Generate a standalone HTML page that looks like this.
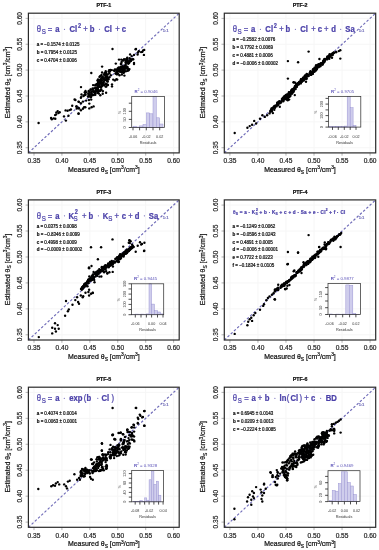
<!DOCTYPE html>
<html><head><meta charset="utf-8"><title>PTF scatter plots</title>
<style>html,body{margin:0;padding:0;background:#fff;} svg{display:block;filter:blur(0.35px);} text{font-family:'Liberation Sans', Arial, sans-serif;}</style>
</head><body>
<svg width="379" height="550" viewBox="0 0 379 550">
<rect width="379" height="550" fill="#fff"/>
<line x1="33.99" y1="13.2" x2="33.99" y2="152.9" stroke="#f6f6f6" stroke-width="1.0"/>
<line x1="28.4" y1="147.73" x2="179.2" y2="147.73" stroke="#f6f6f6" stroke-width="1.0"/>
<line x1="61.91" y1="13.2" x2="61.91" y2="152.9" stroke="#f6f6f6" stroke-width="1.0"/>
<line x1="28.4" y1="121.86" x2="179.2" y2="121.86" stroke="#f6f6f6" stroke-width="1.0"/>
<line x1="89.84" y1="13.2" x2="89.84" y2="152.9" stroke="#f6f6f6" stroke-width="1.0"/>
<line x1="28.4" y1="95.99" x2="179.2" y2="95.99" stroke="#f6f6f6" stroke-width="1.0"/>
<line x1="117.76" y1="13.2" x2="117.76" y2="152.9" stroke="#f6f6f6" stroke-width="1.0"/>
<line x1="28.4" y1="70.11" x2="179.2" y2="70.11" stroke="#f6f6f6" stroke-width="1.0"/>
<line x1="145.69" y1="13.2" x2="145.69" y2="152.9" stroke="#f6f6f6" stroke-width="1.0"/>
<line x1="28.4" y1="44.24" x2="179.2" y2="44.24" stroke="#f6f6f6" stroke-width="1.0"/>
<line x1="173.61" y1="13.2" x2="173.61" y2="152.9" stroke="#f6f6f6" stroke-width="1.0"/>
<line x1="28.4" y1="18.37" x2="179.2" y2="18.37" stroke="#f6f6f6" stroke-width="1.0"/>
<line x1="28.4" y1="152.9" x2="179.2" y2="13.2" stroke="#6f6bb8" stroke-width="1.15" stroke-dasharray="2.5,1.9"/>
<line x1="33.99" y1="152.9" x2="33.99" y2="155.70000000000002" stroke="#666" stroke-width="0.5"/>
<line x1="25.599999999999998" y1="147.73" x2="28.4" y2="147.73" stroke="#666" stroke-width="0.5"/>
<text stroke="#2a2a2a" stroke-width="0.22" x="33.99" y="163.10" font-size="6.6" text-anchor="middle" fill="#2a2a2a">0.35</text>
<text stroke="#2a2a2a" stroke-width="0.22" transform="translate(22.10,147.73) rotate(-90)" font-size="6.6" text-anchor="middle" fill="#2a2a2a">0.35</text>
<line x1="61.91" y1="152.9" x2="61.91" y2="155.70000000000002" stroke="#666" stroke-width="0.5"/>
<line x1="25.599999999999998" y1="121.86" x2="28.4" y2="121.86" stroke="#666" stroke-width="0.5"/>
<text stroke="#2a2a2a" stroke-width="0.22" x="61.91" y="163.10" font-size="6.6" text-anchor="middle" fill="#2a2a2a">0.40</text>
<text stroke="#2a2a2a" stroke-width="0.22" transform="translate(22.10,121.86) rotate(-90)" font-size="6.6" text-anchor="middle" fill="#2a2a2a">0.40</text>
<line x1="89.84" y1="152.9" x2="89.84" y2="155.70000000000002" stroke="#666" stroke-width="0.5"/>
<line x1="25.599999999999998" y1="95.99" x2="28.4" y2="95.99" stroke="#666" stroke-width="0.5"/>
<text stroke="#2a2a2a" stroke-width="0.22" x="89.84" y="163.10" font-size="6.6" text-anchor="middle" fill="#2a2a2a">0.45</text>
<text stroke="#2a2a2a" stroke-width="0.22" transform="translate(22.10,95.99) rotate(-90)" font-size="6.6" text-anchor="middle" fill="#2a2a2a">0.45</text>
<line x1="117.76" y1="152.9" x2="117.76" y2="155.70000000000002" stroke="#666" stroke-width="0.5"/>
<line x1="25.599999999999998" y1="70.11" x2="28.4" y2="70.11" stroke="#666" stroke-width="0.5"/>
<text stroke="#2a2a2a" stroke-width="0.22" x="117.76" y="163.10" font-size="6.6" text-anchor="middle" fill="#2a2a2a">0.50</text>
<text stroke="#2a2a2a" stroke-width="0.22" transform="translate(22.10,70.11) rotate(-90)" font-size="6.6" text-anchor="middle" fill="#2a2a2a">0.50</text>
<line x1="145.69" y1="152.9" x2="145.69" y2="155.70000000000002" stroke="#666" stroke-width="0.5"/>
<line x1="25.599999999999998" y1="44.24" x2="28.4" y2="44.24" stroke="#666" stroke-width="0.5"/>
<text stroke="#2a2a2a" stroke-width="0.22" x="145.69" y="163.10" font-size="6.6" text-anchor="middle" fill="#2a2a2a">0.55</text>
<text stroke="#2a2a2a" stroke-width="0.22" transform="translate(22.10,44.24) rotate(-90)" font-size="6.6" text-anchor="middle" fill="#2a2a2a">0.55</text>
<line x1="173.61" y1="152.9" x2="173.61" y2="155.70000000000002" stroke="#666" stroke-width="0.5"/>
<line x1="25.599999999999998" y1="18.37" x2="28.4" y2="18.37" stroke="#666" stroke-width="0.5"/>
<text stroke="#2a2a2a" stroke-width="0.22" x="173.61" y="163.10" font-size="6.6" text-anchor="middle" fill="#2a2a2a">0.60</text>
<text stroke="#2a2a2a" stroke-width="0.22" transform="translate(22.10,18.37) rotate(-90)" font-size="6.6" text-anchor="middle" fill="#2a2a2a">0.60</text>
<text stroke="#111" stroke-width="0.22" x="103.80" y="171.90" font-size="6.95" text-anchor="middle" fill="#111">Measured θ<tspan font-size="4.9" dy="1.6">S</tspan><tspan dy="-1.6"> [cm</tspan><tspan font-size="4.9" dy="-2.7">3</tspan><tspan dy="2.7">/cm</tspan><tspan font-size="4.9" dy="-2.7">3</tspan><tspan dy="2.7">]</tspan></text>
<text stroke="#1a1a1a" stroke-width="0.22" transform="translate(9.50,82.55) rotate(-90)" font-size="6.95" text-anchor="middle" fill="#1a1a1a">Estimated θ<tspan font-size="4.9" dy="1.6">S</tspan><tspan dy="-1.6"> [cm</tspan><tspan font-size="4.9" dy="-2.7">3</tspan><tspan dy="2.7">/cm</tspan><tspan font-size="4.9" dy="-2.7">3</tspan><tspan dy="2.7">]</tspan></text>
<text stroke="#111" stroke-width="0.22" x="103.80" y="6.90" font-size="5.3" font-weight="bold" text-anchor="middle" fill="#111">PTF-1</text>
<circle cx="38.6" cy="123.0" r="1.2"/>
<circle cx="51.1" cy="118.0" r="1.2"/>
<circle cx="51.8" cy="119.3" r="1.2"/>
<circle cx="53.7" cy="118.4" r="1.2"/>
<circle cx="55.3" cy="118.8" r="1.2"/>
<circle cx="55.1" cy="115.1" r="1.2"/>
<circle cx="56.4" cy="112.4" r="1.2"/>
<circle cx="57.7" cy="111.1" r="1.2"/>
<circle cx="58.4" cy="113.1" r="1.2"/>
<circle cx="59.7" cy="112.2" r="1.2"/>
<circle cx="56.1" cy="114.4" r="1.2"/>
<circle cx="64.0" cy="116.4" r="1.2"/>
<circle cx="65.9" cy="120.6" r="1.2"/>
<circle cx="65.6" cy="110.4" r="1.2"/>
<circle cx="67.6" cy="110.8" r="1.2"/>
<circle cx="68.5" cy="115.7" r="1.2"/>
<circle cx="69.6" cy="110.1" r="1.2"/>
<circle cx="70.9" cy="109.5" r="1.2"/>
<circle cx="72.2" cy="105.8" r="1.2"/>
<circle cx="74.6" cy="99.5" r="1.2"/>
<circle cx="76.4" cy="106.5" r="1.2"/>
<circle cx="76.8" cy="108.5" r="1.2"/>
<circle cx="78.5" cy="113.7" r="1.2"/>
<circle cx="78.8" cy="101.9" r="1.2"/>
<circle cx="79.1" cy="108.5" r="1.2"/>
<circle cx="78.6" cy="113.5" r="1.2"/>
<circle cx="76.6" cy="106.4" r="1.2"/>
<circle cx="78.6" cy="108.0" r="1.2"/>
<circle cx="80.9" cy="110.3" r="1.2"/>
<circle cx="82.9" cy="108.8" r="1.2"/>
<circle cx="84.1" cy="107.2" r="1.2"/>
<circle cx="85.3" cy="107.2" r="1.2"/>
<circle cx="78.6" cy="101.6" r="1.2"/>
<circle cx="80.9" cy="97.7" r="1.2"/>
<circle cx="80.9" cy="103.2" r="1.2"/>
<circle cx="82.9" cy="101.6" r="1.2"/>
<circle cx="89.3" cy="103.6" r="1.2"/>
<circle cx="89.3" cy="108.4" r="1.2"/>
<circle cx="91.6" cy="107.2" r="1.2"/>
<circle cx="93.6" cy="106.4" r="1.2"/>
<circle cx="88.9" cy="100.0" r="1.2"/>
<circle cx="91.2" cy="99.6" r="1.2"/>
<circle cx="75.4" cy="100.0" r="1.2"/>
<circle cx="98.0" cy="91.3" r="1.2"/>
<circle cx="100.3" cy="95.3" r="1.2"/>
<circle cx="102.7" cy="93.7" r="1.2"/>
<circle cx="95.6" cy="92.1" r="1.2"/>
<circle cx="98.0" cy="92.9" r="1.2"/>
<circle cx="102.1" cy="66.6" r="1.2"/>
<circle cx="102.1" cy="72.5" r="1.2"/>
<circle cx="112.0" cy="84.4" r="1.2"/>
<circle cx="112.0" cy="86.4" r="1.2"/>
<circle cx="106.1" cy="92.7" r="1.2"/>
<circle cx="102.9" cy="91.1" r="1.2"/>
<circle cx="98.2" cy="91.1" r="1.2"/>
<circle cx="118.8" cy="67.8" r="1.2"/>
<circle cx="121.1" cy="66.6" r="1.2"/>
<circle cx="116.4" cy="79.3" r="1.2"/>
<circle cx="114.8" cy="80.4" r="1.2"/>
<circle cx="113.2" cy="79.6" r="1.2"/>
<circle cx="119.5" cy="75.3" r="1.2"/>
<circle cx="121.9" cy="74.5" r="1.2"/>
<circle cx="123.5" cy="72.9" r="1.2"/>
<circle cx="110.8" cy="75.3" r="1.2"/>
<circle cx="108.5" cy="79.3" r="1.2"/>
<circle cx="109.3" cy="77.3" r="1.2"/>
<circle cx="136.0" cy="49.0" r="1.2"/>
<circle cx="138.0" cy="52.5" r="1.2"/>
<circle cx="138.8" cy="51.3" r="1.2"/>
<circle cx="141.1" cy="52.1" r="1.2"/>
<circle cx="143.1" cy="50.5" r="1.2"/>
<circle cx="143.9" cy="54.9" r="1.2"/>
<circle cx="137.6" cy="54.5" r="1.2"/>
<circle cx="134.0" cy="54.9" r="1.2"/>
<circle cx="131.6" cy="56.1" r="1.2"/>
<circle cx="119.0" cy="59.6" r="1.2"/>
<circle cx="121.3" cy="59.6" r="1.2"/>
<circle cx="122.9" cy="60.4" r="1.2"/>
<circle cx="120.9" cy="64.0" r="1.2"/>
<circle cx="115.8" cy="63.6" r="1.2"/>
<circle cx="118.6" cy="67.6" r="1.2"/>
<circle cx="127.3" cy="57.7" r="1.2"/>
<circle cx="134.0" cy="64.0" r="1.2"/>
<circle cx="133.2" cy="59.3" r="1.2"/>
<circle cx="112.5" cy="49.0" r="1.2"/>
<circle cx="144.2" cy="49.9" r="1.2"/>
<circle cx="124.4" cy="75.6" r="1.2"/>
<circle cx="117.2" cy="79.6" r="1.2"/>
<circle cx="91.3" cy="73.0" r="1.2"/>
<circle cx="135.6" cy="49.2" r="1.2"/>
<circle cx="142.2" cy="51.9" r="1.2"/>
<circle cx="95.6" cy="84.6" r="1.2"/>
<circle cx="97.3" cy="85.4" r="1.2"/>
<circle cx="84.8" cy="92.3" r="1.2"/>
<circle cx="101.7" cy="86.3" r="1.2"/>
<circle cx="95.3" cy="93.3" r="1.2"/>
<circle cx="97.6" cy="87.1" r="1.2"/>
<circle cx="97.0" cy="87.7" r="1.2"/>
<circle cx="105.0" cy="79.7" r="1.2"/>
<circle cx="107.4" cy="79.3" r="1.2"/>
<circle cx="105.4" cy="75.7" r="1.2"/>
<circle cx="105.9" cy="72.9" r="1.2"/>
<circle cx="98.8" cy="81.1" r="1.2"/>
<circle cx="91.2" cy="94.6" r="1.2"/>
<circle cx="105.2" cy="77.5" r="1.2"/>
<circle cx="88.0" cy="96.6" r="1.2"/>
<circle cx="89.8" cy="92.7" r="1.2"/>
<circle cx="99.9" cy="76.4" r="1.2"/>
<circle cx="98.8" cy="93.6" r="1.2"/>
<circle cx="100.5" cy="76.0" r="1.2"/>
<circle cx="92.9" cy="94.8" r="1.2"/>
<circle cx="102.8" cy="85.3" r="1.2"/>
<circle cx="96.5" cy="89.8" r="1.2"/>
<circle cx="92.6" cy="88.4" r="1.2"/>
<circle cx="94.6" cy="91.7" r="1.2"/>
<circle cx="107.9" cy="85.0" r="1.2"/>
<circle cx="100.8" cy="79.1" r="1.2"/>
<circle cx="99.5" cy="86.1" r="1.2"/>
<circle cx="103.9" cy="79.3" r="1.2"/>
<circle cx="104.1" cy="85.2" r="1.2"/>
<circle cx="95.3" cy="93.1" r="1.2"/>
<circle cx="103.0" cy="82.7" r="1.2"/>
<circle cx="95.3" cy="94.8" r="1.2"/>
<circle cx="99.5" cy="77.1" r="1.2"/>
<circle cx="100.8" cy="82.6" r="1.2"/>
<circle cx="91.5" cy="93.2" r="1.2"/>
<circle cx="103.3" cy="84.9" r="1.2"/>
<circle cx="91.3" cy="91.7" r="1.2"/>
<circle cx="106.9" cy="74.7" r="1.2"/>
<circle cx="100.9" cy="81.1" r="1.2"/>
<circle cx="100.9" cy="87.5" r="1.2"/>
<circle cx="102.9" cy="83.4" r="1.2"/>
<circle cx="100.5" cy="90.6" r="1.2"/>
<circle cx="93.9" cy="91.7" r="1.2"/>
<circle cx="109.2" cy="70.1" r="1.2"/>
<circle cx="101.3" cy="89.4" r="1.2"/>
<circle cx="88.5" cy="95.0" r="1.2"/>
<circle cx="98.2" cy="91.7" r="1.2"/>
<circle cx="91.7" cy="95.3" r="1.2"/>
<circle cx="98.6" cy="91.0" r="1.2"/>
<circle cx="106.0" cy="72.7" r="1.2"/>
<circle cx="92.1" cy="91.6" r="1.2"/>
<circle cx="97.5" cy="89.6" r="1.2"/>
<circle cx="110.5" cy="70.0" r="1.2"/>
<circle cx="90.8" cy="89.8" r="1.2"/>
<circle cx="101.2" cy="83.4" r="1.2"/>
<circle cx="107.3" cy="84.6" r="1.2"/>
<circle cx="88.3" cy="93.5" r="1.2"/>
<circle cx="98.1" cy="82.8" r="1.2"/>
<circle cx="94.1" cy="92.0" r="1.2"/>
<circle cx="98.9" cy="82.5" r="1.2"/>
<circle cx="98.2" cy="80.1" r="1.2"/>
<circle cx="109.8" cy="71.4" r="1.2"/>
<circle cx="102.6" cy="77.3" r="1.2"/>
<circle cx="98.0" cy="80.8" r="1.2"/>
<circle cx="101.2" cy="83.7" r="1.2"/>
<circle cx="107.7" cy="74.5" r="1.2"/>
<circle cx="91.5" cy="95.7" r="1.2"/>
<circle cx="108.6" cy="71.5" r="1.2"/>
<circle cx="107.0" cy="80.3" r="1.2"/>
<circle cx="105.7" cy="71.3" r="1.2"/>
<circle cx="94.1" cy="88.4" r="1.2"/>
<circle cx="97.2" cy="90.7" r="1.2"/>
<circle cx="97.1" cy="88.5" r="1.2"/>
<circle cx="98.6" cy="83.2" r="1.2"/>
<circle cx="109.8" cy="70.3" r="1.2"/>
<circle cx="95.9" cy="90.9" r="1.2"/>
<circle cx="97.5" cy="80.6" r="1.2"/>
<circle cx="104.2" cy="79.8" r="1.2"/>
<circle cx="100.9" cy="79.8" r="1.2"/>
<circle cx="100.0" cy="82.9" r="1.2"/>
<circle cx="89.8" cy="95.4" r="1.2"/>
<circle cx="106.5" cy="79.9" r="1.2"/>
<circle cx="105.0" cy="79.9" r="1.2"/>
<circle cx="101.2" cy="86.6" r="1.2"/>
<circle cx="89.0" cy="96.4" r="1.2"/>
<circle cx="102.0" cy="77.8" r="1.2"/>
<circle cx="101.8" cy="84.9" r="1.2"/>
<circle cx="98.0" cy="79.4" r="1.2"/>
<circle cx="100.5" cy="90.1" r="1.2"/>
<circle cx="89.6" cy="95.2" r="1.2"/>
<circle cx="98.5" cy="83.0" r="1.2"/>
<circle cx="100.0" cy="90.7" r="1.2"/>
<circle cx="83.4" cy="96.0" r="1.2"/>
<circle cx="97.9" cy="85.8" r="1.2"/>
<circle cx="101.7" cy="84.6" r="1.2"/>
<circle cx="90.6" cy="89.4" r="1.2"/>
<circle cx="93.8" cy="95.0" r="1.2"/>
<circle cx="84.3" cy="95.2" r="1.2"/>
<circle cx="103.7" cy="81.8" r="1.2"/>
<circle cx="100.8" cy="81.4" r="1.2"/>
<circle cx="95.3" cy="87.9" r="1.2"/>
<circle cx="99.5" cy="80.3" r="1.2"/>
<circle cx="105.4" cy="83.7" r="1.2"/>
<circle cx="104.1" cy="74.7" r="1.2"/>
<circle cx="85.5" cy="94.8" r="1.2"/>
<circle cx="105.6" cy="86.6" r="1.2"/>
<circle cx="102.6" cy="84.7" r="1.2"/>
<circle cx="99.8" cy="86.8" r="1.2"/>
<circle cx="104.6" cy="73.2" r="1.2"/>
<circle cx="98.6" cy="86.8" r="1.2"/>
<circle cx="106.3" cy="86.5" r="1.2"/>
<circle cx="105.1" cy="73.9" r="1.2"/>
<circle cx="106.3" cy="78.7" r="1.2"/>
<circle cx="85.0" cy="94.3" r="1.2"/>
<circle cx="99.0" cy="82.3" r="1.2"/>
<circle cx="102.6" cy="76.6" r="1.2"/>
<circle cx="92.8" cy="89.7" r="1.2"/>
<circle cx="103.3" cy="84.9" r="1.2"/>
<circle cx="106.1" cy="76.8" r="1.2"/>
<circle cx="105.9" cy="84.0" r="1.2"/>
<circle cx="107.1" cy="84.7" r="1.2"/>
<circle cx="98.4" cy="84.8" r="1.2"/>
<circle cx="98.4" cy="91.6" r="1.2"/>
<circle cx="101.5" cy="74.9" r="1.2"/>
<circle cx="88.7" cy="90.9" r="1.2"/>
<circle cx="97.7" cy="90.9" r="1.2"/>
<circle cx="96.9" cy="83.9" r="1.2"/>
<circle cx="97.8" cy="89.2" r="1.2"/>
<circle cx="106.1" cy="80.3" r="1.2"/>
<circle cx="90.8" cy="97.2" r="1.2"/>
<circle cx="105.3" cy="72.9" r="1.2"/>
<circle cx="114.7" cy="71.0" r="1.2"/>
<circle cx="116.6" cy="73.1" r="1.2"/>
<circle cx="120.5" cy="69.2" r="1.2"/>
<circle cx="116.0" cy="69.6" r="1.2"/>
<circle cx="115.9" cy="73.4" r="1.2"/>
<circle cx="117.4" cy="71.7" r="1.2"/>
<circle cx="123.0" cy="71.2" r="1.2"/>
<circle cx="116.9" cy="74.4" r="1.2"/>
<circle cx="124.1" cy="70.1" r="1.2"/>
<circle cx="119.3" cy="69.1" r="1.2"/>
<circle cx="122.8" cy="70.4" r="1.2"/>
<circle cx="119.8" cy="71.5" r="1.2"/>
<circle cx="121.2" cy="69.3" r="1.2"/>
<circle cx="118.1" cy="73.7" r="1.2"/>
<circle cx="121.8" cy="72.2" r="1.2"/>
<circle cx="117.5" cy="69.4" r="1.2"/>
<circle cx="123.6" cy="71.5" r="1.2"/>
<circle cx="116.9" cy="71.6" r="1.2"/>
<circle cx="115.7" cy="73.5" r="1.2"/>
<circle cx="114.9" cy="69.5" r="1.2"/>
<circle cx="121.9" cy="68.2" r="1.2"/>
<circle cx="119.3" cy="71.1" r="1.2"/>
<circle cx="123.4" cy="69.8" r="1.2"/>
<circle cx="122.7" cy="70.7" r="1.2"/>
<circle cx="132.4" cy="59.4" r="1.2"/>
<circle cx="130.7" cy="61.1" r="1.2"/>
<circle cx="125.3" cy="65.8" r="1.2"/>
<circle cx="118.0" cy="70.2" r="1.2"/>
<circle cx="123.9" cy="68.5" r="1.2"/>
<circle cx="121.8" cy="68.1" r="1.2"/>
<circle cx="123.8" cy="72.2" r="1.2"/>
<circle cx="128.5" cy="61.6" r="1.2"/>
<circle cx="125.7" cy="64.8" r="1.2"/>
<circle cx="130.2" cy="61.1" r="1.2"/>
<circle cx="126.7" cy="62.3" r="1.2"/>
<circle cx="122.5" cy="67.8" r="1.2"/>
<circle cx="128.9" cy="62.9" r="1.2"/>
<circle cx="128.8" cy="62.9" r="1.2"/>
<circle cx="130.7" cy="59.4" r="1.2"/>
<circle cx="127.9" cy="68.4" r="1.2"/>
<circle cx="124.7" cy="67.5" r="1.2"/>
<circle cx="122.6" cy="68.3" r="1.2"/>
<circle cx="127.5" cy="67.0" r="1.2"/>
<circle cx="121.5" cy="67.6" r="1.2"/>
<circle cx="124.7" cy="69.6" r="1.2"/>
<circle cx="118.0" cy="69.3" r="1.2"/>
<circle cx="117.7" cy="68.5" r="1.2"/>
<circle cx="128.6" cy="70.3" r="1.2"/>
<circle cx="126.9" cy="61.0" r="1.2"/>
<circle cx="126.0" cy="68.3" r="1.2"/>
<circle cx="121.3" cy="71.7" r="1.2"/>
<circle cx="117.6" cy="71.3" r="1.2"/>
<circle cx="125.3" cy="66.3" r="1.2"/>
<circle cx="125.6" cy="62.0" r="1.2"/>
<circle cx="117.3" cy="70.1" r="1.2"/>
<circle cx="120.5" cy="71.2" r="1.2"/>
<circle cx="130.8" cy="60.8" r="1.2"/>
<circle cx="127.5" cy="62.6" r="1.2"/>
<circle cx="127.8" cy="68.9" r="1.2"/>
<circle cx="122.3" cy="66.7" r="1.2"/>
<circle cx="125.8" cy="60.6" r="1.2"/>
<circle cx="125.8" cy="62.9" r="1.2"/>
<circle cx="127.2" cy="58.7" r="1.2"/>
<circle cx="127.7" cy="60.2" r="1.2"/>
<circle cx="126.9" cy="68.2" r="1.2"/>
<circle cx="129.4" cy="69.1" r="1.2"/>
<circle cx="125.8" cy="71.3" r="1.2"/>
<circle cx="125.0" cy="65.8" r="1.2"/>
<circle cx="123.2" cy="71.3" r="1.2"/>
<circle cx="129.3" cy="62.5" r="1.2"/>
<circle cx="126.3" cy="59.1" r="1.2"/>
<circle cx="127.6" cy="70.8" r="1.2"/>
<circle cx="123.0" cy="69.9" r="1.2"/>
<circle cx="81.5" cy="94.5" r="1.2"/>
<circle cx="95.2" cy="92.8" r="1.2"/>
<circle cx="81.0" cy="87.1" r="1.2"/>
<circle cx="81.2" cy="97.1" r="1.2"/>
<circle cx="86.1" cy="100.6" r="1.2"/>
<circle cx="93.1" cy="85.1" r="1.2"/>
<circle cx="88.9" cy="91.5" r="1.2"/>
<circle cx="95.2" cy="85.5" r="1.2"/>
<circle cx="93.8" cy="91.2" r="1.2"/>
<circle cx="86.2" cy="92.4" r="1.2"/>
<circle cx="96.3" cy="89.7" r="1.2"/>
<circle cx="85.5" cy="90.9" r="1.2"/>
<circle cx="108.2" cy="78.1" r="1.2"/>
<circle cx="107.6" cy="81.4" r="1.2"/>
<circle cx="97.3" cy="90.5" r="1.2"/>
<circle cx="97.8" cy="88.8" r="1.2"/>
<circle cx="107.5" cy="81.5" r="1.2"/>
<circle cx="109.3" cy="73.2" r="1.2"/>
<circle cx="100.7" cy="81.1" r="1.2"/>
<circle cx="99.0" cy="84.9" r="1.2"/>
<circle cx="103.5" cy="79.0" r="1.2"/>
<circle cx="103.5" cy="82.0" r="1.2"/>
<circle cx="101.9" cy="80.4" r="1.2"/>
<circle cx="107.3" cy="77.0" r="1.2"/>
<circle cx="96.2" cy="89.2" r="1.2"/>
<circle cx="102.8" cy="78.5" r="1.2"/>
<circle cx="120.1" cy="67.4" r="1.2"/>
<circle cx="122.7" cy="68.5" r="1.2"/>
<circle cx="122.5" cy="66.5" r="1.2"/>
<circle cx="121.1" cy="71.6" r="1.2"/>
<circle cx="125.1" cy="67.9" r="1.2"/>
<circle cx="123.5" cy="60.2" r="1.2"/>
<circle cx="119.2" cy="71.0" r="1.2"/>
<circle cx="121.3" cy="64.1" r="1.2"/>
<circle cx="121.6" cy="61.9" r="1.2"/>
<circle cx="121.1" cy="63.8" r="1.2"/>
<circle cx="126.4" cy="67.3" r="1.2"/>
<circle cx="111.8" cy="70.1" r="1.2"/>
<circle cx="114.0" cy="70.6" r="1.2"/>
<circle cx="123.5" cy="66.5" r="1.2"/>
<circle cx="126.5" cy="58.9" r="1.2"/>
<circle cx="124.1" cy="59.2" r="1.2"/>
<circle cx="130.2" cy="60.7" r="1.2"/>
<circle cx="126.7" cy="66.7" r="1.2"/>
<circle cx="129.7" cy="58.3" r="1.2"/>
<circle cx="134.0" cy="62.9" r="1.2"/>
<circle cx="130.1" cy="54.4" r="1.2"/>
<circle cx="128.3" cy="63.8" r="1.2"/>
<circle cx="127.2" cy="61.8" r="1.2"/>
<circle cx="131.8" cy="59.4" r="1.2"/>
<rect x="133.00" y="126.20" width="3.30" height="1.30" fill="#cfcdec" stroke="#9c96d4" stroke-width="0.5"/>
<rect x="136.30" y="127.00" width="3.30" height="0.50" fill="#cfcdec" stroke="#9c96d4" stroke-width="0.5"/>
<rect x="139.60" y="125.90" width="3.40" height="1.60" fill="#cfcdec" stroke="#9c96d4" stroke-width="0.5"/>
<rect x="143.00" y="124.50" width="3.30" height="3.00" fill="#cfcdec" stroke="#9c96d4" stroke-width="0.5"/>
<rect x="146.30" y="112.90" width="3.40" height="14.60" fill="#cfcdec" stroke="#9c96d4" stroke-width="0.5"/>
<rect x="149.70" y="113.80" width="3.30" height="13.70" fill="#cfcdec" stroke="#9c96d4" stroke-width="0.5"/>
<rect x="153.00" y="96.50" width="3.30" height="31.00" fill="#cfcdec" stroke="#9c96d4" stroke-width="0.5"/>
<rect x="156.30" y="117.80" width="3.40" height="9.70" fill="#cfcdec" stroke="#9c96d4" stroke-width="0.5"/>
<rect x="159.70" y="124.00" width="3.30" height="3.50" fill="#cfcdec" stroke="#9c96d4" stroke-width="0.5"/>
<rect x="131.70" y="96.40" width="32.80" height="31.10" fill="none" stroke="#333" stroke-width="0.75"/>
<line x1="133.00" y1="127.50" x2="133.00" y2="130.30" stroke="#222" stroke-width="0.8"/>
<text x="133.00" y="137.90" font-size="3.7" text-anchor="middle" fill="#333" stroke="none">-0.06</text>
<line x1="139.60" y1="127.50" x2="139.60" y2="130.30" stroke="#222" stroke-width="0.8"/>
<line x1="146.30" y1="127.50" x2="146.30" y2="130.30" stroke="#222" stroke-width="0.8"/>
<text x="146.30" y="137.90" font-size="3.7" text-anchor="middle" fill="#333" stroke="none">-0.02</text>
<line x1="153.00" y1="127.50" x2="153.00" y2="130.30" stroke="#222" stroke-width="0.8"/>
<line x1="159.70" y1="127.50" x2="159.70" y2="130.30" stroke="#222" stroke-width="0.8"/>
<text x="159.70" y="137.90" font-size="3.7" text-anchor="middle" fill="#333" stroke="none">0.02</text>
<line x1="128.80" y1="127.50" x2="131.70" y2="127.50" stroke="#222" stroke-width="0.8"/>
<text transform="translate(125.80,127.50) rotate(-90)" font-size="3.7" text-anchor="middle" fill="#333" stroke="none">0</text>
<line x1="128.80" y1="119.40" x2="131.70" y2="119.40" stroke="#222" stroke-width="0.8"/>
<text transform="translate(125.80,119.40) rotate(-90)" font-size="3.7" text-anchor="middle" fill="#333" stroke="none">50</text>
<line x1="128.80" y1="111.30" x2="131.70" y2="111.30" stroke="#222" stroke-width="0.8"/>
<text transform="translate(125.80,111.30) rotate(-90)" font-size="3.7" text-anchor="middle" fill="#333" stroke="none">100</text>
<line x1="128.80" y1="103.20" x2="131.70" y2="103.20" stroke="#222" stroke-width="0.8"/>
<text x="148.10" y="143.90" font-size="3.8" text-anchor="middle" fill="#333" stroke="none">Residuals</text>
<text transform="translate(120.70,112.45) rotate(-90)" font-size="3.4" text-anchor="middle" fill="#666" stroke="none">%</text>
<text x="146.10" y="92.80" font-size="4.35" text-anchor="middle" fill="#5b52b8" stroke="none"><tspan font-weight="bold">R</tspan><tspan font-size="3.0" dy="-2">2</tspan><tspan dy="2"> = 0.9046</tspan></text>
<rect x="28.4" y="13.2" width="150.80" height="139.70" fill="none" stroke="#2a2a2a" stroke-width="1.2"/>
<text stroke="#6f6bb8" stroke-width="0.22" x="162.80" y="32.30" font-size="4.1" fill="#6f6bb8">1:1</text>
<text stroke="#4b41a9" stroke-width="0.22" transform="translate(38.95,32.20) scale(0.9,1.13)" font-size="8.6" font-weight="normal" text-anchor="middle" fill="#4b41a9">θ</text>
<text stroke="#4b41a9" stroke-width="0.22" transform="translate(43.70,34.30) scale(1.0,1.13)" font-size="6.2" font-weight="normal" text-anchor="middle" fill="#4b41a9">S</text>
<text stroke="#4b41a9" stroke-width="0.22" transform="translate(50.00,32.20) scale(1.0,1.13)" font-size="7.7" font-weight="normal" text-anchor="middle" fill="#4b41a9">=</text>
<text stroke="#4b41a9" stroke-width="0.22" transform="translate(57.35,32.20) scale(1.0,1.13)" font-size="7.7" font-weight="bold" text-anchor="middle" fill="#4b41a9">a</text>
<circle cx="64.50" cy="29.30" r="0.6" fill="#4b41a9" opacity="0.8"/>
<text stroke="#4b41a9" stroke-width="0.22" transform="translate(73.30,32.20) scale(1.0,1.13)" font-size="7.7" font-weight="bold" text-anchor="middle" fill="#4b41a9">Cl</text>
<text stroke="#4b41a9" stroke-width="0.22" transform="translate(79.50,27.90) scale(1.0,1.13)" font-size="5.6" font-weight="bold" text-anchor="middle" fill="#4b41a9">2</text>
<text stroke="#4b41a9" stroke-width="0.22" transform="translate(85.60,32.20) scale(1.0,1.13)" font-size="7.7" font-weight="normal" text-anchor="middle" fill="#4b41a9">+</text>
<text stroke="#4b41a9" stroke-width="0.22" transform="translate(92.00,32.20) scale(1.0,1.13)" font-size="7.7" font-weight="bold" text-anchor="middle" fill="#4b41a9">b</text>
<circle cx="99.50" cy="29.30" r="0.6" fill="#4b41a9" opacity="0.8"/>
<text stroke="#4b41a9" stroke-width="0.22" transform="translate(108.10,32.20) scale(1.0,1.13)" font-size="7.7" font-weight="bold" text-anchor="middle" fill="#4b41a9">Cl</text>
<text stroke="#4b41a9" stroke-width="0.22" transform="translate(117.50,32.20) scale(1.0,1.13)" font-size="7.7" font-weight="normal" text-anchor="middle" fill="#4b41a9">+</text>
<text stroke="#4b41a9" stroke-width="0.22" transform="translate(123.90,32.20) scale(1.0,1.13)" font-size="7.7" font-weight="bold" text-anchor="middle" fill="#4b41a9">c</text>
<text stroke="#161616" stroke-width="0.22" x="36.70" y="45.80" font-size="4.5" fill="#161616"><tspan font-weight="bold">a</tspan> = −0.1574 ± 0.0125</text>
<text stroke="#161616" stroke-width="0.22" x="36.70" y="53.65" font-size="4.5" fill="#161616"><tspan font-weight="bold">b</tspan> = 0.7954 ± 0.0125</text>
<text stroke="#161616" stroke-width="0.22" x="36.70" y="61.50" font-size="4.5" fill="#161616"><tspan font-weight="bold">c</tspan> = 0.4704 ± 0.0006</text>
<line x1="229.91" y1="13.2" x2="229.91" y2="152.9" stroke="#f6f6f6" stroke-width="1.0"/>
<line x1="224.3" y1="147.73" x2="375.7" y2="147.73" stroke="#f6f6f6" stroke-width="1.0"/>
<line x1="257.94" y1="13.2" x2="257.94" y2="152.9" stroke="#f6f6f6" stroke-width="1.0"/>
<line x1="224.3" y1="121.86" x2="375.7" y2="121.86" stroke="#f6f6f6" stroke-width="1.0"/>
<line x1="285.98" y1="13.2" x2="285.98" y2="152.9" stroke="#f6f6f6" stroke-width="1.0"/>
<line x1="224.3" y1="95.99" x2="375.7" y2="95.99" stroke="#f6f6f6" stroke-width="1.0"/>
<line x1="314.02" y1="13.2" x2="314.02" y2="152.9" stroke="#f6f6f6" stroke-width="1.0"/>
<line x1="224.3" y1="70.11" x2="375.7" y2="70.11" stroke="#f6f6f6" stroke-width="1.0"/>
<line x1="342.06" y1="13.2" x2="342.06" y2="152.9" stroke="#f6f6f6" stroke-width="1.0"/>
<line x1="224.3" y1="44.24" x2="375.7" y2="44.24" stroke="#f6f6f6" stroke-width="1.0"/>
<line x1="370.09" y1="13.2" x2="370.09" y2="152.9" stroke="#f6f6f6" stroke-width="1.0"/>
<line x1="224.3" y1="18.37" x2="375.7" y2="18.37" stroke="#f6f6f6" stroke-width="1.0"/>
<line x1="224.3" y1="152.9" x2="375.7" y2="13.2" stroke="#6f6bb8" stroke-width="1.15" stroke-dasharray="2.5,1.9"/>
<line x1="229.91" y1="152.9" x2="229.91" y2="155.70000000000002" stroke="#666" stroke-width="0.5"/>
<line x1="221.5" y1="147.73" x2="224.3" y2="147.73" stroke="#666" stroke-width="0.5"/>
<text stroke="#2a2a2a" stroke-width="0.22" x="229.91" y="163.10" font-size="6.6" text-anchor="middle" fill="#2a2a2a">0.35</text>
<text stroke="#2a2a2a" stroke-width="0.22" transform="translate(218.00,147.73) rotate(-90)" font-size="6.6" text-anchor="middle" fill="#2a2a2a">0.35</text>
<line x1="257.94" y1="152.9" x2="257.94" y2="155.70000000000002" stroke="#666" stroke-width="0.5"/>
<line x1="221.5" y1="121.86" x2="224.3" y2="121.86" stroke="#666" stroke-width="0.5"/>
<text stroke="#2a2a2a" stroke-width="0.22" x="257.94" y="163.10" font-size="6.6" text-anchor="middle" fill="#2a2a2a">0.40</text>
<text stroke="#2a2a2a" stroke-width="0.22" transform="translate(218.00,121.86) rotate(-90)" font-size="6.6" text-anchor="middle" fill="#2a2a2a">0.40</text>
<line x1="285.98" y1="152.9" x2="285.98" y2="155.70000000000002" stroke="#666" stroke-width="0.5"/>
<line x1="221.5" y1="95.99" x2="224.3" y2="95.99" stroke="#666" stroke-width="0.5"/>
<text stroke="#2a2a2a" stroke-width="0.22" x="285.98" y="163.10" font-size="6.6" text-anchor="middle" fill="#2a2a2a">0.45</text>
<text stroke="#2a2a2a" stroke-width="0.22" transform="translate(218.00,95.99) rotate(-90)" font-size="6.6" text-anchor="middle" fill="#2a2a2a">0.45</text>
<line x1="314.02" y1="152.9" x2="314.02" y2="155.70000000000002" stroke="#666" stroke-width="0.5"/>
<line x1="221.5" y1="70.11" x2="224.3" y2="70.11" stroke="#666" stroke-width="0.5"/>
<text stroke="#2a2a2a" stroke-width="0.22" x="314.02" y="163.10" font-size="6.6" text-anchor="middle" fill="#2a2a2a">0.50</text>
<text stroke="#2a2a2a" stroke-width="0.22" transform="translate(218.00,70.11) rotate(-90)" font-size="6.6" text-anchor="middle" fill="#2a2a2a">0.50</text>
<line x1="342.06" y1="152.9" x2="342.06" y2="155.70000000000002" stroke="#666" stroke-width="0.5"/>
<line x1="221.5" y1="44.24" x2="224.3" y2="44.24" stroke="#666" stroke-width="0.5"/>
<text stroke="#2a2a2a" stroke-width="0.22" x="342.06" y="163.10" font-size="6.6" text-anchor="middle" fill="#2a2a2a">0.55</text>
<text stroke="#2a2a2a" stroke-width="0.22" transform="translate(218.00,44.24) rotate(-90)" font-size="6.6" text-anchor="middle" fill="#2a2a2a">0.55</text>
<line x1="370.09" y1="152.9" x2="370.09" y2="155.70000000000002" stroke="#666" stroke-width="0.5"/>
<line x1="221.5" y1="18.37" x2="224.3" y2="18.37" stroke="#666" stroke-width="0.5"/>
<text stroke="#2a2a2a" stroke-width="0.22" x="370.09" y="163.10" font-size="6.6" text-anchor="middle" fill="#2a2a2a">0.60</text>
<text stroke="#2a2a2a" stroke-width="0.22" transform="translate(218.00,18.37) rotate(-90)" font-size="6.6" text-anchor="middle" fill="#2a2a2a">0.60</text>
<text stroke="#111" stroke-width="0.22" x="300.00" y="171.90" font-size="6.95" text-anchor="middle" fill="#111">Measured θ<tspan font-size="4.9" dy="1.6">S</tspan><tspan dy="-1.6"> [cm</tspan><tspan font-size="4.9" dy="-2.7">3</tspan><tspan dy="2.7">/cm</tspan><tspan font-size="4.9" dy="-2.7">3</tspan><tspan dy="2.7">]</tspan></text>
<text stroke="#1a1a1a" stroke-width="0.22" transform="translate(205.40,82.55) rotate(-90)" font-size="6.95" text-anchor="middle" fill="#1a1a1a">Estimated θ<tspan font-size="4.9" dy="1.6">S</tspan><tspan dy="-1.6"> [cm</tspan><tspan font-size="4.9" dy="-2.7">3</tspan><tspan dy="2.7">/cm</tspan><tspan font-size="4.9" dy="-2.7">3</tspan><tspan dy="2.7">]</tspan></text>
<text stroke="#111" stroke-width="0.22" x="300.00" y="6.90" font-size="5.3" font-weight="bold" text-anchor="middle" fill="#111">PTF-2</text>
<circle cx="234.7" cy="133.0" r="1.2"/>
<circle cx="247.4" cy="127.7" r="1.2"/>
<circle cx="249.7" cy="126.1" r="1.2"/>
<circle cx="252.1" cy="124.8" r="1.2"/>
<circle cx="254.2" cy="120.9" r="1.2"/>
<circle cx="256.1" cy="123.5" r="1.2"/>
<circle cx="260.0" cy="118.8" r="1.2"/>
<circle cx="262.4" cy="115.3" r="1.2"/>
<circle cx="264.8" cy="116.9" r="1.2"/>
<circle cx="267.1" cy="115.3" r="1.2"/>
<circle cx="269.5" cy="113.4" r="1.2"/>
<circle cx="271.9" cy="111.4" r="1.2"/>
<circle cx="274.3" cy="109.8" r="1.2"/>
<circle cx="308.6" cy="51.6" r="1.2"/>
<circle cx="287.9" cy="61.1" r="1.2"/>
<circle cx="298.1" cy="62.2" r="1.2"/>
<circle cx="287.9" cy="78.6" r="1.2"/>
<circle cx="340.3" cy="58.6" r="1.2"/>
<circle cx="332.0" cy="57.8" r="1.2"/>
<circle cx="319.4" cy="59.0" r="1.2"/>
<circle cx="334.0" cy="52.7" r="1.2"/>
<circle cx="336.0" cy="52.3" r="1.2"/>
<circle cx="338.8" cy="51.1" r="1.2"/>
<circle cx="340.3" cy="50.3" r="1.2"/>
<circle cx="329.6" cy="54.3" r="1.2"/>
<circle cx="293.6" cy="82.2" r="1.2"/>
<circle cx="293.8" cy="82.4" r="1.2"/>
<circle cx="295.3" cy="82.8" r="1.2"/>
<circle cx="277.3" cy="102.7" r="1.2"/>
<circle cx="277.7" cy="102.6" r="1.2"/>
<circle cx="275.5" cy="105.7" r="1.2"/>
<circle cx="271.7" cy="110.4" r="1.2"/>
<circle cx="275.0" cy="107.7" r="1.2"/>
<circle cx="277.0" cy="104.7" r="1.2"/>
<circle cx="276.9" cy="104.7" r="1.2"/>
<circle cx="271.6" cy="110.5" r="1.2"/>
<circle cx="277.9" cy="104.8" r="1.2"/>
<circle cx="274.6" cy="107.3" r="1.2"/>
<circle cx="271.9" cy="110.2" r="1.2"/>
<circle cx="276.4" cy="106.4" r="1.2"/>
<circle cx="271.3" cy="110.7" r="1.2"/>
<circle cx="271.5" cy="108.5" r="1.2"/>
<circle cx="270.3" cy="111.8" r="1.2"/>
<circle cx="274.3" cy="106.9" r="1.2"/>
<circle cx="277.2" cy="103.6" r="1.2"/>
<circle cx="274.7" cy="106.1" r="1.2"/>
<circle cx="274.5" cy="106.7" r="1.2"/>
<circle cx="274.6" cy="105.9" r="1.2"/>
<circle cx="272.8" cy="108.2" r="1.2"/>
<circle cx="277.4" cy="105.4" r="1.2"/>
<circle cx="273.5" cy="106.9" r="1.2"/>
<circle cx="271.3" cy="109.8" r="1.2"/>
<circle cx="272.4" cy="108.2" r="1.2"/>
<circle cx="270.5" cy="110.8" r="1.2"/>
<circle cx="283.3" cy="98.2" r="1.2"/>
<circle cx="278.7" cy="102.9" r="1.2"/>
<circle cx="285.6" cy="97.4" r="1.2"/>
<circle cx="282.1" cy="100.3" r="1.2"/>
<circle cx="285.9" cy="98.0" r="1.2"/>
<circle cx="283.7" cy="99.3" r="1.2"/>
<circle cx="284.4" cy="99.6" r="1.2"/>
<circle cx="285.5" cy="95.5" r="1.2"/>
<circle cx="282.8" cy="98.8" r="1.2"/>
<circle cx="283.4" cy="98.8" r="1.2"/>
<circle cx="278.2" cy="104.6" r="1.2"/>
<circle cx="278.7" cy="101.8" r="1.2"/>
<circle cx="284.8" cy="96.6" r="1.2"/>
<circle cx="278.5" cy="102.8" r="1.2"/>
<circle cx="281.1" cy="102.0" r="1.2"/>
<circle cx="284.6" cy="96.3" r="1.2"/>
<circle cx="284.6" cy="96.2" r="1.2"/>
<circle cx="282.1" cy="99.9" r="1.2"/>
<circle cx="283.5" cy="98.7" r="1.2"/>
<circle cx="279.5" cy="101.2" r="1.2"/>
<circle cx="283.6" cy="97.9" r="1.2"/>
<circle cx="283.2" cy="97.7" r="1.2"/>
<circle cx="282.8" cy="97.9" r="1.2"/>
<circle cx="277.8" cy="104.1" r="1.2"/>
<circle cx="283.3" cy="101.2" r="1.2"/>
<circle cx="279.6" cy="102.1" r="1.2"/>
<circle cx="281.0" cy="102.5" r="1.2"/>
<circle cx="278.2" cy="103.1" r="1.2"/>
<circle cx="279.7" cy="103.3" r="1.2"/>
<circle cx="282.7" cy="99.4" r="1.2"/>
<circle cx="281.9" cy="99.1" r="1.2"/>
<circle cx="286.6" cy="97.9" r="1.2"/>
<circle cx="289.2" cy="96.2" r="1.2"/>
<circle cx="287.1" cy="96.0" r="1.2"/>
<circle cx="289.2" cy="94.2" r="1.2"/>
<circle cx="286.4" cy="95.0" r="1.2"/>
<circle cx="287.5" cy="94.8" r="1.2"/>
<circle cx="289.9" cy="92.6" r="1.2"/>
<circle cx="289.5" cy="94.8" r="1.2"/>
<circle cx="289.4" cy="92.7" r="1.2"/>
<circle cx="289.0" cy="96.2" r="1.2"/>
<circle cx="286.1" cy="95.0" r="1.2"/>
<circle cx="288.3" cy="97.3" r="1.2"/>
<circle cx="287.8" cy="96.3" r="1.2"/>
<circle cx="287.7" cy="97.9" r="1.2"/>
<circle cx="289.1" cy="96.5" r="1.2"/>
<circle cx="288.4" cy="94.3" r="1.2"/>
<circle cx="287.3" cy="94.5" r="1.2"/>
<circle cx="291.3" cy="90.2" r="1.2"/>
<circle cx="290.4" cy="93.2" r="1.2"/>
<circle cx="290.8" cy="92.8" r="1.2"/>
<circle cx="291.6" cy="93.2" r="1.2"/>
<circle cx="293.1" cy="92.3" r="1.2"/>
<circle cx="292.2" cy="89.8" r="1.2"/>
<circle cx="292.3" cy="89.7" r="1.2"/>
<circle cx="290.9" cy="91.8" r="1.2"/>
<circle cx="290.5" cy="95.8" r="1.2"/>
<circle cx="290.8" cy="93.2" r="1.2"/>
<circle cx="292.4" cy="89.2" r="1.2"/>
<circle cx="292.0" cy="93.5" r="1.2"/>
<circle cx="291.9" cy="91.8" r="1.2"/>
<circle cx="293.6" cy="91.2" r="1.2"/>
<circle cx="291.4" cy="90.9" r="1.2"/>
<circle cx="290.4" cy="92.1" r="1.2"/>
<circle cx="293.9" cy="88.1" r="1.2"/>
<circle cx="292.8" cy="90.7" r="1.2"/>
<circle cx="294.4" cy="88.8" r="1.2"/>
<circle cx="291.5" cy="93.4" r="1.2"/>
<circle cx="291.7" cy="91.5" r="1.2"/>
<circle cx="291.2" cy="92.6" r="1.2"/>
<circle cx="292.6" cy="92.0" r="1.2"/>
<circle cx="294.1" cy="90.0" r="1.2"/>
<circle cx="292.7" cy="91.6" r="1.2"/>
<circle cx="293.1" cy="89.3" r="1.2"/>
<circle cx="291.7" cy="93.1" r="1.2"/>
<circle cx="298.7" cy="83.8" r="1.2"/>
<circle cx="296.9" cy="84.5" r="1.2"/>
<circle cx="295.0" cy="88.2" r="1.2"/>
<circle cx="298.3" cy="82.9" r="1.2"/>
<circle cx="297.6" cy="83.6" r="1.2"/>
<circle cx="296.3" cy="86.9" r="1.2"/>
<circle cx="295.3" cy="87.7" r="1.2"/>
<circle cx="295.6" cy="89.1" r="1.2"/>
<circle cx="295.5" cy="85.6" r="1.2"/>
<circle cx="296.6" cy="84.4" r="1.2"/>
<circle cx="297.0" cy="84.7" r="1.2"/>
<circle cx="296.9" cy="86.8" r="1.2"/>
<circle cx="296.2" cy="85.6" r="1.2"/>
<circle cx="294.9" cy="86.2" r="1.2"/>
<circle cx="298.6" cy="84.4" r="1.2"/>
<circle cx="297.4" cy="84.4" r="1.2"/>
<circle cx="298.2" cy="83.5" r="1.2"/>
<circle cx="296.5" cy="84.2" r="1.2"/>
<circle cx="297.6" cy="83.9" r="1.2"/>
<circle cx="299.0" cy="83.8" r="1.2"/>
<circle cx="297.5" cy="85.0" r="1.2"/>
<circle cx="303.7" cy="80.6" r="1.2"/>
<circle cx="301.0" cy="79.8" r="1.2"/>
<circle cx="303.1" cy="78.8" r="1.2"/>
<circle cx="301.8" cy="81.7" r="1.2"/>
<circle cx="300.0" cy="82.6" r="1.2"/>
<circle cx="303.3" cy="78.7" r="1.2"/>
<circle cx="300.9" cy="79.8" r="1.2"/>
<circle cx="299.8" cy="81.8" r="1.2"/>
<circle cx="302.8" cy="80.1" r="1.2"/>
<circle cx="302.2" cy="81.2" r="1.2"/>
<circle cx="299.2" cy="82.9" r="1.2"/>
<circle cx="299.6" cy="82.0" r="1.2"/>
<circle cx="303.8" cy="78.2" r="1.2"/>
<circle cx="303.0" cy="77.8" r="1.2"/>
<circle cx="303.4" cy="79.6" r="1.2"/>
<circle cx="301.1" cy="79.1" r="1.2"/>
<circle cx="300.8" cy="83.4" r="1.2"/>
<circle cx="299.3" cy="82.2" r="1.2"/>
<circle cx="300.1" cy="81.7" r="1.2"/>
<circle cx="299.5" cy="83.3" r="1.2"/>
<circle cx="303.4" cy="79.0" r="1.2"/>
<circle cx="302.6" cy="79.1" r="1.2"/>
<circle cx="299.4" cy="81.9" r="1.2"/>
<circle cx="302.8" cy="79.3" r="1.2"/>
<circle cx="305.2" cy="75.5" r="1.2"/>
<circle cx="305.7" cy="78.5" r="1.2"/>
<circle cx="304.9" cy="76.2" r="1.2"/>
<circle cx="308.6" cy="75.9" r="1.2"/>
<circle cx="304.3" cy="78.3" r="1.2"/>
<circle cx="304.8" cy="77.7" r="1.2"/>
<circle cx="304.2" cy="79.5" r="1.2"/>
<circle cx="307.9" cy="74.9" r="1.2"/>
<circle cx="306.6" cy="74.7" r="1.2"/>
<circle cx="304.8" cy="76.8" r="1.2"/>
<circle cx="304.8" cy="76.0" r="1.2"/>
<circle cx="305.2" cy="77.7" r="1.2"/>
<circle cx="305.2" cy="76.0" r="1.2"/>
<circle cx="307.4" cy="76.3" r="1.2"/>
<circle cx="306.7" cy="74.0" r="1.2"/>
<circle cx="307.7" cy="74.4" r="1.2"/>
<circle cx="305.8" cy="78.0" r="1.2"/>
<circle cx="304.9" cy="78.1" r="1.2"/>
<circle cx="306.2" cy="75.8" r="1.2"/>
<circle cx="304.6" cy="77.3" r="1.2"/>
<circle cx="308.1" cy="76.1" r="1.2"/>
<circle cx="305.0" cy="76.8" r="1.2"/>
<circle cx="305.7" cy="78.5" r="1.2"/>
<circle cx="310.3" cy="71.6" r="1.2"/>
<circle cx="312.8" cy="72.7" r="1.2"/>
<circle cx="312.2" cy="73.1" r="1.2"/>
<circle cx="311.2" cy="74.7" r="1.2"/>
<circle cx="309.6" cy="73.1" r="1.2"/>
<circle cx="310.5" cy="74.3" r="1.2"/>
<circle cx="310.8" cy="73.8" r="1.2"/>
<circle cx="310.4" cy="73.1" r="1.2"/>
<circle cx="312.0" cy="74.0" r="1.2"/>
<circle cx="311.2" cy="73.4" r="1.2"/>
<circle cx="313.0" cy="71.9" r="1.2"/>
<circle cx="310.8" cy="72.7" r="1.2"/>
<circle cx="310.7" cy="74.7" r="1.2"/>
<circle cx="312.9" cy="72.4" r="1.2"/>
<circle cx="310.6" cy="71.2" r="1.2"/>
<circle cx="316.2" cy="68.8" r="1.2"/>
<circle cx="313.0" cy="72.0" r="1.2"/>
<circle cx="314.5" cy="71.0" r="1.2"/>
<circle cx="314.6" cy="67.6" r="1.2"/>
<circle cx="313.9" cy="69.4" r="1.2"/>
<circle cx="312.9" cy="69.7" r="1.2"/>
<circle cx="316.1" cy="69.8" r="1.2"/>
<circle cx="315.3" cy="67.7" r="1.2"/>
<circle cx="313.5" cy="69.3" r="1.2"/>
<circle cx="316.7" cy="66.8" r="1.2"/>
<circle cx="314.5" cy="71.7" r="1.2"/>
<circle cx="316.7" cy="69.2" r="1.2"/>
<circle cx="313.8" cy="70.6" r="1.2"/>
<circle cx="316.0" cy="67.1" r="1.2"/>
<circle cx="314.1" cy="69.0" r="1.2"/>
<circle cx="316.1" cy="67.9" r="1.2"/>
<circle cx="313.8" cy="69.9" r="1.2"/>
<circle cx="313.9" cy="69.5" r="1.2"/>
<circle cx="314.3" cy="70.8" r="1.2"/>
<circle cx="320.3" cy="66.2" r="1.2"/>
<circle cx="317.7" cy="66.0" r="1.2"/>
<circle cx="320.4" cy="64.4" r="1.2"/>
<circle cx="319.6" cy="65.8" r="1.2"/>
<circle cx="318.9" cy="64.3" r="1.2"/>
<circle cx="319.2" cy="66.0" r="1.2"/>
<circle cx="319.7" cy="65.4" r="1.2"/>
<circle cx="317.8" cy="64.6" r="1.2"/>
<circle cx="318.5" cy="67.2" r="1.2"/>
<circle cx="322.0" cy="64.6" r="1.2"/>
<circle cx="319.5" cy="65.6" r="1.2"/>
<circle cx="319.0" cy="64.5" r="1.2"/>
<circle cx="320.1" cy="64.3" r="1.2"/>
<circle cx="317.7" cy="66.7" r="1.2"/>
<circle cx="319.7" cy="65.8" r="1.2"/>
<circle cx="319.0" cy="66.2" r="1.2"/>
<circle cx="320.7" cy="63.3" r="1.2"/>
<circle cx="320.4" cy="65.6" r="1.2"/>
<circle cx="324.5" cy="61.6" r="1.2"/>
<circle cx="323.8" cy="60.3" r="1.2"/>
<circle cx="322.4" cy="62.9" r="1.2"/>
<circle cx="323.3" cy="60.9" r="1.2"/>
<circle cx="322.8" cy="62.6" r="1.2"/>
<circle cx="323.0" cy="62.2" r="1.2"/>
<circle cx="323.9" cy="62.5" r="1.2"/>
<circle cx="324.9" cy="58.9" r="1.2"/>
<circle cx="322.3" cy="63.7" r="1.2"/>
<circle cx="324.8" cy="60.3" r="1.2"/>
<circle cx="322.0" cy="63.8" r="1.2"/>
<circle cx="324.2" cy="59.2" r="1.2"/>
<circle cx="324.0" cy="60.4" r="1.2"/>
<circle cx="327.1" cy="59.4" r="1.2"/>
<circle cx="329.4" cy="57.0" r="1.2"/>
<circle cx="327.2" cy="57.3" r="1.2"/>
<circle cx="329.5" cy="56.8" r="1.2"/>
<circle cx="329.2" cy="56.5" r="1.2"/>
<circle cx="327.8" cy="57.8" r="1.2"/>
<circle cx="326.9" cy="58.6" r="1.2"/>
<circle cx="327.5" cy="56.5" r="1.2"/>
<circle cx="329.3" cy="55.7" r="1.2"/>
<circle cx="327.9" cy="56.7" r="1.2"/>
<circle cx="327.8" cy="58.6" r="1.2"/>
<circle cx="326.1" cy="59.0" r="1.2"/>
<circle cx="329.6" cy="56.0" r="1.2"/>
<circle cx="328.5" cy="57.4" r="1.2"/>
<circle cx="329.6" cy="56.6" r="1.2"/>
<circle cx="332.7" cy="53.3" r="1.2"/>
<circle cx="330.7" cy="56.1" r="1.2"/>
<circle cx="331.9" cy="54.0" r="1.2"/>
<circle cx="333.4" cy="53.3" r="1.2"/>
<circle cx="332.1" cy="54.8" r="1.2"/>
<circle cx="331.4" cy="54.2" r="1.2"/>
<circle cx="330.3" cy="55.4" r="1.2"/>
<circle cx="333.0" cy="53.5" r="1.2"/>
<circle cx="284.9" cy="99.1" r="1.2"/>
<circle cx="285.4" cy="97.6" r="1.2"/>
<circle cx="272.9" cy="113.1" r="1.2"/>
<circle cx="289.8" cy="96.5" r="1.2"/>
<circle cx="279.8" cy="106.8" r="1.2"/>
<circle cx="286.8" cy="97.3" r="1.2"/>
<circle cx="307.5" cy="75.3" r="1.2"/>
<circle cx="306.0" cy="81.7" r="1.2"/>
<circle cx="303.7" cy="79.7" r="1.2"/>
<circle cx="288.9" cy="92.3" r="1.2"/>
<circle cx="294.8" cy="95.1" r="1.2"/>
<circle cx="308.2" cy="75.6" r="1.2"/>
<circle cx="306.3" cy="77.8" r="1.2"/>
<circle cx="298.9" cy="84.1" r="1.2"/>
<circle cx="306.7" cy="78.7" r="1.2"/>
<circle cx="300.5" cy="82.8" r="1.2"/>
<circle cx="316.9" cy="68.7" r="1.2"/>
<circle cx="311.1" cy="72.8" r="1.2"/>
<circle cx="324.4" cy="61.4" r="1.2"/>
<circle cx="322.7" cy="64.6" r="1.2"/>
<circle cx="316.1" cy="65.3" r="1.2"/>
<circle cx="313.1" cy="69.4" r="1.2"/>
<circle cx="315.9" cy="70.5" r="1.2"/>
<circle cx="322.6" cy="63.6" r="1.2"/>
<circle cx="316.1" cy="67.8" r="1.2"/>
<circle cx="312.8" cy="73.9" r="1.2"/>
<circle cx="331.5" cy="54.9" r="1.2"/>
<circle cx="336.2" cy="51.9" r="1.2"/>
<circle cx="329.3" cy="58.8" r="1.2"/>
<circle cx="330.1" cy="55.1" r="1.2"/>
<circle cx="333.7" cy="52.4" r="1.2"/>
<circle cx="332.7" cy="55.1" r="1.2"/>
<circle cx="289.1" cy="99.6" r="1.2"/>
<circle cx="287.9" cy="99.0" r="1.2"/>
<circle cx="286.3" cy="99.1" r="1.2"/>
<circle cx="285.0" cy="98.9" r="1.2"/>
<circle cx="287.7" cy="100.2" r="1.2"/>
<circle cx="289.0" cy="96.4" r="1.2"/>
<circle cx="287.7" cy="99.4" r="1.2"/>
<circle cx="287.7" cy="96.9" r="1.2"/>
<circle cx="287.5" cy="98.5" r="1.2"/>
<circle cx="287.4" cy="99.8" r="1.2"/>
<rect x="329.60" y="126.60" width="2.90" height="0.50" fill="#cfcdec" stroke="#9c96d4" stroke-width="0.5"/>
<rect x="332.50" y="126.70" width="2.90" height="0.40" fill="#cfcdec" stroke="#9c96d4" stroke-width="0.5"/>
<rect x="335.40" y="126.40" width="2.90" height="0.70" fill="#cfcdec" stroke="#9c96d4" stroke-width="0.5"/>
<rect x="338.30" y="126.60" width="3.00" height="0.50" fill="#cfcdec" stroke="#9c96d4" stroke-width="0.5"/>
<rect x="341.30" y="126.60" width="3.00" height="0.50" fill="#cfcdec" stroke="#9c96d4" stroke-width="0.5"/>
<rect x="344.30" y="126.10" width="2.90" height="1.00" fill="#cfcdec" stroke="#9c96d4" stroke-width="0.5"/>
<rect x="347.20" y="96.50" width="3.00" height="30.60" fill="#cfcdec" stroke="#9c96d4" stroke-width="0.5"/>
<rect x="350.20" y="107.70" width="2.90" height="19.40" fill="#cfcdec" stroke="#9c96d4" stroke-width="0.5"/>
<rect x="353.10" y="125.40" width="2.90" height="1.70" fill="#cfcdec" stroke="#9c96d4" stroke-width="0.5"/>
<rect x="328.40" y="96.40" width="32.40" height="30.70" fill="none" stroke="#333" stroke-width="0.75"/>
<line x1="332.50" y1="127.10" x2="332.50" y2="129.90" stroke="#222" stroke-width="0.8"/>
<text x="332.50" y="137.50" font-size="3.7" text-anchor="middle" fill="#333" stroke="none">-0.06</text>
<line x1="338.30" y1="127.10" x2="338.30" y2="129.90" stroke="#222" stroke-width="0.8"/>
<line x1="344.30" y1="127.10" x2="344.30" y2="129.90" stroke="#222" stroke-width="0.8"/>
<text x="344.30" y="137.50" font-size="3.7" text-anchor="middle" fill="#333" stroke="none">-0.02</text>
<line x1="350.20" y1="127.10" x2="350.20" y2="129.90" stroke="#222" stroke-width="0.8"/>
<line x1="356.00" y1="127.10" x2="356.00" y2="129.90" stroke="#222" stroke-width="0.8"/>
<text x="356.00" y="137.50" font-size="3.7" text-anchor="middle" fill="#333" stroke="none">0.02</text>
<line x1="325.50" y1="127.10" x2="328.40" y2="127.10" stroke="#222" stroke-width="0.8"/>
<text transform="translate(322.50,127.10) rotate(-90)" font-size="3.7" text-anchor="middle" fill="#333" stroke="none">0</text>
<line x1="325.50" y1="121.40" x2="328.40" y2="121.40" stroke="#222" stroke-width="0.8"/>
<line x1="325.50" y1="115.60" x2="328.40" y2="115.60" stroke="#222" stroke-width="0.8"/>
<text transform="translate(322.50,115.60) rotate(-90)" font-size="3.7" text-anchor="middle" fill="#333" stroke="none">100</text>
<line x1="325.50" y1="109.90" x2="328.40" y2="109.90" stroke="#222" stroke-width="0.8"/>
<line x1="325.50" y1="104.10" x2="328.40" y2="104.10" stroke="#222" stroke-width="0.8"/>
<text transform="translate(322.50,104.10) rotate(-90)" font-size="3.7" text-anchor="middle" fill="#333" stroke="none">200</text>
<line x1="325.50" y1="98.40" x2="328.40" y2="98.40" stroke="#222" stroke-width="0.8"/>
<text x="344.60" y="143.50" font-size="3.8" text-anchor="middle" fill="#333" stroke="none">Residuals</text>
<text transform="translate(317.40,112.25) rotate(-90)" font-size="3.4" text-anchor="middle" fill="#666" stroke="none">%</text>
<text x="342.60" y="92.80" font-size="4.35" text-anchor="middle" fill="#5b52b8" stroke="none"><tspan font-weight="bold">R</tspan><tspan font-size="3.0" dy="-2">2</tspan><tspan dy="2"> = 0.9705</tspan></text>
<rect x="224.3" y="13.2" width="151.40" height="139.70" fill="none" stroke="#2a2a2a" stroke-width="1.2"/>
<text stroke="#6f6bb8" stroke-width="0.22" x="358.70" y="32.30" font-size="4.1" fill="#6f6bb8">1:1</text>
<text stroke="#4b41a9" stroke-width="0.22" transform="translate(234.85,32.20) scale(0.9,1.13)" font-size="8.6" font-weight="normal" text-anchor="middle" fill="#4b41a9">θ</text>
<text stroke="#4b41a9" stroke-width="0.22" transform="translate(239.60,34.30) scale(1.0,1.13)" font-size="6.2" font-weight="normal" text-anchor="middle" fill="#4b41a9">S</text>
<text stroke="#4b41a9" stroke-width="0.22" transform="translate(245.90,32.20) scale(1.0,1.13)" font-size="7.7" font-weight="normal" text-anchor="middle" fill="#4b41a9">=</text>
<text stroke="#4b41a9" stroke-width="0.22" transform="translate(253.25,32.20) scale(1.0,1.13)" font-size="7.7" font-weight="bold" text-anchor="middle" fill="#4b41a9">a</text>
<circle cx="260.40" cy="29.30" r="0.6" fill="#4b41a9" opacity="0.8"/>
<text stroke="#4b41a9" stroke-width="0.22" transform="translate(269.20,32.20) scale(1.0,1.13)" font-size="7.7" font-weight="bold" text-anchor="middle" fill="#4b41a9">Cl</text>
<text stroke="#4b41a9" stroke-width="0.22" transform="translate(275.40,27.90) scale(1.0,1.13)" font-size="5.6" font-weight="bold" text-anchor="middle" fill="#4b41a9">2</text>
<text stroke="#4b41a9" stroke-width="0.22" transform="translate(281.50,32.20) scale(1.0,1.13)" font-size="7.7" font-weight="normal" text-anchor="middle" fill="#4b41a9">+</text>
<text stroke="#4b41a9" stroke-width="0.22" transform="translate(287.90,32.20) scale(1.0,1.13)" font-size="7.7" font-weight="bold" text-anchor="middle" fill="#4b41a9">b</text>
<circle cx="295.40" cy="29.30" r="0.6" fill="#4b41a9" opacity="0.8"/>
<text stroke="#4b41a9" stroke-width="0.22" transform="translate(304.00,32.20) scale(1.0,1.13)" font-size="7.7" font-weight="bold" text-anchor="middle" fill="#4b41a9">Cl</text>
<text stroke="#4b41a9" stroke-width="0.22" transform="translate(313.40,32.20) scale(1.0,1.13)" font-size="7.7" font-weight="normal" text-anchor="middle" fill="#4b41a9">+</text>
<text stroke="#4b41a9" stroke-width="0.22" transform="translate(319.80,32.20) scale(1.0,1.13)" font-size="7.7" font-weight="bold" text-anchor="middle" fill="#4b41a9">c</text>
<text stroke="#4b41a9" stroke-width="0.22" transform="translate(326.30,32.20) scale(1.0,1.13)" font-size="7.7" font-weight="normal" text-anchor="middle" fill="#4b41a9">+</text>
<text stroke="#4b41a9" stroke-width="0.22" transform="translate(333.60,32.20) scale(1.0,1.13)" font-size="7.7" font-weight="bold" text-anchor="middle" fill="#4b41a9">d</text>
<circle cx="340.70" cy="29.30" r="0.6" fill="#4b41a9" opacity="0.8"/>
<text stroke="#4b41a9" stroke-width="0.22" transform="translate(350.05,32.20) scale(1.0,1.13)" font-size="7.7" font-weight="bold" text-anchor="middle" fill="#4b41a9">Sa</text>
<text stroke="#161616" stroke-width="0.22" x="232.60" y="41.00" font-size="4.5" fill="#161616"><tspan font-weight="bold">a</tspan> = −0.2582 ± 0.0076</text>
<text stroke="#161616" stroke-width="0.22" x="232.60" y="48.90" font-size="4.5" fill="#161616"><tspan font-weight="bold">b</tspan> = 0.7792 ± 0.0069</text>
<text stroke="#161616" stroke-width="0.22" x="232.60" y="56.80" font-size="4.5" fill="#161616"><tspan font-weight="bold">c</tspan> = 0.4881 ± 0.0006</text>
<text stroke="#161616" stroke-width="0.22" x="232.60" y="64.70" font-size="4.5" fill="#161616"><tspan font-weight="bold">d</tspan> = −0.0006 ± 0.00002</text>
<line x1="33.99" y1="199.9" x2="33.99" y2="340.0" stroke="#f6f6f6" stroke-width="1.0"/>
<line x1="28.4" y1="334.81" x2="179.2" y2="334.81" stroke="#f6f6f6" stroke-width="1.0"/>
<line x1="61.91" y1="199.9" x2="61.91" y2="340.0" stroke="#f6f6f6" stroke-width="1.0"/>
<line x1="28.4" y1="308.87" x2="179.2" y2="308.87" stroke="#f6f6f6" stroke-width="1.0"/>
<line x1="89.84" y1="199.9" x2="89.84" y2="340.0" stroke="#f6f6f6" stroke-width="1.0"/>
<line x1="28.4" y1="282.92" x2="179.2" y2="282.92" stroke="#f6f6f6" stroke-width="1.0"/>
<line x1="117.76" y1="199.9" x2="117.76" y2="340.0" stroke="#f6f6f6" stroke-width="1.0"/>
<line x1="28.4" y1="256.98" x2="179.2" y2="256.98" stroke="#f6f6f6" stroke-width="1.0"/>
<line x1="145.69" y1="199.9" x2="145.69" y2="340.0" stroke="#f6f6f6" stroke-width="1.0"/>
<line x1="28.4" y1="231.03" x2="179.2" y2="231.03" stroke="#f6f6f6" stroke-width="1.0"/>
<line x1="173.61" y1="199.9" x2="173.61" y2="340.0" stroke="#f6f6f6" stroke-width="1.0"/>
<line x1="28.4" y1="205.09" x2="179.2" y2="205.09" stroke="#f6f6f6" stroke-width="1.0"/>
<line x1="28.4" y1="340.0" x2="179.2" y2="199.9" stroke="#6f6bb8" stroke-width="1.15" stroke-dasharray="2.5,1.9"/>
<line x1="33.99" y1="340.0" x2="33.99" y2="342.8" stroke="#666" stroke-width="0.5"/>
<line x1="25.599999999999998" y1="334.81" x2="28.4" y2="334.81" stroke="#666" stroke-width="0.5"/>
<text stroke="#2a2a2a" stroke-width="0.22" x="33.99" y="350.20" font-size="6.6" text-anchor="middle" fill="#2a2a2a">0.35</text>
<text stroke="#2a2a2a" stroke-width="0.22" transform="translate(22.10,334.81) rotate(-90)" font-size="6.6" text-anchor="middle" fill="#2a2a2a">0.35</text>
<line x1="61.91" y1="340.0" x2="61.91" y2="342.8" stroke="#666" stroke-width="0.5"/>
<line x1="25.599999999999998" y1="308.87" x2="28.4" y2="308.87" stroke="#666" stroke-width="0.5"/>
<text stroke="#2a2a2a" stroke-width="0.22" x="61.91" y="350.20" font-size="6.6" text-anchor="middle" fill="#2a2a2a">0.40</text>
<text stroke="#2a2a2a" stroke-width="0.22" transform="translate(22.10,308.87) rotate(-90)" font-size="6.6" text-anchor="middle" fill="#2a2a2a">0.40</text>
<line x1="89.84" y1="340.0" x2="89.84" y2="342.8" stroke="#666" stroke-width="0.5"/>
<line x1="25.599999999999998" y1="282.92" x2="28.4" y2="282.92" stroke="#666" stroke-width="0.5"/>
<text stroke="#2a2a2a" stroke-width="0.22" x="89.84" y="350.20" font-size="6.6" text-anchor="middle" fill="#2a2a2a">0.45</text>
<text stroke="#2a2a2a" stroke-width="0.22" transform="translate(22.10,282.92) rotate(-90)" font-size="6.6" text-anchor="middle" fill="#2a2a2a">0.45</text>
<line x1="117.76" y1="340.0" x2="117.76" y2="342.8" stroke="#666" stroke-width="0.5"/>
<line x1="25.599999999999998" y1="256.98" x2="28.4" y2="256.98" stroke="#666" stroke-width="0.5"/>
<text stroke="#2a2a2a" stroke-width="0.22" x="117.76" y="350.20" font-size="6.6" text-anchor="middle" fill="#2a2a2a">0.50</text>
<text stroke="#2a2a2a" stroke-width="0.22" transform="translate(22.10,256.98) rotate(-90)" font-size="6.6" text-anchor="middle" fill="#2a2a2a">0.50</text>
<line x1="145.69" y1="340.0" x2="145.69" y2="342.8" stroke="#666" stroke-width="0.5"/>
<line x1="25.599999999999998" y1="231.03" x2="28.4" y2="231.03" stroke="#666" stroke-width="0.5"/>
<text stroke="#2a2a2a" stroke-width="0.22" x="145.69" y="350.20" font-size="6.6" text-anchor="middle" fill="#2a2a2a">0.55</text>
<text stroke="#2a2a2a" stroke-width="0.22" transform="translate(22.10,231.03) rotate(-90)" font-size="6.6" text-anchor="middle" fill="#2a2a2a">0.55</text>
<line x1="173.61" y1="340.0" x2="173.61" y2="342.8" stroke="#666" stroke-width="0.5"/>
<line x1="25.599999999999998" y1="205.09" x2="28.4" y2="205.09" stroke="#666" stroke-width="0.5"/>
<text stroke="#2a2a2a" stroke-width="0.22" x="173.61" y="350.20" font-size="6.6" text-anchor="middle" fill="#2a2a2a">0.60</text>
<text stroke="#2a2a2a" stroke-width="0.22" transform="translate(22.10,205.09) rotate(-90)" font-size="6.6" text-anchor="middle" fill="#2a2a2a">0.60</text>
<text stroke="#111" stroke-width="0.22" x="103.80" y="359.00" font-size="6.95" text-anchor="middle" fill="#111">Measured θ<tspan font-size="4.9" dy="1.6">S</tspan><tspan dy="-1.6"> [cm</tspan><tspan font-size="4.9" dy="-2.7">3</tspan><tspan dy="2.7">/cm</tspan><tspan font-size="4.9" dy="-2.7">3</tspan><tspan dy="2.7">]</tspan></text>
<text stroke="#1a1a1a" stroke-width="0.22" transform="translate(9.50,269.45) rotate(-90)" font-size="6.95" text-anchor="middle" fill="#1a1a1a">Estimated θ<tspan font-size="4.9" dy="1.6">S</tspan><tspan dy="-1.6"> [cm</tspan><tspan font-size="4.9" dy="-2.7">3</tspan><tspan dy="2.7">/cm</tspan><tspan font-size="4.9" dy="-2.7">3</tspan><tspan dy="2.7">]</tspan></text>
<text stroke="#111" stroke-width="0.22" x="103.80" y="193.60" font-size="5.3" font-weight="bold" text-anchor="middle" fill="#111">PTF-3</text>
<circle cx="112.5" cy="239.4" r="1.2"/>
<circle cx="91.0" cy="247.2" r="1.2"/>
<circle cx="101.1" cy="247.2" r="1.2"/>
<circle cx="97.9" cy="259.3" r="1.2"/>
<circle cx="88.9" cy="267.7" r="1.2"/>
<circle cx="130.6" cy="241.3" r="1.2"/>
<circle cx="141.2" cy="244.5" r="1.2"/>
<circle cx="144.3" cy="250.8" r="1.2"/>
<circle cx="112.7" cy="271.9" r="1.2"/>
<circle cx="107.4" cy="273.0" r="1.2"/>
<circle cx="117.6" cy="261.4" r="1.2"/>
<circle cx="92.7" cy="293.0" r="1.2"/>
<circle cx="88.4" cy="292.0" r="1.2"/>
<circle cx="83.2" cy="296.2" r="1.2"/>
<circle cx="89.1" cy="267.8" r="1.2"/>
<circle cx="66.0" cy="301.0" r="1.2"/>
<circle cx="68.8" cy="309.4" r="1.2"/>
<circle cx="67.9" cy="311.2" r="1.2"/>
<circle cx="65.1" cy="315.8" r="1.2"/>
<circle cx="72.5" cy="304.7" r="1.2"/>
<circle cx="75.3" cy="300.1" r="1.2"/>
<circle cx="77.1" cy="297.3" r="1.2"/>
<circle cx="78.1" cy="302.0" r="1.2"/>
<circle cx="79.0" cy="303.8" r="1.2"/>
<circle cx="80.8" cy="295.5" r="1.2"/>
<circle cx="82.7" cy="297.3" r="1.2"/>
<circle cx="85.5" cy="292.7" r="1.2"/>
<circle cx="89.1" cy="295.5" r="1.2"/>
<circle cx="91.0" cy="293.7" r="1.2"/>
<circle cx="92.8" cy="292.7" r="1.2"/>
<circle cx="55.0" cy="323.2" r="1.2"/>
<circle cx="57.7" cy="325.1" r="1.2"/>
<circle cx="52.2" cy="327.8" r="1.2"/>
<circle cx="55.0" cy="328.8" r="1.2"/>
<circle cx="58.7" cy="328.8" r="1.2"/>
<circle cx="55.9" cy="331.5" r="1.2"/>
<circle cx="52.2" cy="333.4" r="1.2"/>
<circle cx="38.8" cy="337.1" r="1.2"/>
<circle cx="91.5" cy="266.0" r="1.2"/>
<circle cx="89.1" cy="268.3" r="1.2"/>
<circle cx="89.1" cy="289.7" r="1.2"/>
<circle cx="104.1" cy="272.3" r="1.2"/>
<circle cx="106.1" cy="271.1" r="1.2"/>
<circle cx="107.3" cy="273.5" r="1.2"/>
<circle cx="99.4" cy="276.6" r="1.2"/>
<circle cx="123.2" cy="246.6" r="1.2"/>
<circle cx="118.9" cy="261.8" r="1.2"/>
<circle cx="129.5" cy="240.4" r="1.2"/>
<circle cx="128.8" cy="242.8" r="1.2"/>
<circle cx="120.8" cy="258.2" r="1.2"/>
<circle cx="112.9" cy="266.5" r="1.2"/>
<circle cx="129.4" cy="240.3" r="1.2"/>
<circle cx="129.8" cy="243.1" r="1.2"/>
<circle cx="140.0" cy="242.3" r="1.2"/>
<circle cx="142.0" cy="243.9" r="1.2"/>
<circle cx="144.4" cy="242.7" r="1.2"/>
<circle cx="137.7" cy="245.8" r="1.2"/>
<circle cx="135.7" cy="251.8" r="1.2"/>
<circle cx="144.0" cy="251.0" r="1.2"/>
<circle cx="132.1" cy="244.6" r="1.2"/>
<circle cx="132.9" cy="246.2" r="1.2"/>
<circle cx="133.7" cy="247.0" r="1.2"/>
<circle cx="82.7" cy="288.6" r="1.2"/>
<circle cx="81.8" cy="289.8" r="1.2"/>
<circle cx="83.8" cy="285.8" r="1.2"/>
<circle cx="83.0" cy="288.0" r="1.2"/>
<circle cx="82.7" cy="288.2" r="1.2"/>
<circle cx="82.6" cy="287.3" r="1.2"/>
<circle cx="82.3" cy="287.1" r="1.2"/>
<circle cx="83.4" cy="287.3" r="1.2"/>
<circle cx="83.9" cy="287.0" r="1.2"/>
<circle cx="81.3" cy="288.8" r="1.2"/>
<circle cx="81.8" cy="288.5" r="1.2"/>
<circle cx="83.0" cy="286.3" r="1.2"/>
<circle cx="81.0" cy="288.9" r="1.2"/>
<circle cx="82.3" cy="287.8" r="1.2"/>
<circle cx="84.4" cy="284.2" r="1.2"/>
<circle cx="87.5" cy="283.2" r="1.2"/>
<circle cx="84.2" cy="284.7" r="1.2"/>
<circle cx="85.1" cy="283.4" r="1.2"/>
<circle cx="84.9" cy="284.4" r="1.2"/>
<circle cx="85.7" cy="284.2" r="1.2"/>
<circle cx="86.0" cy="284.9" r="1.2"/>
<circle cx="84.2" cy="286.1" r="1.2"/>
<circle cx="87.4" cy="281.2" r="1.2"/>
<circle cx="84.0" cy="286.6" r="1.2"/>
<circle cx="85.4" cy="286.4" r="1.2"/>
<circle cx="84.7" cy="285.7" r="1.2"/>
<circle cx="84.2" cy="284.9" r="1.2"/>
<circle cx="86.9" cy="282.8" r="1.2"/>
<circle cx="86.3" cy="283.1" r="1.2"/>
<circle cx="87.5" cy="281.7" r="1.2"/>
<circle cx="85.4" cy="285.7" r="1.2"/>
<circle cx="84.6" cy="284.9" r="1.2"/>
<circle cx="86.6" cy="282.6" r="1.2"/>
<circle cx="93.1" cy="278.8" r="1.2"/>
<circle cx="91.1" cy="280.2" r="1.2"/>
<circle cx="93.5" cy="277.3" r="1.2"/>
<circle cx="91.3" cy="279.9" r="1.2"/>
<circle cx="92.2" cy="276.0" r="1.2"/>
<circle cx="89.8" cy="280.3" r="1.2"/>
<circle cx="89.6" cy="279.1" r="1.2"/>
<circle cx="88.7" cy="282.9" r="1.2"/>
<circle cx="91.8" cy="280.1" r="1.2"/>
<circle cx="88.0" cy="283.3" r="1.2"/>
<circle cx="93.5" cy="277.2" r="1.2"/>
<circle cx="88.5" cy="279.4" r="1.2"/>
<circle cx="92.7" cy="275.6" r="1.2"/>
<circle cx="90.5" cy="280.5" r="1.2"/>
<circle cx="93.7" cy="278.2" r="1.2"/>
<circle cx="92.9" cy="274.4" r="1.2"/>
<circle cx="93.3" cy="276.7" r="1.2"/>
<circle cx="88.7" cy="280.1" r="1.2"/>
<circle cx="90.9" cy="278.3" r="1.2"/>
<circle cx="88.2" cy="279.9" r="1.2"/>
<circle cx="88.3" cy="280.6" r="1.2"/>
<circle cx="93.0" cy="276.8" r="1.2"/>
<circle cx="91.6" cy="276.5" r="1.2"/>
<circle cx="88.4" cy="280.5" r="1.2"/>
<circle cx="89.9" cy="279.2" r="1.2"/>
<circle cx="88.0" cy="281.3" r="1.2"/>
<circle cx="89.6" cy="280.8" r="1.2"/>
<circle cx="88.6" cy="280.0" r="1.2"/>
<circle cx="90.6" cy="277.9" r="1.2"/>
<circle cx="91.9" cy="279.5" r="1.2"/>
<circle cx="99.3" cy="269.1" r="1.2"/>
<circle cx="99.6" cy="271.2" r="1.2"/>
<circle cx="96.4" cy="274.9" r="1.2"/>
<circle cx="98.0" cy="270.7" r="1.2"/>
<circle cx="100.2" cy="270.3" r="1.2"/>
<circle cx="96.4" cy="274.8" r="1.2"/>
<circle cx="98.4" cy="270.9" r="1.2"/>
<circle cx="100.3" cy="271.5" r="1.2"/>
<circle cx="97.1" cy="271.6" r="1.2"/>
<circle cx="94.9" cy="273.4" r="1.2"/>
<circle cx="95.3" cy="274.0" r="1.2"/>
<circle cx="95.6" cy="274.1" r="1.2"/>
<circle cx="94.9" cy="273.3" r="1.2"/>
<circle cx="100.1" cy="272.3" r="1.2"/>
<circle cx="95.3" cy="276.5" r="1.2"/>
<circle cx="100.0" cy="270.7" r="1.2"/>
<circle cx="98.5" cy="273.5" r="1.2"/>
<circle cx="97.3" cy="272.8" r="1.2"/>
<circle cx="97.6" cy="272.7" r="1.2"/>
<circle cx="97.0" cy="274.7" r="1.2"/>
<circle cx="96.2" cy="273.2" r="1.2"/>
<circle cx="96.6" cy="275.1" r="1.2"/>
<circle cx="99.7" cy="271.9" r="1.2"/>
<circle cx="97.0" cy="274.3" r="1.2"/>
<circle cx="98.5" cy="273.7" r="1.2"/>
<circle cx="96.2" cy="271.9" r="1.2"/>
<circle cx="96.2" cy="273.9" r="1.2"/>
<circle cx="99.7" cy="271.6" r="1.2"/>
<circle cx="99.7" cy="270.2" r="1.2"/>
<circle cx="102.6" cy="267.9" r="1.2"/>
<circle cx="105.3" cy="268.8" r="1.2"/>
<circle cx="105.1" cy="265.6" r="1.2"/>
<circle cx="102.6" cy="270.6" r="1.2"/>
<circle cx="103.7" cy="267.6" r="1.2"/>
<circle cx="101.8" cy="267.3" r="1.2"/>
<circle cx="104.3" cy="269.0" r="1.2"/>
<circle cx="102.0" cy="271.1" r="1.2"/>
<circle cx="103.2" cy="267.7" r="1.2"/>
<circle cx="106.5" cy="267.4" r="1.2"/>
<circle cx="101.7" cy="270.7" r="1.2"/>
<circle cx="102.5" cy="268.1" r="1.2"/>
<circle cx="104.5" cy="267.1" r="1.2"/>
<circle cx="101.2" cy="269.9" r="1.2"/>
<circle cx="103.1" cy="270.4" r="1.2"/>
<circle cx="104.6" cy="267.3" r="1.2"/>
<circle cx="104.4" cy="266.9" r="1.2"/>
<circle cx="104.2" cy="266.8" r="1.2"/>
<circle cx="105.6" cy="265.2" r="1.2"/>
<circle cx="102.1" cy="268.6" r="1.2"/>
<circle cx="107.0" cy="265.7" r="1.2"/>
<circle cx="102.6" cy="270.6" r="1.2"/>
<circle cx="104.9" cy="265.9" r="1.2"/>
<circle cx="105.6" cy="269.1" r="1.2"/>
<circle cx="104.3" cy="267.6" r="1.2"/>
<circle cx="111.3" cy="263.9" r="1.2"/>
<circle cx="111.8" cy="264.8" r="1.2"/>
<circle cx="112.4" cy="263.4" r="1.2"/>
<circle cx="112.3" cy="262.2" r="1.2"/>
<circle cx="112.9" cy="264.0" r="1.2"/>
<circle cx="111.2" cy="263.3" r="1.2"/>
<circle cx="110.9" cy="265.1" r="1.2"/>
<circle cx="108.7" cy="266.5" r="1.2"/>
<circle cx="108.0" cy="264.0" r="1.2"/>
<circle cx="110.3" cy="265.3" r="1.2"/>
<circle cx="111.8" cy="261.0" r="1.2"/>
<circle cx="110.4" cy="265.0" r="1.2"/>
<circle cx="111.2" cy="262.7" r="1.2"/>
<circle cx="110.0" cy="262.0" r="1.2"/>
<circle cx="109.0" cy="265.5" r="1.2"/>
<circle cx="108.7" cy="267.3" r="1.2"/>
<circle cx="109.8" cy="265.7" r="1.2"/>
<circle cx="112.2" cy="263.0" r="1.2"/>
<circle cx="107.5" cy="265.7" r="1.2"/>
<circle cx="108.9" cy="264.7" r="1.2"/>
<circle cx="108.3" cy="263.8" r="1.2"/>
<circle cx="108.4" cy="263.7" r="1.2"/>
<circle cx="110.5" cy="262.0" r="1.2"/>
<circle cx="108.5" cy="265.5" r="1.2"/>
<circle cx="113.4" cy="261.6" r="1.2"/>
<circle cx="110.0" cy="262.5" r="1.2"/>
<circle cx="118.7" cy="259.0" r="1.2"/>
<circle cx="119.8" cy="256.7" r="1.2"/>
<circle cx="118.8" cy="259.5" r="1.2"/>
<circle cx="118.8" cy="257.1" r="1.2"/>
<circle cx="117.1" cy="257.5" r="1.2"/>
<circle cx="115.4" cy="259.0" r="1.2"/>
<circle cx="117.1" cy="258.1" r="1.2"/>
<circle cx="118.2" cy="259.7" r="1.2"/>
<circle cx="117.5" cy="257.1" r="1.2"/>
<circle cx="114.4" cy="261.7" r="1.2"/>
<circle cx="118.8" cy="258.5" r="1.2"/>
<circle cx="118.7" cy="258.0" r="1.2"/>
<circle cx="114.6" cy="262.5" r="1.2"/>
<circle cx="117.7" cy="260.5" r="1.2"/>
<circle cx="115.8" cy="258.8" r="1.2"/>
<circle cx="118.8" cy="258.9" r="1.2"/>
<circle cx="113.7" cy="261.7" r="1.2"/>
<circle cx="118.6" cy="258.9" r="1.2"/>
<circle cx="114.6" cy="262.0" r="1.2"/>
<circle cx="115.0" cy="262.2" r="1.2"/>
<circle cx="116.6" cy="261.0" r="1.2"/>
<circle cx="119.0" cy="256.8" r="1.2"/>
<circle cx="119.5" cy="255.9" r="1.2"/>
<circle cx="119.9" cy="255.9" r="1.2"/>
<circle cx="118.5" cy="257.4" r="1.2"/>
<circle cx="125.0" cy="251.9" r="1.2"/>
<circle cx="124.9" cy="252.5" r="1.2"/>
<circle cx="124.8" cy="253.4" r="1.2"/>
<circle cx="120.4" cy="256.6" r="1.2"/>
<circle cx="124.2" cy="252.3" r="1.2"/>
<circle cx="123.0" cy="254.6" r="1.2"/>
<circle cx="125.7" cy="250.7" r="1.2"/>
<circle cx="120.6" cy="257.7" r="1.2"/>
<circle cx="125.7" cy="253.8" r="1.2"/>
<circle cx="121.0" cy="254.7" r="1.2"/>
<circle cx="122.6" cy="255.7" r="1.2"/>
<circle cx="122.2" cy="255.8" r="1.2"/>
<circle cx="123.0" cy="254.2" r="1.2"/>
<circle cx="120.2" cy="256.6" r="1.2"/>
<circle cx="123.9" cy="254.9" r="1.2"/>
<circle cx="125.7" cy="252.8" r="1.2"/>
<circle cx="123.4" cy="253.8" r="1.2"/>
<circle cx="119.7" cy="258.4" r="1.2"/>
<circle cx="119.6" cy="255.6" r="1.2"/>
<circle cx="121.3" cy="256.9" r="1.2"/>
<circle cx="125.3" cy="251.7" r="1.2"/>
<circle cx="126.0" cy="253.4" r="1.2"/>
<circle cx="120.6" cy="255.0" r="1.2"/>
<circle cx="127.0" cy="249.7" r="1.2"/>
<circle cx="127.4" cy="250.3" r="1.2"/>
<circle cx="130.2" cy="247.8" r="1.2"/>
<circle cx="128.8" cy="251.0" r="1.2"/>
<circle cx="129.9" cy="247.9" r="1.2"/>
<circle cx="128.7" cy="249.0" r="1.2"/>
<circle cx="129.2" cy="249.8" r="1.2"/>
<circle cx="128.7" cy="250.1" r="1.2"/>
<circle cx="129.6" cy="250.0" r="1.2"/>
<circle cx="129.1" cy="250.5" r="1.2"/>
<circle cx="127.6" cy="251.2" r="1.2"/>
<circle cx="128.0" cy="251.2" r="1.2"/>
<circle cx="127.2" cy="251.9" r="1.2"/>
<circle cx="132.3" cy="247.8" r="1.2"/>
<circle cx="131.0" cy="247.3" r="1.2"/>
<circle cx="131.4" cy="247.4" r="1.2"/>
<circle cx="132.2" cy="246.5" r="1.2"/>
<circle cx="131.7" cy="248.3" r="1.2"/>
<circle cx="130.8" cy="248.8" r="1.2"/>
<circle cx="130.2" cy="249.5" r="1.2"/>
<circle cx="132.8" cy="246.4" r="1.2"/>
<circle cx="131.7" cy="247.9" r="1.2"/>
<circle cx="132.7" cy="246.4" r="1.2"/>
<circle cx="89.3" cy="276.5" r="1.2"/>
<circle cx="82.9" cy="288.2" r="1.2"/>
<circle cx="94.2" cy="279.9" r="1.2"/>
<circle cx="87.5" cy="286.3" r="1.2"/>
<circle cx="94.5" cy="282.2" r="1.2"/>
<circle cx="101.3" cy="276.5" r="1.2"/>
<circle cx="98.3" cy="272.1" r="1.2"/>
<circle cx="101.9" cy="267.0" r="1.2"/>
<circle cx="110.0" cy="264.4" r="1.2"/>
<circle cx="97.2" cy="275.7" r="1.2"/>
<circle cx="104.4" cy="271.6" r="1.2"/>
<circle cx="109.4" cy="272.3" r="1.2"/>
<circle cx="93.6" cy="272.0" r="1.2"/>
<circle cx="120.1" cy="254.3" r="1.2"/>
<circle cx="127.0" cy="253.0" r="1.2"/>
<circle cx="123.2" cy="255.4" r="1.2"/>
<circle cx="118.3" cy="262.0" r="1.2"/>
<circle cx="122.6" cy="253.7" r="1.2"/>
<circle cx="120.2" cy="259.0" r="1.2"/>
<circle cx="123.6" cy="256.6" r="1.2"/>
<circle cx="122.8" cy="253.6" r="1.2"/>
<circle cx="128.3" cy="249.9" r="1.2"/>
<circle cx="127.6" cy="251.4" r="1.2"/>
<circle cx="127.4" cy="250.4" r="1.2"/>
<circle cx="130.2" cy="248.5" r="1.2"/>
<circle cx="130.6" cy="248.1" r="1.2"/>
<rect x="132.50" y="314.30" width="2.80" height="0.40" fill="#cfcdec" stroke="#9c96d4" stroke-width="0.5"/>
<rect x="135.30" y="314.10" width="2.80" height="0.60" fill="#cfcdec" stroke="#9c96d4" stroke-width="0.5"/>
<rect x="138.10" y="314.20" width="2.90" height="0.50" fill="#cfcdec" stroke="#9c96d4" stroke-width="0.5"/>
<rect x="141.00" y="314.10" width="2.70" height="0.60" fill="#cfcdec" stroke="#9c96d4" stroke-width="0.5"/>
<rect x="143.70" y="314.20" width="2.70" height="0.50" fill="#cfcdec" stroke="#9c96d4" stroke-width="0.5"/>
<rect x="146.40" y="313.90" width="2.60" height="0.80" fill="#cfcdec" stroke="#9c96d4" stroke-width="0.5"/>
<rect x="149.00" y="283.80" width="2.60" height="30.90" fill="#cfcdec" stroke="#9c96d4" stroke-width="0.5"/>
<rect x="151.60" y="304.10" width="2.90" height="10.60" fill="#cfcdec" stroke="#9c96d4" stroke-width="0.5"/>
<rect x="154.50" y="310.70" width="3.00" height="4.00" fill="#cfcdec" stroke="#9c96d4" stroke-width="0.5"/>
<rect x="157.50" y="312.00" width="2.80" height="2.70" fill="#cfcdec" stroke="#9c96d4" stroke-width="0.5"/>
<rect x="160.30" y="313.90" width="2.70" height="0.80" fill="#cfcdec" stroke="#9c96d4" stroke-width="0.5"/>
<rect x="131.40" y="283.80" width="32.30" height="30.90" fill="none" stroke="#333" stroke-width="0.75"/>
<line x1="135.30" y1="314.70" x2="135.30" y2="317.50" stroke="#222" stroke-width="0.8"/>
<text x="135.30" y="325.10" font-size="3.7" text-anchor="middle" fill="#333" stroke="none">-0.06</text>
<line x1="141.00" y1="314.70" x2="141.00" y2="317.50" stroke="#222" stroke-width="0.8"/>
<line x1="146.40" y1="314.70" x2="146.40" y2="317.50" stroke="#222" stroke-width="0.8"/>
<line x1="151.60" y1="314.70" x2="151.60" y2="317.50" stroke="#222" stroke-width="0.8"/>
<text x="151.60" y="325.10" font-size="3.7" text-anchor="middle" fill="#333" stroke="none">0.00</text>
<line x1="157.50" y1="314.70" x2="157.50" y2="317.50" stroke="#222" stroke-width="0.8"/>
<line x1="163.00" y1="314.70" x2="163.00" y2="317.50" stroke="#222" stroke-width="0.8"/>
<text x="163.00" y="325.10" font-size="3.7" text-anchor="middle" fill="#333" stroke="none">0.04</text>
<line x1="128.50" y1="314.70" x2="131.40" y2="314.70" stroke="#222" stroke-width="0.8"/>
<text transform="translate(125.50,314.70) rotate(-90)" font-size="3.7" text-anchor="middle" fill="#333" stroke="none">0</text>
<line x1="128.50" y1="309.55" x2="131.40" y2="309.55" stroke="#222" stroke-width="0.8"/>
<line x1="128.50" y1="304.40" x2="131.40" y2="304.40" stroke="#222" stroke-width="0.8"/>
<text transform="translate(125.50,304.40) rotate(-90)" font-size="3.7" text-anchor="middle" fill="#333" stroke="none">100</text>
<line x1="128.50" y1="299.25" x2="131.40" y2="299.25" stroke="#222" stroke-width="0.8"/>
<line x1="128.50" y1="294.10" x2="131.40" y2="294.10" stroke="#222" stroke-width="0.8"/>
<text transform="translate(125.50,294.10) rotate(-90)" font-size="3.7" text-anchor="middle" fill="#333" stroke="none">200</text>
<line x1="128.50" y1="288.95" x2="131.40" y2="288.95" stroke="#222" stroke-width="0.8"/>
<line x1="128.50" y1="283.80" x2="131.40" y2="283.80" stroke="#222" stroke-width="0.8"/>
<text transform="translate(125.50,283.80) rotate(-90)" font-size="3.7" text-anchor="middle" fill="#333" stroke="none">300</text>
<text x="147.55" y="331.10" font-size="3.8" text-anchor="middle" fill="#333" stroke="none">Residuals</text>
<text transform="translate(120.40,299.75) rotate(-90)" font-size="3.4" text-anchor="middle" fill="#666" stroke="none">%</text>
<text x="145.55" y="280.20" font-size="4.35" text-anchor="middle" fill="#5b52b8" stroke="none"><tspan font-weight="bold">R</tspan><tspan font-size="3.0" dy="-2">2</tspan><tspan dy="2"> = 0.9445</tspan></text>
<rect x="28.4" y="199.9" width="150.80" height="140.10" fill="none" stroke="#2a2a2a" stroke-width="1.2"/>
<text stroke="#6f6bb8" stroke-width="0.22" x="162.80" y="219.00" font-size="4.1" fill="#6f6bb8">1:1</text>
<text stroke="#4b41a9" stroke-width="0.22" transform="translate(38.95,218.70) scale(0.9,1.13)" font-size="8.6" font-weight="normal" text-anchor="middle" fill="#4b41a9">θ</text>
<text stroke="#4b41a9" stroke-width="0.22" transform="translate(43.70,220.80) scale(1.0,1.13)" font-size="6.2" font-weight="normal" text-anchor="middle" fill="#4b41a9">S</text>
<text stroke="#4b41a9" stroke-width="0.22" transform="translate(50.00,218.70) scale(1.0,1.13)" font-size="7.7" font-weight="normal" text-anchor="middle" fill="#4b41a9">=</text>
<text stroke="#4b41a9" stroke-width="0.22" transform="translate(57.35,218.70) scale(1.0,1.13)" font-size="7.7" font-weight="bold" text-anchor="middle" fill="#4b41a9">a</text>
<circle cx="64.50" cy="215.80" r="0.6" fill="#4b41a9" opacity="0.8"/>
<text stroke="#4b41a9" stroke-width="0.22" transform="translate(71.30,218.70) scale(1.0,1.13)" font-size="7.7" font-weight="bold" text-anchor="middle" fill="#4b41a9">K</text>
<text stroke="#4b41a9" stroke-width="0.22" transform="translate(75.55,220.80) scale(1.0,1.13)" font-size="6.2" font-weight="normal" text-anchor="middle" fill="#4b41a9">S</text>
<text stroke="#4b41a9" stroke-width="0.22" transform="translate(76.20,214.40) scale(1.0,1.13)" font-size="5.6" font-weight="bold" text-anchor="middle" fill="#4b41a9">2</text>
<text stroke="#4b41a9" stroke-width="0.22" transform="translate(84.20,218.70) scale(1.0,1.13)" font-size="7.7" font-weight="normal" text-anchor="middle" fill="#4b41a9">+</text>
<text stroke="#4b41a9" stroke-width="0.22" transform="translate(90.85,218.70) scale(1.0,1.13)" font-size="7.7" font-weight="bold" text-anchor="middle" fill="#4b41a9">b</text>
<circle cx="98.40" cy="215.80" r="0.6" fill="#4b41a9" opacity="0.8"/>
<text stroke="#4b41a9" stroke-width="0.22" transform="translate(105.45,218.70) scale(1.0,1.13)" font-size="7.7" font-weight="bold" text-anchor="middle" fill="#4b41a9">K</text>
<text stroke="#4b41a9" stroke-width="0.22" transform="translate(110.30,220.80) scale(1.0,1.13)" font-size="6.2" font-weight="normal" text-anchor="middle" fill="#4b41a9">S</text>
<text stroke="#4b41a9" stroke-width="0.22" transform="translate(116.85,218.70) scale(1.0,1.13)" font-size="7.7" font-weight="normal" text-anchor="middle" fill="#4b41a9">+</text>
<text stroke="#4b41a9" stroke-width="0.22" transform="translate(123.85,218.70) scale(1.0,1.13)" font-size="7.7" font-weight="bold" text-anchor="middle" fill="#4b41a9">c</text>
<text stroke="#4b41a9" stroke-width="0.22" transform="translate(130.40,218.70) scale(1.0,1.13)" font-size="7.7" font-weight="normal" text-anchor="middle" fill="#4b41a9">+</text>
<text stroke="#4b41a9" stroke-width="0.22" transform="translate(137.10,218.70) scale(1.0,1.13)" font-size="7.7" font-weight="bold" text-anchor="middle" fill="#4b41a9">d</text>
<circle cx="144.40" cy="215.80" r="0.6" fill="#4b41a9" opacity="0.8"/>
<text stroke="#4b41a9" stroke-width="0.22" transform="translate(153.55,218.70) scale(1.0,1.13)" font-size="7.7" font-weight="bold" text-anchor="middle" fill="#4b41a9">Sa</text>
<text stroke="#161616" stroke-width="0.22" x="36.70" y="228.00" font-size="4.5" fill="#161616"><tspan font-weight="bold">a</tspan> = 0.0375 ± 0.0098</text>
<text stroke="#161616" stroke-width="0.22" x="36.70" y="235.75" font-size="4.5" fill="#161616"><tspan font-weight="bold">b</tspan> = −0.8346 ± 0.0099</text>
<text stroke="#161616" stroke-width="0.22" x="36.70" y="243.50" font-size="4.5" fill="#161616"><tspan font-weight="bold">c</tspan> = 0.4998 ± 0.0009</text>
<text stroke="#161616" stroke-width="0.22" x="36.70" y="251.25" font-size="4.5" fill="#161616"><tspan font-weight="bold">d</tspan> = −0.0009 ± 0.00002</text>
<line x1="229.91" y1="199.9" x2="229.91" y2="340.0" stroke="#f6f6f6" stroke-width="1.0"/>
<line x1="224.3" y1="334.81" x2="375.7" y2="334.81" stroke="#f6f6f6" stroke-width="1.0"/>
<line x1="257.94" y1="199.9" x2="257.94" y2="340.0" stroke="#f6f6f6" stroke-width="1.0"/>
<line x1="224.3" y1="308.87" x2="375.7" y2="308.87" stroke="#f6f6f6" stroke-width="1.0"/>
<line x1="285.98" y1="199.9" x2="285.98" y2="340.0" stroke="#f6f6f6" stroke-width="1.0"/>
<line x1="224.3" y1="282.92" x2="375.7" y2="282.92" stroke="#f6f6f6" stroke-width="1.0"/>
<line x1="314.02" y1="199.9" x2="314.02" y2="340.0" stroke="#f6f6f6" stroke-width="1.0"/>
<line x1="224.3" y1="256.98" x2="375.7" y2="256.98" stroke="#f6f6f6" stroke-width="1.0"/>
<line x1="342.06" y1="199.9" x2="342.06" y2="340.0" stroke="#f6f6f6" stroke-width="1.0"/>
<line x1="224.3" y1="231.03" x2="375.7" y2="231.03" stroke="#f6f6f6" stroke-width="1.0"/>
<line x1="370.09" y1="199.9" x2="370.09" y2="340.0" stroke="#f6f6f6" stroke-width="1.0"/>
<line x1="224.3" y1="205.09" x2="375.7" y2="205.09" stroke="#f6f6f6" stroke-width="1.0"/>
<line x1="224.3" y1="340.0" x2="375.7" y2="199.9" stroke="#6f6bb8" stroke-width="1.15" stroke-dasharray="2.5,1.9"/>
<line x1="229.91" y1="340.0" x2="229.91" y2="342.8" stroke="#666" stroke-width="0.5"/>
<line x1="221.5" y1="334.81" x2="224.3" y2="334.81" stroke="#666" stroke-width="0.5"/>
<text stroke="#2a2a2a" stroke-width="0.22" x="229.91" y="350.20" font-size="6.6" text-anchor="middle" fill="#2a2a2a">0.35</text>
<text stroke="#2a2a2a" stroke-width="0.22" transform="translate(218.00,334.81) rotate(-90)" font-size="6.6" text-anchor="middle" fill="#2a2a2a">0.35</text>
<line x1="257.94" y1="340.0" x2="257.94" y2="342.8" stroke="#666" stroke-width="0.5"/>
<line x1="221.5" y1="308.87" x2="224.3" y2="308.87" stroke="#666" stroke-width="0.5"/>
<text stroke="#2a2a2a" stroke-width="0.22" x="257.94" y="350.20" font-size="6.6" text-anchor="middle" fill="#2a2a2a">0.40</text>
<text stroke="#2a2a2a" stroke-width="0.22" transform="translate(218.00,308.87) rotate(-90)" font-size="6.6" text-anchor="middle" fill="#2a2a2a">0.40</text>
<line x1="285.98" y1="340.0" x2="285.98" y2="342.8" stroke="#666" stroke-width="0.5"/>
<line x1="221.5" y1="282.92" x2="224.3" y2="282.92" stroke="#666" stroke-width="0.5"/>
<text stroke="#2a2a2a" stroke-width="0.22" x="285.98" y="350.20" font-size="6.6" text-anchor="middle" fill="#2a2a2a">0.45</text>
<text stroke="#2a2a2a" stroke-width="0.22" transform="translate(218.00,282.92) rotate(-90)" font-size="6.6" text-anchor="middle" fill="#2a2a2a">0.45</text>
<line x1="314.02" y1="340.0" x2="314.02" y2="342.8" stroke="#666" stroke-width="0.5"/>
<line x1="221.5" y1="256.98" x2="224.3" y2="256.98" stroke="#666" stroke-width="0.5"/>
<text stroke="#2a2a2a" stroke-width="0.22" x="314.02" y="350.20" font-size="6.6" text-anchor="middle" fill="#2a2a2a">0.50</text>
<text stroke="#2a2a2a" stroke-width="0.22" transform="translate(218.00,256.98) rotate(-90)" font-size="6.6" text-anchor="middle" fill="#2a2a2a">0.50</text>
<line x1="342.06" y1="340.0" x2="342.06" y2="342.8" stroke="#666" stroke-width="0.5"/>
<line x1="221.5" y1="231.03" x2="224.3" y2="231.03" stroke="#666" stroke-width="0.5"/>
<text stroke="#2a2a2a" stroke-width="0.22" x="342.06" y="350.20" font-size="6.6" text-anchor="middle" fill="#2a2a2a">0.55</text>
<text stroke="#2a2a2a" stroke-width="0.22" transform="translate(218.00,231.03) rotate(-90)" font-size="6.6" text-anchor="middle" fill="#2a2a2a">0.55</text>
<line x1="370.09" y1="340.0" x2="370.09" y2="342.8" stroke="#666" stroke-width="0.5"/>
<line x1="221.5" y1="205.09" x2="224.3" y2="205.09" stroke="#666" stroke-width="0.5"/>
<text stroke="#2a2a2a" stroke-width="0.22" x="370.09" y="350.20" font-size="6.6" text-anchor="middle" fill="#2a2a2a">0.60</text>
<text stroke="#2a2a2a" stroke-width="0.22" transform="translate(218.00,205.09) rotate(-90)" font-size="6.6" text-anchor="middle" fill="#2a2a2a">0.60</text>
<text stroke="#111" stroke-width="0.22" x="300.00" y="359.00" font-size="6.95" text-anchor="middle" fill="#111">Measured θ<tspan font-size="4.9" dy="1.6">S</tspan><tspan dy="-1.6"> [cm</tspan><tspan font-size="4.9" dy="-2.7">3</tspan><tspan dy="2.7">/cm</tspan><tspan font-size="4.9" dy="-2.7">3</tspan><tspan dy="2.7">]</tspan></text>
<text stroke="#1a1a1a" stroke-width="0.22" transform="translate(205.40,269.45) rotate(-90)" font-size="6.95" text-anchor="middle" fill="#1a1a1a">Estimated θ<tspan font-size="4.9" dy="1.6">S</tspan><tspan dy="-1.6"> [cm</tspan><tspan font-size="4.9" dy="-2.7">3</tspan><tspan dy="2.7">/cm</tspan><tspan font-size="4.9" dy="-2.7">3</tspan><tspan dy="2.7">]</tspan></text>
<text stroke="#111" stroke-width="0.22" x="300.00" y="193.60" font-size="5.3" font-weight="bold" text-anchor="middle" fill="#111">PTF-4</text>
<circle cx="308.6" cy="235.1" r="1.2"/>
<circle cx="287.9" cy="252.0" r="1.2"/>
<circle cx="298.1" cy="252.4" r="1.2"/>
<circle cx="287.9" cy="264.0" r="1.2"/>
<circle cx="340.6" cy="247.0" r="1.2"/>
<circle cx="319.1" cy="247.1" r="1.2"/>
<circle cx="294.3" cy="270.4" r="1.2"/>
<circle cx="274.6" cy="299.3" r="1.2"/>
<circle cx="285.0" cy="288.9" r="1.2"/>
<circle cx="287.4" cy="285.8" r="1.2"/>
<circle cx="289.4" cy="285.0" r="1.2"/>
<circle cx="275.5" cy="290.1" r="1.2"/>
<circle cx="287.4" cy="264.2" r="1.2"/>
<circle cx="293.7" cy="271.3" r="1.2"/>
<circle cx="298.0" cy="252.7" r="1.2"/>
<circle cx="319.2" cy="247.0" r="1.2"/>
<circle cx="333.3" cy="240.8" r="1.2"/>
<circle cx="335.4" cy="239.3" r="1.2"/>
<circle cx="339.6" cy="234.5" r="1.2"/>
<circle cx="322.7" cy="248.2" r="1.2"/>
<circle cx="325.9" cy="249.3" r="1.2"/>
<circle cx="234.7" cy="333.9" r="1.2"/>
<circle cx="247.4" cy="325.3" r="1.2"/>
<circle cx="248.2" cy="321.7" r="1.2"/>
<circle cx="249.7" cy="319.3" r="1.2"/>
<circle cx="251.3" cy="317.7" r="1.2"/>
<circle cx="252.1" cy="320.9" r="1.2"/>
<circle cx="253.7" cy="315.3" r="1.2"/>
<circle cx="255.3" cy="313.0" r="1.2"/>
<circle cx="260.0" cy="309.8" r="1.2"/>
<circle cx="263.2" cy="305.9" r="1.2"/>
<circle cx="264.0" cy="304.3" r="1.2"/>
<circle cx="266.3" cy="300.3" r="1.2"/>
<circle cx="267.9" cy="298.0" r="1.2"/>
<circle cx="269.5" cy="296.4" r="1.2"/>
<circle cx="271.9" cy="294.8" r="1.2"/>
<circle cx="275.0" cy="299.5" r="1.2"/>
<circle cx="273.5" cy="293.2" r="1.2"/>
<circle cx="275.0" cy="290.8" r="1.2"/>
<circle cx="278.2" cy="290.0" r="1.2"/>
<circle cx="280.6" cy="287.7" r="1.2"/>
<circle cx="283.0" cy="286.1" r="1.2"/>
<circle cx="284.5" cy="284.5" r="1.2"/>
<circle cx="285.3" cy="289.2" r="1.2"/>
<circle cx="277.3" cy="289.4" r="1.2"/>
<circle cx="275.2" cy="289.8" r="1.2"/>
<circle cx="274.9" cy="289.6" r="1.2"/>
<circle cx="277.8" cy="289.9" r="1.2"/>
<circle cx="277.0" cy="289.3" r="1.2"/>
<circle cx="276.8" cy="288.9" r="1.2"/>
<circle cx="278.0" cy="287.8" r="1.2"/>
<circle cx="274.8" cy="291.5" r="1.2"/>
<circle cx="278.0" cy="289.4" r="1.2"/>
<circle cx="277.2" cy="289.4" r="1.2"/>
<circle cx="275.5" cy="289.8" r="1.2"/>
<circle cx="275.1" cy="291.1" r="1.2"/>
<circle cx="277.4" cy="288.4" r="1.2"/>
<circle cx="284.6" cy="284.1" r="1.2"/>
<circle cx="285.3" cy="283.6" r="1.2"/>
<circle cx="283.6" cy="284.1" r="1.2"/>
<circle cx="284.9" cy="283.9" r="1.2"/>
<circle cx="284.8" cy="284.1" r="1.2"/>
<circle cx="281.2" cy="285.7" r="1.2"/>
<circle cx="284.9" cy="284.0" r="1.2"/>
<circle cx="285.9" cy="282.3" r="1.2"/>
<circle cx="281.6" cy="286.2" r="1.2"/>
<circle cx="284.0" cy="283.4" r="1.2"/>
<circle cx="280.7" cy="287.0" r="1.2"/>
<circle cx="282.0" cy="286.5" r="1.2"/>
<circle cx="284.2" cy="283.8" r="1.2"/>
<circle cx="282.0" cy="284.8" r="1.2"/>
<circle cx="289.8" cy="279.9" r="1.2"/>
<circle cx="290.7" cy="279.7" r="1.2"/>
<circle cx="291.2" cy="277.8" r="1.2"/>
<circle cx="289.1" cy="281.2" r="1.2"/>
<circle cx="289.1" cy="280.2" r="1.2"/>
<circle cx="287.9" cy="281.1" r="1.2"/>
<circle cx="291.3" cy="277.4" r="1.2"/>
<circle cx="291.1" cy="278.8" r="1.2"/>
<circle cx="289.0" cy="281.0" r="1.2"/>
<circle cx="286.9" cy="283.1" r="1.2"/>
<circle cx="288.0" cy="281.4" r="1.2"/>
<circle cx="287.6" cy="282.0" r="1.2"/>
<circle cx="286.5" cy="281.8" r="1.2"/>
<circle cx="286.8" cy="283.0" r="1.2"/>
<circle cx="287.5" cy="281.8" r="1.2"/>
<circle cx="294.4" cy="275.2" r="1.2"/>
<circle cx="299.4" cy="269.7" r="1.2"/>
<circle cx="299.5" cy="271.0" r="1.2"/>
<circle cx="295.1" cy="276.2" r="1.2"/>
<circle cx="297.1" cy="272.4" r="1.2"/>
<circle cx="296.9" cy="273.1" r="1.2"/>
<circle cx="294.1" cy="275.7" r="1.2"/>
<circle cx="292.4" cy="276.4" r="1.2"/>
<circle cx="292.8" cy="276.9" r="1.2"/>
<circle cx="296.6" cy="272.5" r="1.2"/>
<circle cx="299.3" cy="271.0" r="1.2"/>
<circle cx="297.4" cy="272.1" r="1.2"/>
<circle cx="294.6" cy="276.0" r="1.2"/>
<circle cx="291.6" cy="278.8" r="1.2"/>
<circle cx="292.0" cy="277.0" r="1.2"/>
<circle cx="298.4" cy="272.3" r="1.2"/>
<circle cx="295.5" cy="275.8" r="1.2"/>
<circle cx="298.2" cy="270.8" r="1.2"/>
<circle cx="292.9" cy="276.4" r="1.2"/>
<circle cx="297.9" cy="272.1" r="1.2"/>
<circle cx="293.5" cy="276.6" r="1.2"/>
<circle cx="295.7" cy="275.0" r="1.2"/>
<circle cx="298.7" cy="271.0" r="1.2"/>
<circle cx="295.3" cy="275.2" r="1.2"/>
<circle cx="293.3" cy="277.4" r="1.2"/>
<circle cx="296.6" cy="272.1" r="1.2"/>
<circle cx="300.5" cy="268.8" r="1.2"/>
<circle cx="301.0" cy="269.9" r="1.2"/>
<circle cx="299.7" cy="270.8" r="1.2"/>
<circle cx="300.7" cy="269.6" r="1.2"/>
<circle cx="301.6" cy="269.0" r="1.2"/>
<circle cx="301.0" cy="268.4" r="1.2"/>
<circle cx="302.7" cy="266.7" r="1.2"/>
<circle cx="303.5" cy="266.0" r="1.2"/>
<circle cx="304.5" cy="264.6" r="1.2"/>
<circle cx="301.7" cy="269.0" r="1.2"/>
<circle cx="301.4" cy="267.3" r="1.2"/>
<circle cx="303.9" cy="265.9" r="1.2"/>
<circle cx="303.9" cy="264.2" r="1.2"/>
<circle cx="303.7" cy="266.6" r="1.2"/>
<circle cx="302.0" cy="268.9" r="1.2"/>
<circle cx="300.9" cy="269.9" r="1.2"/>
<circle cx="304.3" cy="263.8" r="1.2"/>
<circle cx="307.7" cy="262.8" r="1.2"/>
<circle cx="308.4" cy="263.0" r="1.2"/>
<circle cx="307.4" cy="262.9" r="1.2"/>
<circle cx="306.4" cy="265.0" r="1.2"/>
<circle cx="308.1" cy="263.9" r="1.2"/>
<circle cx="307.1" cy="262.1" r="1.2"/>
<circle cx="308.7" cy="260.9" r="1.2"/>
<circle cx="306.1" cy="263.5" r="1.2"/>
<circle cx="307.1" cy="262.1" r="1.2"/>
<circle cx="307.6" cy="261.3" r="1.2"/>
<circle cx="304.5" cy="265.8" r="1.2"/>
<circle cx="304.3" cy="264.5" r="1.2"/>
<circle cx="307.2" cy="262.9" r="1.2"/>
<circle cx="305.9" cy="262.7" r="1.2"/>
<circle cx="312.3" cy="258.5" r="1.2"/>
<circle cx="310.3" cy="259.4" r="1.2"/>
<circle cx="313.0" cy="258.4" r="1.2"/>
<circle cx="310.6" cy="260.6" r="1.2"/>
<circle cx="312.1" cy="259.6" r="1.2"/>
<circle cx="312.2" cy="259.8" r="1.2"/>
<circle cx="310.6" cy="261.5" r="1.2"/>
<circle cx="310.4" cy="259.2" r="1.2"/>
<circle cx="309.8" cy="262.3" r="1.2"/>
<circle cx="313.2" cy="257.0" r="1.2"/>
<circle cx="312.6" cy="259.0" r="1.2"/>
<circle cx="313.3" cy="257.2" r="1.2"/>
<circle cx="313.9" cy="256.5" r="1.2"/>
<circle cx="311.9" cy="258.5" r="1.2"/>
<circle cx="310.7" cy="258.5" r="1.2"/>
<circle cx="309.6" cy="262.1" r="1.2"/>
<circle cx="314.2" cy="256.3" r="1.2"/>
<circle cx="316.4" cy="255.2" r="1.2"/>
<circle cx="317.5" cy="251.6" r="1.2"/>
<circle cx="315.9" cy="255.1" r="1.2"/>
<circle cx="316.7" cy="253.7" r="1.2"/>
<circle cx="315.4" cy="255.4" r="1.2"/>
<circle cx="314.7" cy="256.2" r="1.2"/>
<circle cx="317.8" cy="253.9" r="1.2"/>
<circle cx="314.1" cy="255.6" r="1.2"/>
<circle cx="315.4" cy="254.8" r="1.2"/>
<circle cx="315.4" cy="255.2" r="1.2"/>
<circle cx="314.4" cy="256.5" r="1.2"/>
<circle cx="316.9" cy="254.0" r="1.2"/>
<circle cx="321.7" cy="249.8" r="1.2"/>
<circle cx="318.1" cy="252.1" r="1.2"/>
<circle cx="319.5" cy="251.3" r="1.2"/>
<circle cx="319.0" cy="252.7" r="1.2"/>
<circle cx="321.0" cy="251.3" r="1.2"/>
<circle cx="322.2" cy="248.7" r="1.2"/>
<circle cx="318.4" cy="253.4" r="1.2"/>
<circle cx="320.2" cy="252.0" r="1.2"/>
<circle cx="318.0" cy="252.9" r="1.2"/>
<circle cx="318.2" cy="251.6" r="1.2"/>
<circle cx="320.0" cy="250.3" r="1.2"/>
<circle cx="320.6" cy="249.6" r="1.2"/>
<circle cx="318.8" cy="252.8" r="1.2"/>
<circle cx="323.4" cy="248.3" r="1.2"/>
<circle cx="325.5" cy="247.0" r="1.2"/>
<circle cx="324.2" cy="248.6" r="1.2"/>
<circle cx="325.3" cy="245.1" r="1.2"/>
<circle cx="324.2" cy="248.5" r="1.2"/>
<circle cx="324.0" cy="248.1" r="1.2"/>
<circle cx="325.6" cy="245.9" r="1.2"/>
<circle cx="323.1" cy="248.7" r="1.2"/>
<circle cx="323.5" cy="247.4" r="1.2"/>
<circle cx="326.4" cy="245.8" r="1.2"/>
<circle cx="328.6" cy="243.0" r="1.2"/>
<circle cx="329.0" cy="243.6" r="1.2"/>
<circle cx="329.2" cy="243.4" r="1.2"/>
<circle cx="328.8" cy="242.6" r="1.2"/>
<circle cx="328.3" cy="244.1" r="1.2"/>
<circle cx="327.0" cy="244.0" r="1.2"/>
<circle cx="328.2" cy="242.1" r="1.2"/>
<circle cx="327.3" cy="244.4" r="1.2"/>
<circle cx="328.8" cy="242.7" r="1.2"/>
<circle cx="326.7" cy="244.1" r="1.2"/>
<circle cx="332.8" cy="239.6" r="1.2"/>
<circle cx="330.2" cy="242.1" r="1.2"/>
<circle cx="334.5" cy="239.3" r="1.2"/>
<circle cx="330.8" cy="240.5" r="1.2"/>
<circle cx="331.5" cy="239.5" r="1.2"/>
<circle cx="330.9" cy="240.3" r="1.2"/>
<circle cx="333.1" cy="238.5" r="1.2"/>
<circle cx="333.4" cy="239.8" r="1.2"/>
<circle cx="331.1" cy="240.3" r="1.2"/>
<circle cx="333.9" cy="239.4" r="1.2"/>
<circle cx="336.4" cy="237.5" r="1.2"/>
<circle cx="337.1" cy="236.1" r="1.2"/>
<circle cx="334.6" cy="237.4" r="1.2"/>
<circle cx="336.1" cy="237.9" r="1.2"/>
<circle cx="336.1" cy="237.2" r="1.2"/>
<circle cx="337.7" cy="235.9" r="1.2"/>
<circle cx="337.9" cy="236.1" r="1.2"/>
<circle cx="341.2" cy="233.0" r="1.2"/>
<circle cx="339.8" cy="234.5" r="1.2"/>
<circle cx="339.2" cy="234.5" r="1.2"/>
<circle cx="340.3" cy="234.2" r="1.2"/>
<circle cx="277.9" cy="289.8" r="1.2"/>
<circle cx="278.2" cy="288.9" r="1.2"/>
<circle cx="278.2" cy="284.8" r="1.2"/>
<circle cx="286.7" cy="288.5" r="1.2"/>
<circle cx="284.4" cy="285.7" r="1.2"/>
<circle cx="300.1" cy="271.1" r="1.2"/>
<circle cx="303.6" cy="267.1" r="1.2"/>
<circle cx="301.3" cy="270.1" r="1.2"/>
<circle cx="303.5" cy="262.2" r="1.2"/>
<circle cx="292.3" cy="278.2" r="1.2"/>
<circle cx="301.5" cy="273.0" r="1.2"/>
<circle cx="291.7" cy="277.9" r="1.2"/>
<circle cx="315.2" cy="257.5" r="1.2"/>
<circle cx="323.6" cy="248.5" r="1.2"/>
<circle cx="312.5" cy="258.2" r="1.2"/>
<circle cx="323.0" cy="249.0" r="1.2"/>
<circle cx="314.8" cy="258.1" r="1.2"/>
<circle cx="318.3" cy="256.7" r="1.2"/>
<circle cx="312.4" cy="256.6" r="1.2"/>
<circle cx="326.0" cy="248.3" r="1.2"/>
<circle cx="324.6" cy="244.4" r="1.2"/>
<circle cx="334.5" cy="236.7" r="1.2"/>
<circle cx="337.0" cy="236.6" r="1.2"/>
<circle cx="324.8" cy="242.4" r="1.2"/>
<rect x="329.50" y="314.00" width="3.20" height="0.50" fill="#cfcdec" stroke="#9c96d4" stroke-width="0.5"/>
<rect x="332.70" y="314.30" width="3.20" height="0.20" fill="#cfcdec" stroke="#9c96d4" stroke-width="0.5"/>
<rect x="335.90" y="314.10" width="3.20" height="0.40" fill="#cfcdec" stroke="#9c96d4" stroke-width="0.5"/>
<rect x="339.10" y="314.20" width="3.60" height="0.30" fill="#cfcdec" stroke="#9c96d4" stroke-width="0.5"/>
<rect x="342.70" y="314.10" width="3.10" height="0.40" fill="#cfcdec" stroke="#9c96d4" stroke-width="0.5"/>
<rect x="345.80" y="284.90" width="3.50" height="29.60" fill="#cfcdec" stroke="#9c96d4" stroke-width="0.5"/>
<rect x="349.30" y="285.30" width="3.50" height="29.20" fill="#cfcdec" stroke="#9c96d4" stroke-width="0.5"/>
<rect x="352.80" y="313.30" width="3.00" height="1.20" fill="#cfcdec" stroke="#9c96d4" stroke-width="0.5"/>
<rect x="355.80" y="314.30" width="3.20" height="0.20" fill="#cfcdec" stroke="#9c96d4" stroke-width="0.5"/>
<rect x="328.00" y="283.60" width="32.50" height="30.90" fill="none" stroke="#333" stroke-width="0.75"/>
<line x1="329.50" y1="314.50" x2="329.50" y2="317.30" stroke="#222" stroke-width="0.8"/>
<text x="329.50" y="324.90" font-size="3.7" text-anchor="middle" fill="#333" stroke="none">-0.06</text>
<line x1="335.90" y1="314.50" x2="335.90" y2="317.30" stroke="#222" stroke-width="0.8"/>
<line x1="342.70" y1="314.50" x2="342.70" y2="317.30" stroke="#222" stroke-width="0.8"/>
<text x="342.70" y="324.90" font-size="3.7" text-anchor="middle" fill="#333" stroke="none">-0.02</text>
<line x1="349.60" y1="314.50" x2="349.60" y2="317.30" stroke="#222" stroke-width="0.8"/>
<line x1="355.90" y1="314.50" x2="355.90" y2="317.30" stroke="#222" stroke-width="0.8"/>
<text x="355.90" y="324.90" font-size="3.7" text-anchor="middle" fill="#333" stroke="none">0.02</text>
<line x1="325.10" y1="314.50" x2="328.00" y2="314.50" stroke="#222" stroke-width="0.8"/>
<text transform="translate(322.10,314.50) rotate(-90)" font-size="3.7" text-anchor="middle" fill="#333" stroke="none">0</text>
<line x1="325.10" y1="307.70" x2="328.00" y2="307.70" stroke="#222" stroke-width="0.8"/>
<text transform="translate(322.10,307.70) rotate(-90)" font-size="3.7" text-anchor="middle" fill="#333" stroke="none">50</text>
<line x1="325.10" y1="301.00" x2="328.00" y2="301.00" stroke="#222" stroke-width="0.8"/>
<line x1="325.10" y1="294.30" x2="328.00" y2="294.30" stroke="#222" stroke-width="0.8"/>
<text transform="translate(322.10,294.30) rotate(-90)" font-size="3.7" text-anchor="middle" fill="#333" stroke="none">150</text>
<line x1="325.10" y1="287.60" x2="328.00" y2="287.60" stroke="#222" stroke-width="0.8"/>
<text x="344.25" y="330.90" font-size="3.8" text-anchor="middle" fill="#333" stroke="none">Residuals</text>
<text transform="translate(317.00,299.55) rotate(-90)" font-size="3.4" text-anchor="middle" fill="#666" stroke="none">%</text>
<text x="342.25" y="280.00" font-size="4.35" text-anchor="middle" fill="#5b52b8" stroke="none"><tspan font-weight="bold">R</tspan><tspan font-size="3.0" dy="-2">2</tspan><tspan dy="2"> = 0.9877</tspan></text>
<rect x="224.3" y="199.9" width="151.40" height="140.10" fill="none" stroke="#2a2a2a" stroke-width="1.2"/>
<text stroke="#6f6bb8" stroke-width="0.22" x="358.70" y="219.00" font-size="4.1" fill="#6f6bb8">1:1</text>
<text stroke="#4b41a9" stroke-width="0.22" x="224.30" y="199.90" transform="translate(8.6,13.7)" font-size="4.6" font-weight="bold" fill="#4b41a9" textLength="112.4" lengthAdjust="spacing"><tspan font-weight="normal">θ</tspan><tspan font-size="3.3" dy="1.2">S</tspan><tspan dy="-1.2"> = a · K</tspan><tspan font-size="3.3" dy="1.2">S</tspan><tspan font-size="3.3" dx="-1.9" dy="-3.6">2</tspan><tspan dy="2.4"> + b · K</tspan><tspan font-size="3.3" dy="1.2">S</tspan><tspan dy="-1.2"> + c + d · Sa + e · Cl</tspan><tspan font-size="3.3" dy="-2.4">2</tspan><tspan dy="2.4"> + f · Cl</tspan></text>
<text stroke="#161616" stroke-width="0.22" x="232.60" y="228.00" font-size="4.5" fill="#161616"><tspan font-weight="bold">a</tspan> = −0.1249 ± 0.0062</text>
<text stroke="#161616" stroke-width="0.22" x="232.60" y="235.80" font-size="4.5" fill="#161616"><tspan font-weight="bold">b</tspan> = −0.0596 ± 0.0243</text>
<text stroke="#161616" stroke-width="0.22" x="232.60" y="243.60" font-size="4.5" fill="#161616"><tspan font-weight="bold">c</tspan> = 0.4891 ± 0.0005</text>
<text stroke="#161616" stroke-width="0.22" x="232.60" y="251.40" font-size="4.5" fill="#161616"><tspan font-weight="bold">d</tspan> = −0.0006 ± 0.00001</text>
<text stroke="#161616" stroke-width="0.22" x="232.60" y="259.20" font-size="4.5" fill="#161616"><tspan font-weight="bold">e</tspan> = 0.7722 ± 0.0223</text>
<text stroke="#161616" stroke-width="0.22" x="232.60" y="267.00" font-size="4.5" fill="#161616"><tspan font-weight="bold">f</tspan> = −0.1834 ± 0.0105</text>
<line x1="33.99" y1="387.2" x2="33.99" y2="527.3" stroke="#f6f6f6" stroke-width="1.0"/>
<line x1="28.4" y1="522.11" x2="179.2" y2="522.11" stroke="#f6f6f6" stroke-width="1.0"/>
<line x1="61.91" y1="387.2" x2="61.91" y2="527.3" stroke="#f6f6f6" stroke-width="1.0"/>
<line x1="28.4" y1="496.17" x2="179.2" y2="496.17" stroke="#f6f6f6" stroke-width="1.0"/>
<line x1="89.84" y1="387.2" x2="89.84" y2="527.3" stroke="#f6f6f6" stroke-width="1.0"/>
<line x1="28.4" y1="470.22" x2="179.2" y2="470.22" stroke="#f6f6f6" stroke-width="1.0"/>
<line x1="117.76" y1="387.2" x2="117.76" y2="527.3" stroke="#f6f6f6" stroke-width="1.0"/>
<line x1="28.4" y1="444.28" x2="179.2" y2="444.28" stroke="#f6f6f6" stroke-width="1.0"/>
<line x1="145.69" y1="387.2" x2="145.69" y2="527.3" stroke="#f6f6f6" stroke-width="1.0"/>
<line x1="28.4" y1="418.33" x2="179.2" y2="418.33" stroke="#f6f6f6" stroke-width="1.0"/>
<line x1="173.61" y1="387.2" x2="173.61" y2="527.3" stroke="#f6f6f6" stroke-width="1.0"/>
<line x1="28.4" y1="392.39" x2="179.2" y2="392.39" stroke="#f6f6f6" stroke-width="1.0"/>
<line x1="28.4" y1="527.3" x2="179.2" y2="387.2" stroke="#6f6bb8" stroke-width="1.15" stroke-dasharray="2.5,1.9"/>
<line x1="33.99" y1="527.3" x2="33.99" y2="530.0999999999999" stroke="#666" stroke-width="0.5"/>
<line x1="25.599999999999998" y1="522.11" x2="28.4" y2="522.11" stroke="#666" stroke-width="0.5"/>
<text stroke="#2a2a2a" stroke-width="0.22" x="33.99" y="537.50" font-size="6.6" text-anchor="middle" fill="#2a2a2a">0.35</text>
<text stroke="#2a2a2a" stroke-width="0.22" transform="translate(22.10,522.11) rotate(-90)" font-size="6.6" text-anchor="middle" fill="#2a2a2a">0.35</text>
<line x1="61.91" y1="527.3" x2="61.91" y2="530.0999999999999" stroke="#666" stroke-width="0.5"/>
<line x1="25.599999999999998" y1="496.17" x2="28.4" y2="496.17" stroke="#666" stroke-width="0.5"/>
<text stroke="#2a2a2a" stroke-width="0.22" x="61.91" y="537.50" font-size="6.6" text-anchor="middle" fill="#2a2a2a">0.40</text>
<text stroke="#2a2a2a" stroke-width="0.22" transform="translate(22.10,496.17) rotate(-90)" font-size="6.6" text-anchor="middle" fill="#2a2a2a">0.40</text>
<line x1="89.84" y1="527.3" x2="89.84" y2="530.0999999999999" stroke="#666" stroke-width="0.5"/>
<line x1="25.599999999999998" y1="470.22" x2="28.4" y2="470.22" stroke="#666" stroke-width="0.5"/>
<text stroke="#2a2a2a" stroke-width="0.22" x="89.84" y="537.50" font-size="6.6" text-anchor="middle" fill="#2a2a2a">0.45</text>
<text stroke="#2a2a2a" stroke-width="0.22" transform="translate(22.10,470.22) rotate(-90)" font-size="6.6" text-anchor="middle" fill="#2a2a2a">0.45</text>
<line x1="117.76" y1="527.3" x2="117.76" y2="530.0999999999999" stroke="#666" stroke-width="0.5"/>
<line x1="25.599999999999998" y1="444.28" x2="28.4" y2="444.28" stroke="#666" stroke-width="0.5"/>
<text stroke="#2a2a2a" stroke-width="0.22" x="117.76" y="537.50" font-size="6.6" text-anchor="middle" fill="#2a2a2a">0.50</text>
<text stroke="#2a2a2a" stroke-width="0.22" transform="translate(22.10,444.28) rotate(-90)" font-size="6.6" text-anchor="middle" fill="#2a2a2a">0.50</text>
<line x1="145.69" y1="527.3" x2="145.69" y2="530.0999999999999" stroke="#666" stroke-width="0.5"/>
<line x1="25.599999999999998" y1="418.33" x2="28.4" y2="418.33" stroke="#666" stroke-width="0.5"/>
<text stroke="#2a2a2a" stroke-width="0.22" x="145.69" y="537.50" font-size="6.6" text-anchor="middle" fill="#2a2a2a">0.55</text>
<text stroke="#2a2a2a" stroke-width="0.22" transform="translate(22.10,418.33) rotate(-90)" font-size="6.6" text-anchor="middle" fill="#2a2a2a">0.55</text>
<line x1="173.61" y1="527.3" x2="173.61" y2="530.0999999999999" stroke="#666" stroke-width="0.5"/>
<line x1="25.599999999999998" y1="392.39" x2="28.4" y2="392.39" stroke="#666" stroke-width="0.5"/>
<text stroke="#2a2a2a" stroke-width="0.22" x="173.61" y="537.50" font-size="6.6" text-anchor="middle" fill="#2a2a2a">0.60</text>
<text stroke="#2a2a2a" stroke-width="0.22" transform="translate(22.10,392.39) rotate(-90)" font-size="6.6" text-anchor="middle" fill="#2a2a2a">0.60</text>
<text stroke="#111" stroke-width="0.22" x="103.80" y="546.30" font-size="6.95" text-anchor="middle" fill="#111">Measured θ<tspan font-size="4.9" dy="1.6">S</tspan><tspan dy="-1.6"> [cm</tspan><tspan font-size="4.9" dy="-2.7">3</tspan><tspan dy="2.7">/cm</tspan><tspan font-size="4.9" dy="-2.7">3</tspan><tspan dy="2.7">]</tspan></text>
<text stroke="#1a1a1a" stroke-width="0.22" transform="translate(9.50,456.75) rotate(-90)" font-size="6.95" text-anchor="middle" fill="#1a1a1a">Estimated θ<tspan font-size="4.9" dy="1.6">S</tspan><tspan dy="-1.6"> [cm</tspan><tspan font-size="4.9" dy="-2.7">3</tspan><tspan dy="2.7">/cm</tspan><tspan font-size="4.9" dy="-2.7">3</tspan><tspan dy="2.7">]</tspan></text>
<text stroke="#111" stroke-width="0.22" x="103.80" y="380.90" font-size="5.3" font-weight="bold" text-anchor="middle" fill="#111">PTF-5</text>
<circle cx="112.6" cy="408.0" r="1.2"/>
<circle cx="136.2" cy="408.0" r="1.2"/>
<circle cx="144.6" cy="411.0" r="1.2"/>
<circle cx="140.4" cy="415.8" r="1.2"/>
<circle cx="142.9" cy="416.9" r="1.2"/>
<circle cx="138.3" cy="419.0" r="1.2"/>
<circle cx="137.9" cy="423.6" r="1.2"/>
<circle cx="144.6" cy="425.7" r="1.2"/>
<circle cx="134.1" cy="427.4" r="1.2"/>
<circle cx="113.0" cy="434.8" r="1.2"/>
<circle cx="102.0" cy="443.7" r="1.2"/>
<circle cx="38.3" cy="489.0" r="1.2"/>
<circle cx="51.3" cy="486.2" r="1.2"/>
<circle cx="53.1" cy="485.3" r="1.2"/>
<circle cx="55.9" cy="483.4" r="1.2"/>
<circle cx="57.7" cy="482.1" r="1.2"/>
<circle cx="59.2" cy="484.4" r="1.2"/>
<circle cx="55.0" cy="485.8" r="1.2"/>
<circle cx="64.2" cy="484.4" r="1.2"/>
<circle cx="66.0" cy="486.2" r="1.2"/>
<circle cx="67.9" cy="481.6" r="1.2"/>
<circle cx="69.7" cy="480.7" r="1.2"/>
<circle cx="67.0" cy="488.4" r="1.2"/>
<circle cx="74.4" cy="474.2" r="1.2"/>
<circle cx="77.1" cy="479.7" r="1.2"/>
<circle cx="79.0" cy="477.9" r="1.2"/>
<circle cx="79.9" cy="479.7" r="1.2"/>
<circle cx="80.8" cy="475.1" r="1.2"/>
<circle cx="82.7" cy="473.3" r="1.2"/>
<circle cx="83.6" cy="470.5" r="1.2"/>
<circle cx="85.5" cy="469.6" r="1.2"/>
<circle cx="87.3" cy="471.4" r="1.2"/>
<circle cx="89.1" cy="472.3" r="1.2"/>
<circle cx="90.1" cy="477.0" r="1.2"/>
<circle cx="91.0" cy="478.8" r="1.2"/>
<circle cx="92.8" cy="479.7" r="1.2"/>
<circle cx="91.0" cy="459.4" r="1.2"/>
<circle cx="93.8" cy="471.4" r="1.2"/>
<circle cx="95.6" cy="469.6" r="1.2"/>
<circle cx="97.5" cy="464.0" r="1.2"/>
<circle cx="101.8" cy="450.5" r="1.2"/>
<circle cx="91.5" cy="459.6" r="1.2"/>
<circle cx="98.2" cy="468.0" r="1.2"/>
<circle cx="103.8" cy="470.3" r="1.2"/>
<circle cx="106.1" cy="468.8" r="1.2"/>
<circle cx="95.8" cy="471.1" r="1.2"/>
<circle cx="99.0" cy="471.1" r="1.2"/>
<circle cx="112.5" cy="434.6" r="1.2"/>
<circle cx="114.5" cy="439.0" r="1.2"/>
<circle cx="118.9" cy="433.1" r="1.2"/>
<circle cx="120.8" cy="432.7" r="1.2"/>
<circle cx="123.2" cy="434.3" r="1.2"/>
<circle cx="120.8" cy="439.4" r="1.2"/>
<circle cx="118.9" cy="444.9" r="1.2"/>
<circle cx="125.2" cy="437.0" r="1.2"/>
<circle cx="127.2" cy="429.9" r="1.2"/>
<circle cx="131.5" cy="427.5" r="1.2"/>
<circle cx="133.5" cy="424.8" r="1.2"/>
<circle cx="132.7" cy="439.8" r="1.2"/>
<circle cx="134.3" cy="441.4" r="1.2"/>
<circle cx="128.0" cy="431.9" r="1.2"/>
<circle cx="135.8" cy="407.9" r="1.2"/>
<circle cx="144.1" cy="411.1" r="1.2"/>
<circle cx="139.8" cy="414.6" r="1.2"/>
<circle cx="137.8" cy="417.8" r="1.2"/>
<circle cx="142.2" cy="417.4" r="1.2"/>
<circle cx="137.8" cy="423.0" r="1.2"/>
<circle cx="133.9" cy="424.9" r="1.2"/>
<circle cx="131.9" cy="427.3" r="1.2"/>
<circle cx="127.5" cy="429.7" r="1.2"/>
<circle cx="144.1" cy="425.7" r="1.2"/>
<circle cx="112.5" cy="435.3" r="1.2"/>
<circle cx="114.5" cy="439.3" r="1.2"/>
<circle cx="101.9" cy="443.2" r="1.2"/>
<circle cx="101.9" cy="450.7" r="1.2"/>
<circle cx="110.5" cy="444.9" r="1.2"/>
<circle cx="118.4" cy="444.9" r="1.2"/>
<circle cx="114.8" cy="449.2" r="1.2"/>
<circle cx="117.4" cy="448.9" r="1.2"/>
<circle cx="119.4" cy="449.2" r="1.2"/>
<circle cx="114.8" cy="450.8" r="1.2"/>
<circle cx="112.5" cy="454.5" r="1.2"/>
<circle cx="116.8" cy="456.1" r="1.2"/>
<circle cx="118.7" cy="452.8" r="1.2"/>
<circle cx="110.2" cy="456.8" r="1.2"/>
<circle cx="114.1" cy="458.1" r="1.2"/>
<circle cx="108.2" cy="454.1" r="1.2"/>
<circle cx="118.6" cy="432.9" r="1.2"/>
<circle cx="120.6" cy="432.6" r="1.2"/>
<circle cx="122.9" cy="434.3" r="1.2"/>
<circle cx="127.2" cy="429.6" r="1.2"/>
<circle cx="127.5" cy="432.0" r="1.2"/>
<circle cx="124.9" cy="436.9" r="1.2"/>
<circle cx="120.9" cy="438.9" r="1.2"/>
<circle cx="120.9" cy="440.5" r="1.2"/>
<circle cx="115.3" cy="439.5" r="1.2"/>
<circle cx="134.1" cy="431.6" r="1.2"/>
<circle cx="134.1" cy="436.6" r="1.2"/>
<circle cx="131.5" cy="439.5" r="1.2"/>
<circle cx="134.1" cy="440.5" r="1.2"/>
<circle cx="119.0" cy="444.5" r="1.2"/>
<circle cx="117.6" cy="445.5" r="1.2"/>
<circle cx="91.6" cy="459.6" r="1.2"/>
<circle cx="82.4" cy="475.8" r="1.2"/>
<circle cx="84.0" cy="470.5" r="1.2"/>
<circle cx="97.9" cy="465.5" r="1.2"/>
<circle cx="99.4" cy="462.7" r="1.2"/>
<circle cx="94.4" cy="467.8" r="1.2"/>
<circle cx="86.2" cy="469.6" r="1.2"/>
<circle cx="93.6" cy="470.7" r="1.2"/>
<circle cx="85.3" cy="471.1" r="1.2"/>
<circle cx="102.4" cy="454.7" r="1.2"/>
<circle cx="105.2" cy="459.8" r="1.2"/>
<circle cx="92.6" cy="473.1" r="1.2"/>
<circle cx="83.5" cy="469.4" r="1.2"/>
<circle cx="86.9" cy="472.4" r="1.2"/>
<circle cx="98.9" cy="459.5" r="1.2"/>
<circle cx="93.1" cy="464.0" r="1.2"/>
<circle cx="101.6" cy="470.2" r="1.2"/>
<circle cx="99.0" cy="466.0" r="1.2"/>
<circle cx="99.2" cy="457.0" r="1.2"/>
<circle cx="105.6" cy="462.1" r="1.2"/>
<circle cx="97.4" cy="457.2" r="1.2"/>
<circle cx="105.4" cy="458.2" r="1.2"/>
<circle cx="94.6" cy="469.0" r="1.2"/>
<circle cx="98.9" cy="463.1" r="1.2"/>
<circle cx="106.6" cy="466.0" r="1.2"/>
<circle cx="93.0" cy="468.1" r="1.2"/>
<circle cx="85.3" cy="473.8" r="1.2"/>
<circle cx="99.2" cy="457.5" r="1.2"/>
<circle cx="101.8" cy="463.9" r="1.2"/>
<circle cx="105.6" cy="457.1" r="1.2"/>
<circle cx="103.4" cy="460.1" r="1.2"/>
<circle cx="81.5" cy="470.8" r="1.2"/>
<circle cx="100.4" cy="470.1" r="1.2"/>
<circle cx="87.3" cy="473.0" r="1.2"/>
<circle cx="89.8" cy="473.5" r="1.2"/>
<circle cx="107.0" cy="465.9" r="1.2"/>
<circle cx="91.4" cy="470.4" r="1.2"/>
<circle cx="99.4" cy="464.6" r="1.2"/>
<circle cx="99.3" cy="458.5" r="1.2"/>
<circle cx="96.6" cy="459.2" r="1.2"/>
<circle cx="97.6" cy="465.6" r="1.2"/>
<circle cx="80.6" cy="476.1" r="1.2"/>
<circle cx="94.0" cy="467.0" r="1.2"/>
<circle cx="102.2" cy="469.5" r="1.2"/>
<circle cx="81.9" cy="474.9" r="1.2"/>
<circle cx="82.5" cy="474.9" r="1.2"/>
<circle cx="101.0" cy="458.4" r="1.2"/>
<circle cx="82.1" cy="468.9" r="1.2"/>
<circle cx="101.8" cy="461.9" r="1.2"/>
<circle cx="106.8" cy="454.6" r="1.2"/>
<circle cx="88.2" cy="472.4" r="1.2"/>
<circle cx="87.9" cy="471.2" r="1.2"/>
<circle cx="96.9" cy="470.2" r="1.2"/>
<circle cx="103.1" cy="455.5" r="1.2"/>
<circle cx="89.1" cy="470.3" r="1.2"/>
<circle cx="92.9" cy="471.2" r="1.2"/>
<circle cx="95.9" cy="470.1" r="1.2"/>
<circle cx="105.0" cy="454.5" r="1.2"/>
<circle cx="81.3" cy="471.8" r="1.2"/>
<circle cx="103.0" cy="468.5" r="1.2"/>
<circle cx="106.6" cy="468.5" r="1.2"/>
<circle cx="103.1" cy="457.8" r="1.2"/>
<circle cx="101.1" cy="464.9" r="1.2"/>
<circle cx="106.8" cy="460.2" r="1.2"/>
<circle cx="100.1" cy="461.8" r="1.2"/>
<circle cx="106.6" cy="458.2" r="1.2"/>
<circle cx="106.3" cy="459.8" r="1.2"/>
<circle cx="96.8" cy="466.6" r="1.2"/>
<circle cx="102.6" cy="460.6" r="1.2"/>
<circle cx="99.9" cy="470.9" r="1.2"/>
<circle cx="96.9" cy="461.6" r="1.2"/>
<circle cx="103.2" cy="458.8" r="1.2"/>
<circle cx="100.7" cy="462.6" r="1.2"/>
<circle cx="93.8" cy="468.2" r="1.2"/>
<circle cx="95.9" cy="465.2" r="1.2"/>
<circle cx="84.5" cy="476.3" r="1.2"/>
<circle cx="87.8" cy="470.6" r="1.2"/>
<circle cx="86.3" cy="471.0" r="1.2"/>
<circle cx="102.4" cy="466.6" r="1.2"/>
<circle cx="92.4" cy="472.1" r="1.2"/>
<circle cx="102.0" cy="467.2" r="1.2"/>
<circle cx="94.1" cy="462.4" r="1.2"/>
<circle cx="81.1" cy="473.1" r="1.2"/>
<circle cx="92.2" cy="464.0" r="1.2"/>
<circle cx="95.6" cy="467.5" r="1.2"/>
<circle cx="84.6" cy="469.4" r="1.2"/>
<circle cx="106.5" cy="465.0" r="1.2"/>
<circle cx="94.5" cy="466.5" r="1.2"/>
<circle cx="96.3" cy="465.0" r="1.2"/>
<circle cx="87.0" cy="469.6" r="1.2"/>
<circle cx="100.6" cy="460.7" r="1.2"/>
<circle cx="105.7" cy="466.6" r="1.2"/>
<circle cx="99.6" cy="458.2" r="1.2"/>
<circle cx="96.9" cy="465.7" r="1.2"/>
<circle cx="85.4" cy="467.9" r="1.2"/>
<circle cx="101.1" cy="458.9" r="1.2"/>
<circle cx="104.0" cy="458.9" r="1.2"/>
<circle cx="96.4" cy="464.3" r="1.2"/>
<circle cx="94.7" cy="469.3" r="1.2"/>
<circle cx="85.3" cy="470.7" r="1.2"/>
<circle cx="97.0" cy="459.6" r="1.2"/>
<circle cx="83.6" cy="476.6" r="1.2"/>
<circle cx="85.0" cy="473.8" r="1.2"/>
<circle cx="86.5" cy="471.3" r="1.2"/>
<circle cx="96.5" cy="468.7" r="1.2"/>
<circle cx="92.8" cy="463.6" r="1.2"/>
<circle cx="84.5" cy="475.9" r="1.2"/>
<circle cx="80.7" cy="472.4" r="1.2"/>
<circle cx="100.6" cy="470.0" r="1.2"/>
<circle cx="81.4" cy="476.2" r="1.2"/>
<circle cx="106.7" cy="467.8" r="1.2"/>
<circle cx="99.1" cy="457.0" r="1.2"/>
<circle cx="102.8" cy="454.2" r="1.2"/>
<circle cx="85.3" cy="471.7" r="1.2"/>
<circle cx="105.8" cy="455.4" r="1.2"/>
<circle cx="80.9" cy="471.2" r="1.2"/>
<circle cx="126.8" cy="441.4" r="1.2"/>
<circle cx="127.8" cy="444.1" r="1.2"/>
<circle cx="123.8" cy="441.4" r="1.2"/>
<circle cx="124.2" cy="440.1" r="1.2"/>
<circle cx="125.2" cy="446.2" r="1.2"/>
<circle cx="122.7" cy="444.2" r="1.2"/>
<circle cx="129.9" cy="443.6" r="1.2"/>
<circle cx="122.9" cy="447.2" r="1.2"/>
<circle cx="129.2" cy="440.1" r="1.2"/>
<circle cx="128.9" cy="448.2" r="1.2"/>
<circle cx="128.1" cy="448.9" r="1.2"/>
<circle cx="128.4" cy="446.4" r="1.2"/>
<circle cx="129.2" cy="442.7" r="1.2"/>
<circle cx="126.5" cy="446.5" r="1.2"/>
<circle cx="123.7" cy="442.4" r="1.2"/>
<circle cx="123.8" cy="448.1" r="1.2"/>
<circle cx="124.6" cy="440.1" r="1.2"/>
<circle cx="129.6" cy="446.8" r="1.2"/>
<circle cx="125.6" cy="448.2" r="1.2"/>
<circle cx="123.5" cy="443.9" r="1.2"/>
<circle cx="126.7" cy="447.0" r="1.2"/>
<circle cx="123.7" cy="442.4" r="1.2"/>
<circle cx="128.5" cy="446.9" r="1.2"/>
<circle cx="123.0" cy="443.3" r="1.2"/>
<circle cx="127.8" cy="441.1" r="1.2"/>
<circle cx="129.4" cy="435.3" r="1.2"/>
<circle cx="132.0" cy="435.2" r="1.2"/>
<circle cx="128.5" cy="438.1" r="1.2"/>
<circle cx="130.9" cy="435.7" r="1.2"/>
<circle cx="131.1" cy="436.5" r="1.2"/>
<circle cx="131.0" cy="435.2" r="1.2"/>
<circle cx="131.9" cy="433.8" r="1.2"/>
<circle cx="129.9" cy="431.9" r="1.2"/>
<circle cx="133.2" cy="435.6" r="1.2"/>
<circle cx="132.3" cy="436.3" r="1.2"/>
<circle cx="132.0" cy="432.9" r="1.2"/>
<circle cx="123.2" cy="448.5" r="1.2"/>
<circle cx="116.1" cy="451.1" r="1.2"/>
<circle cx="116.8" cy="451.7" r="1.2"/>
<circle cx="123.6" cy="448.0" r="1.2"/>
<circle cx="116.6" cy="452.8" r="1.2"/>
<circle cx="121.9" cy="447.6" r="1.2"/>
<circle cx="119.3" cy="448.7" r="1.2"/>
<circle cx="123.6" cy="448.2" r="1.2"/>
<circle cx="114.8" cy="452.8" r="1.2"/>
<circle cx="115.6" cy="454.0" r="1.2"/>
<circle cx="109.9" cy="456.9" r="1.2"/>
<circle cx="117.2" cy="450.8" r="1.2"/>
<circle cx="114.1" cy="455.6" r="1.2"/>
<circle cx="115.0" cy="453.8" r="1.2"/>
<circle cx="109.9" cy="456.7" r="1.2"/>
<circle cx="110.7" cy="456.6" r="1.2"/>
<circle cx="112.1" cy="449.8" r="1.2"/>
<circle cx="108.2" cy="452.2" r="1.2"/>
<circle cx="114.9" cy="454.9" r="1.2"/>
<circle cx="111.7" cy="448.9" r="1.2"/>
<circle cx="113.6" cy="452.7" r="1.2"/>
<circle cx="119.1" cy="445.2" r="1.2"/>
<circle cx="109.9" cy="457.1" r="1.2"/>
<circle cx="114.3" cy="447.1" r="1.2"/>
<circle cx="109.6" cy="449.4" r="1.2"/>
<circle cx="118.5" cy="446.5" r="1.2"/>
<circle cx="113.1" cy="446.7" r="1.2"/>
<circle cx="110.4" cy="455.0" r="1.2"/>
<circle cx="115.7" cy="451.9" r="1.2"/>
<circle cx="118.5" cy="455.6" r="1.2"/>
<circle cx="113.4" cy="451.2" r="1.2"/>
<circle cx="112.9" cy="452.8" r="1.2"/>
<circle cx="113.4" cy="454.1" r="1.2"/>
<circle cx="125.0" cy="449.4" r="1.2"/>
<circle cx="110.3" cy="458.2" r="1.2"/>
<circle cx="111.5" cy="455.4" r="1.2"/>
<circle cx="125.4" cy="451.2" r="1.2"/>
<circle cx="121.2" cy="451.5" r="1.2"/>
<circle cx="115.4" cy="452.9" r="1.2"/>
<circle cx="118.5" cy="451.8" r="1.2"/>
<circle cx="117.8" cy="447.4" r="1.2"/>
<circle cx="126.8" cy="450.4" r="1.2"/>
<circle cx="110.4" cy="452.3" r="1.2"/>
<circle cx="113.6" cy="455.0" r="1.2"/>
<circle cx="116.2" cy="448.4" r="1.2"/>
<circle cx="125.6" cy="454.6" r="1.2"/>
<circle cx="110.8" cy="458.0" r="1.2"/>
<circle cx="113.6" cy="450.0" r="1.2"/>
<circle cx="112.1" cy="448.2" r="1.2"/>
<circle cx="120.3" cy="453.3" r="1.2"/>
<circle cx="114.2" cy="454.7" r="1.2"/>
<circle cx="115.8" cy="447.1" r="1.2"/>
<circle cx="119.5" cy="455.1" r="1.2"/>
<circle cx="115.9" cy="448.4" r="1.2"/>
<circle cx="124.9" cy="452.0" r="1.2"/>
<circle cx="120.8" cy="453.2" r="1.2"/>
<circle cx="123.3" cy="454.8" r="1.2"/>
<circle cx="125.9" cy="452.6" r="1.2"/>
<circle cx="123.4" cy="449.9" r="1.2"/>
<circle cx="118.9" cy="452.6" r="1.2"/>
<rect x="133.00" y="501.50" width="2.20" height="0.30" fill="#cfcdec" stroke="#9c96d4" stroke-width="0.5"/>
<rect x="135.20" y="501.60" width="2.40" height="0.20" fill="#cfcdec" stroke="#9c96d4" stroke-width="0.5"/>
<rect x="137.60" y="501.50" width="2.30" height="0.30" fill="#cfcdec" stroke="#9c96d4" stroke-width="0.5"/>
<rect x="139.90" y="500.50" width="2.30" height="1.30" fill="#cfcdec" stroke="#9c96d4" stroke-width="0.5"/>
<rect x="142.20" y="501.60" width="2.40" height="0.20" fill="#cfcdec" stroke="#9c96d4" stroke-width="0.5"/>
<rect x="144.60" y="497.90" width="2.20" height="3.90" fill="#cfcdec" stroke="#9c96d4" stroke-width="0.5"/>
<rect x="146.80" y="500.20" width="2.30" height="1.60" fill="#cfcdec" stroke="#9c96d4" stroke-width="0.5"/>
<rect x="149.10" y="479.80" width="2.30" height="22.00" fill="#cfcdec" stroke="#9c96d4" stroke-width="0.5"/>
<rect x="151.40" y="471.70" width="2.50" height="30.10" fill="#cfcdec" stroke="#9c96d4" stroke-width="0.5"/>
<rect x="153.90" y="484.40" width="2.40" height="17.40" fill="#cfcdec" stroke="#9c96d4" stroke-width="0.5"/>
<rect x="156.30" y="481.20" width="2.30" height="20.60" fill="#cfcdec" stroke="#9c96d4" stroke-width="0.5"/>
<rect x="158.60" y="495.20" width="2.30" height="6.60" fill="#cfcdec" stroke="#9c96d4" stroke-width="0.5"/>
<rect x="131.70" y="470.60" width="31.70" height="31.20" fill="none" stroke="#333" stroke-width="0.75"/>
<line x1="135.20" y1="501.80" x2="135.20" y2="504.60" stroke="#222" stroke-width="0.8"/>
<text x="135.20" y="512.20" font-size="3.7" text-anchor="middle" fill="#333" stroke="none">-0.08</text>
<line x1="139.90" y1="501.80" x2="139.90" y2="504.60" stroke="#222" stroke-width="0.8"/>
<line x1="144.60" y1="501.80" x2="144.60" y2="504.60" stroke="#222" stroke-width="0.8"/>
<line x1="149.10" y1="501.80" x2="149.10" y2="504.60" stroke="#222" stroke-width="0.8"/>
<text x="149.10" y="512.20" font-size="3.7" text-anchor="middle" fill="#333" stroke="none">-0.02</text>
<line x1="153.90" y1="501.80" x2="153.90" y2="504.60" stroke="#222" stroke-width="0.8"/>
<line x1="158.60" y1="501.80" x2="158.60" y2="504.60" stroke="#222" stroke-width="0.8"/>
<line x1="163.10" y1="501.80" x2="163.10" y2="504.60" stroke="#222" stroke-width="0.8"/>
<text x="163.10" y="512.20" font-size="3.7" text-anchor="middle" fill="#333" stroke="none">0.04</text>
<line x1="128.80" y1="501.80" x2="131.70" y2="501.80" stroke="#222" stroke-width="0.8"/>
<text transform="translate(125.80,501.80) rotate(-90)" font-size="3.7" text-anchor="middle" fill="#333" stroke="none">0</text>
<line x1="128.80" y1="497.10" x2="131.70" y2="497.10" stroke="#222" stroke-width="0.8"/>
<line x1="128.80" y1="492.40" x2="131.70" y2="492.40" stroke="#222" stroke-width="0.8"/>
<text transform="translate(125.80,492.40) rotate(-90)" font-size="3.7" text-anchor="middle" fill="#333" stroke="none">40</text>
<line x1="128.80" y1="487.70" x2="131.70" y2="487.70" stroke="#222" stroke-width="0.8"/>
<line x1="128.80" y1="483.00" x2="131.70" y2="483.00" stroke="#222" stroke-width="0.8"/>
<text transform="translate(125.80,483.00) rotate(-90)" font-size="3.7" text-anchor="middle" fill="#333" stroke="none">80</text>
<line x1="128.80" y1="478.30" x2="131.70" y2="478.30" stroke="#222" stroke-width="0.8"/>
<line x1="128.80" y1="473.60" x2="131.70" y2="473.60" stroke="#222" stroke-width="0.8"/>
<text transform="translate(125.80,473.60) rotate(-90)" font-size="3.7" text-anchor="middle" fill="#333" stroke="none">120</text>
<text x="147.55" y="518.20" font-size="3.8" text-anchor="middle" fill="#333" stroke="none">Residuals</text>
<text transform="translate(120.70,486.70) rotate(-90)" font-size="3.4" text-anchor="middle" fill="#666" stroke="none">%</text>
<text x="145.55" y="467.00" font-size="4.35" text-anchor="middle" fill="#5b52b8" stroke="none"><tspan font-weight="bold">R</tspan><tspan font-size="3.0" dy="-2">2</tspan><tspan dy="2"> = 0.9328</tspan></text>
<rect x="28.4" y="387.2" width="150.80" height="140.10" fill="none" stroke="#2a2a2a" stroke-width="1.2"/>
<text stroke="#6f6bb8" stroke-width="0.22" x="162.80" y="406.30" font-size="4.1" fill="#6f6bb8">1:1</text>
<text stroke="#4b41a9" stroke-width="0.22" transform="translate(38.95,401.20) scale(0.9,1.13)" font-size="8.6" font-weight="normal" text-anchor="middle" fill="#4b41a9">θ</text>
<text stroke="#4b41a9" stroke-width="0.22" transform="translate(43.70,403.30) scale(1.0,1.13)" font-size="6.2" font-weight="normal" text-anchor="middle" fill="#4b41a9">S</text>
<text stroke="#4b41a9" stroke-width="0.22" transform="translate(50.00,401.20) scale(1.0,1.13)" font-size="7.7" font-weight="normal" text-anchor="middle" fill="#4b41a9">=</text>
<text stroke="#4b41a9" stroke-width="0.22" transform="translate(57.35,401.20) scale(1.0,1.13)" font-size="7.7" font-weight="bold" text-anchor="middle" fill="#4b41a9">a</text>
<circle cx="64.30" cy="398.30" r="0.6" fill="#4b41a9" opacity="0.8"/>
<text stroke="#4b41a9" stroke-width="0.22" transform="translate(75.80,401.20) scale(1.0,1.13)" font-size="7.7" font-weight="bold" text-anchor="middle" fill="#4b41a9">exp</text>
<text stroke="#4b41a9" stroke-width="0.22" transform="translate(84.95,401.20) scale(1.0,1.13)" font-size="7.7" font-weight="normal" text-anchor="middle" fill="#4b41a9">(</text>
<text stroke="#4b41a9" stroke-width="0.22" transform="translate(88.90,401.20) scale(1.0,1.13)" font-size="7.7" font-weight="bold" text-anchor="middle" fill="#4b41a9">b</text>
<circle cx="97.80" cy="398.30" r="0.6" fill="#4b41a9" opacity="0.8"/>
<text stroke="#4b41a9" stroke-width="0.22" transform="translate(105.40,401.20) scale(1.0,1.13)" font-size="7.7" font-weight="bold" text-anchor="middle" fill="#4b41a9">Cl</text>
<text stroke="#4b41a9" stroke-width="0.22" transform="translate(112.85,401.20) scale(1.0,1.13)" font-size="7.7" font-weight="normal" text-anchor="middle" fill="#4b41a9">)</text>
<text stroke="#161616" stroke-width="0.22" x="36.70" y="415.10" font-size="4.5" fill="#161616"><tspan font-weight="bold">a</tspan> = 0.4074 ± 0.0014</text>
<text stroke="#161616" stroke-width="0.22" x="36.70" y="423.30" font-size="4.5" fill="#161616"><tspan font-weight="bold">b</tspan> = 0.0063 ± 0.0001</text>
<line x1="229.91" y1="387.2" x2="229.91" y2="527.3" stroke="#f6f6f6" stroke-width="1.0"/>
<line x1="224.3" y1="522.11" x2="375.7" y2="522.11" stroke="#f6f6f6" stroke-width="1.0"/>
<line x1="257.94" y1="387.2" x2="257.94" y2="527.3" stroke="#f6f6f6" stroke-width="1.0"/>
<line x1="224.3" y1="496.17" x2="375.7" y2="496.17" stroke="#f6f6f6" stroke-width="1.0"/>
<line x1="285.98" y1="387.2" x2="285.98" y2="527.3" stroke="#f6f6f6" stroke-width="1.0"/>
<line x1="224.3" y1="470.22" x2="375.7" y2="470.22" stroke="#f6f6f6" stroke-width="1.0"/>
<line x1="314.02" y1="387.2" x2="314.02" y2="527.3" stroke="#f6f6f6" stroke-width="1.0"/>
<line x1="224.3" y1="444.28" x2="375.7" y2="444.28" stroke="#f6f6f6" stroke-width="1.0"/>
<line x1="342.06" y1="387.2" x2="342.06" y2="527.3" stroke="#f6f6f6" stroke-width="1.0"/>
<line x1="224.3" y1="418.33" x2="375.7" y2="418.33" stroke="#f6f6f6" stroke-width="1.0"/>
<line x1="370.09" y1="387.2" x2="370.09" y2="527.3" stroke="#f6f6f6" stroke-width="1.0"/>
<line x1="224.3" y1="392.39" x2="375.7" y2="392.39" stroke="#f6f6f6" stroke-width="1.0"/>
<line x1="224.3" y1="527.3" x2="375.7" y2="387.2" stroke="#6f6bb8" stroke-width="1.15" stroke-dasharray="2.5,1.9"/>
<line x1="229.91" y1="527.3" x2="229.91" y2="530.0999999999999" stroke="#666" stroke-width="0.5"/>
<line x1="221.5" y1="522.11" x2="224.3" y2="522.11" stroke="#666" stroke-width="0.5"/>
<text stroke="#2a2a2a" stroke-width="0.22" x="229.91" y="537.50" font-size="6.6" text-anchor="middle" fill="#2a2a2a">0.35</text>
<text stroke="#2a2a2a" stroke-width="0.22" transform="translate(218.00,522.11) rotate(-90)" font-size="6.6" text-anchor="middle" fill="#2a2a2a">0.35</text>
<line x1="257.94" y1="527.3" x2="257.94" y2="530.0999999999999" stroke="#666" stroke-width="0.5"/>
<line x1="221.5" y1="496.17" x2="224.3" y2="496.17" stroke="#666" stroke-width="0.5"/>
<text stroke="#2a2a2a" stroke-width="0.22" x="257.94" y="537.50" font-size="6.6" text-anchor="middle" fill="#2a2a2a">0.40</text>
<text stroke="#2a2a2a" stroke-width="0.22" transform="translate(218.00,496.17) rotate(-90)" font-size="6.6" text-anchor="middle" fill="#2a2a2a">0.40</text>
<line x1="285.98" y1="527.3" x2="285.98" y2="530.0999999999999" stroke="#666" stroke-width="0.5"/>
<line x1="221.5" y1="470.22" x2="224.3" y2="470.22" stroke="#666" stroke-width="0.5"/>
<text stroke="#2a2a2a" stroke-width="0.22" x="285.98" y="537.50" font-size="6.6" text-anchor="middle" fill="#2a2a2a">0.45</text>
<text stroke="#2a2a2a" stroke-width="0.22" transform="translate(218.00,470.22) rotate(-90)" font-size="6.6" text-anchor="middle" fill="#2a2a2a">0.45</text>
<line x1="314.02" y1="527.3" x2="314.02" y2="530.0999999999999" stroke="#666" stroke-width="0.5"/>
<line x1="221.5" y1="444.28" x2="224.3" y2="444.28" stroke="#666" stroke-width="0.5"/>
<text stroke="#2a2a2a" stroke-width="0.22" x="314.02" y="537.50" font-size="6.6" text-anchor="middle" fill="#2a2a2a">0.50</text>
<text stroke="#2a2a2a" stroke-width="0.22" transform="translate(218.00,444.28) rotate(-90)" font-size="6.6" text-anchor="middle" fill="#2a2a2a">0.50</text>
<line x1="342.06" y1="527.3" x2="342.06" y2="530.0999999999999" stroke="#666" stroke-width="0.5"/>
<line x1="221.5" y1="418.33" x2="224.3" y2="418.33" stroke="#666" stroke-width="0.5"/>
<text stroke="#2a2a2a" stroke-width="0.22" x="342.06" y="537.50" font-size="6.6" text-anchor="middle" fill="#2a2a2a">0.55</text>
<text stroke="#2a2a2a" stroke-width="0.22" transform="translate(218.00,418.33) rotate(-90)" font-size="6.6" text-anchor="middle" fill="#2a2a2a">0.55</text>
<line x1="370.09" y1="527.3" x2="370.09" y2="530.0999999999999" stroke="#666" stroke-width="0.5"/>
<line x1="221.5" y1="392.39" x2="224.3" y2="392.39" stroke="#666" stroke-width="0.5"/>
<text stroke="#2a2a2a" stroke-width="0.22" x="370.09" y="537.50" font-size="6.6" text-anchor="middle" fill="#2a2a2a">0.60</text>
<text stroke="#2a2a2a" stroke-width="0.22" transform="translate(218.00,392.39) rotate(-90)" font-size="6.6" text-anchor="middle" fill="#2a2a2a">0.60</text>
<text stroke="#111" stroke-width="0.22" x="300.00" y="546.30" font-size="6.95" text-anchor="middle" fill="#111">Measured θ<tspan font-size="4.9" dy="1.6">S</tspan><tspan dy="-1.6"> [cm</tspan><tspan font-size="4.9" dy="-2.7">3</tspan><tspan dy="2.7">/cm</tspan><tspan font-size="4.9" dy="-2.7">3</tspan><tspan dy="2.7">]</tspan></text>
<text stroke="#1a1a1a" stroke-width="0.22" transform="translate(205.40,456.75) rotate(-90)" font-size="6.95" text-anchor="middle" fill="#1a1a1a">Estimated θ<tspan font-size="4.9" dy="1.6">S</tspan><tspan dy="-1.6"> [cm</tspan><tspan font-size="4.9" dy="-2.7">3</tspan><tspan dy="2.7">/cm</tspan><tspan font-size="4.9" dy="-2.7">3</tspan><tspan dy="2.7">]</tspan></text>
<text stroke="#111" stroke-width="0.22" x="300.00" y="380.90" font-size="5.3" font-weight="bold" text-anchor="middle" fill="#111">PTF-6</text>
<circle cx="234.4" cy="508.7" r="1.2"/>
<circle cx="234.4" cy="519.2" r="1.2"/>
<circle cx="247.1" cy="501.5" r="1.2"/>
<circle cx="248.0" cy="497.2" r="1.2"/>
<circle cx="249.6" cy="494.7" r="1.2"/>
<circle cx="251.3" cy="499.8" r="1.2"/>
<circle cx="251.3" cy="504.8" r="1.2"/>
<circle cx="252.2" cy="491.3" r="1.2"/>
<circle cx="253.9" cy="493.0" r="1.2"/>
<circle cx="253.0" cy="496.4" r="1.2"/>
<circle cx="253.9" cy="498.1" r="1.2"/>
<circle cx="256.1" cy="487.1" r="1.2"/>
<circle cx="260.6" cy="489.6" r="1.2"/>
<circle cx="261.5" cy="492.2" r="1.2"/>
<circle cx="262.3" cy="495.5" r="1.2"/>
<circle cx="261.5" cy="498.9" r="1.2"/>
<circle cx="262.3" cy="501.5" r="1.2"/>
<circle cx="264.0" cy="484.6" r="1.2"/>
<circle cx="265.7" cy="488.8" r="1.2"/>
<circle cx="264.0" cy="493.0" r="1.2"/>
<circle cx="270.8" cy="472.7" r="1.2"/>
<circle cx="272.5" cy="477.0" r="1.2"/>
<circle cx="275.0" cy="482.0" r="1.2"/>
<circle cx="276.7" cy="485.4" r="1.2"/>
<circle cx="275.8" cy="477.0" r="1.2"/>
<circle cx="277.5" cy="471.9" r="1.2"/>
<circle cx="278.4" cy="476.1" r="1.2"/>
<circle cx="280.1" cy="473.6" r="1.2"/>
<circle cx="340.6" cy="432.6" r="1.2"/>
<circle cx="334.3" cy="430.0" r="1.2"/>
<circle cx="287.9" cy="459.9" r="1.2"/>
<circle cx="334.2" cy="429.0" r="1.2"/>
<circle cx="334.2" cy="431.0" r="1.2"/>
<circle cx="334.2" cy="433.4" r="1.2"/>
<circle cx="331.9" cy="424.3" r="1.2"/>
<circle cx="331.9" cy="426.3" r="1.2"/>
<circle cx="333.8" cy="423.9" r="1.2"/>
<circle cx="335.8" cy="422.7" r="1.2"/>
<circle cx="337.4" cy="421.9" r="1.2"/>
<circle cx="339.0" cy="420.7" r="1.2"/>
<circle cx="340.6" cy="419.5" r="1.2"/>
<circle cx="329.9" cy="430.6" r="1.2"/>
<circle cx="331.9" cy="430.2" r="1.2"/>
<circle cx="270.4" cy="472.2" r="1.2"/>
<circle cx="272.6" cy="475.3" r="1.2"/>
<circle cx="272.6" cy="476.9" r="1.2"/>
<circle cx="276.8" cy="470.1" r="1.2"/>
<circle cx="277.8" cy="472.7" r="1.2"/>
<circle cx="277.3" cy="475.3" r="1.2"/>
<circle cx="277.8" cy="478.5" r="1.2"/>
<circle cx="275.7" cy="484.8" r="1.2"/>
<circle cx="277.3" cy="484.8" r="1.2"/>
<circle cx="264.1" cy="483.8" r="1.2"/>
<circle cx="287.9" cy="460.0" r="1.2"/>
<circle cx="290.5" cy="460.6" r="1.2"/>
<circle cx="291.7" cy="466.0" r="1.2"/>
<circle cx="300.8" cy="462.5" r="1.2"/>
<circle cx="311.8" cy="455.3" r="1.2"/>
<circle cx="305.8" cy="454.2" r="1.2"/>
<circle cx="299.1" cy="456.2" r="1.2"/>
<circle cx="295.1" cy="466.5" r="1.2"/>
<circle cx="313.3" cy="446.8" r="1.2"/>
<circle cx="293.6" cy="454.9" r="1.2"/>
<circle cx="290.0" cy="467.7" r="1.2"/>
<circle cx="307.8" cy="452.7" r="1.2"/>
<circle cx="298.2" cy="452.9" r="1.2"/>
<circle cx="303.6" cy="457.2" r="1.2"/>
<circle cx="287.0" cy="465.6" r="1.2"/>
<circle cx="296.8" cy="454.8" r="1.2"/>
<circle cx="295.1" cy="451.5" r="1.2"/>
<circle cx="289.5" cy="467.6" r="1.2"/>
<circle cx="292.5" cy="467.0" r="1.2"/>
<circle cx="301.5" cy="454.2" r="1.2"/>
<circle cx="310.0" cy="450.8" r="1.2"/>
<circle cx="308.4" cy="451.5" r="1.2"/>
<circle cx="304.2" cy="461.1" r="1.2"/>
<circle cx="289.5" cy="462.1" r="1.2"/>
<circle cx="287.0" cy="461.3" r="1.2"/>
<circle cx="307.4" cy="443.4" r="1.2"/>
<circle cx="313.2" cy="454.8" r="1.2"/>
<circle cx="291.9" cy="461.4" r="1.2"/>
<circle cx="306.6" cy="445.7" r="1.2"/>
<circle cx="311.9" cy="448.6" r="1.2"/>
<circle cx="299.6" cy="457.2" r="1.2"/>
<circle cx="310.9" cy="444.0" r="1.2"/>
<circle cx="294.2" cy="461.0" r="1.2"/>
<circle cx="286.5" cy="462.0" r="1.2"/>
<circle cx="299.7" cy="451.4" r="1.2"/>
<circle cx="310.7" cy="452.7" r="1.2"/>
<circle cx="300.6" cy="451.4" r="1.2"/>
<circle cx="308.8" cy="452.7" r="1.2"/>
<circle cx="292.7" cy="468.7" r="1.2"/>
<circle cx="290.8" cy="457.1" r="1.2"/>
<circle cx="310.2" cy="456.5" r="1.2"/>
<circle cx="306.5" cy="445.0" r="1.2"/>
<circle cx="293.1" cy="466.2" r="1.2"/>
<circle cx="295.5" cy="463.1" r="1.2"/>
<circle cx="297.5" cy="464.7" r="1.2"/>
<circle cx="305.2" cy="457.2" r="1.2"/>
<circle cx="306.3" cy="456.5" r="1.2"/>
<circle cx="310.8" cy="456.3" r="1.2"/>
<circle cx="310.9" cy="453.9" r="1.2"/>
<circle cx="312.4" cy="444.7" r="1.2"/>
<circle cx="309.9" cy="450.1" r="1.2"/>
<circle cx="313.5" cy="449.2" r="1.2"/>
<circle cx="312.4" cy="444.0" r="1.2"/>
<circle cx="293.4" cy="458.7" r="1.2"/>
<circle cx="293.0" cy="457.5" r="1.2"/>
<circle cx="302.6" cy="450.3" r="1.2"/>
<circle cx="308.7" cy="452.2" r="1.2"/>
<circle cx="290.2" cy="466.6" r="1.2"/>
<circle cx="296.3" cy="467.1" r="1.2"/>
<circle cx="299.2" cy="459.1" r="1.2"/>
<circle cx="304.8" cy="447.9" r="1.2"/>
<circle cx="291.6" cy="464.1" r="1.2"/>
<circle cx="312.4" cy="447.9" r="1.2"/>
<circle cx="303.2" cy="458.9" r="1.2"/>
<circle cx="311.4" cy="444.3" r="1.2"/>
<circle cx="303.2" cy="453.7" r="1.2"/>
<circle cx="290.3" cy="456.1" r="1.2"/>
<circle cx="291.3" cy="459.8" r="1.2"/>
<circle cx="310.5" cy="445.7" r="1.2"/>
<circle cx="296.2" cy="466.0" r="1.2"/>
<circle cx="284.4" cy="468.3" r="1.2"/>
<circle cx="292.9" cy="469.1" r="1.2"/>
<circle cx="304.3" cy="445.4" r="1.2"/>
<circle cx="289.4" cy="469.5" r="1.2"/>
<circle cx="306.5" cy="449.7" r="1.2"/>
<circle cx="313.0" cy="444.7" r="1.2"/>
<circle cx="286.8" cy="468.7" r="1.2"/>
<circle cx="297.2" cy="463.3" r="1.2"/>
<circle cx="293.4" cy="463.9" r="1.2"/>
<circle cx="298.6" cy="457.7" r="1.2"/>
<circle cx="307.3" cy="457.4" r="1.2"/>
<circle cx="302.1" cy="462.1" r="1.2"/>
<circle cx="299.3" cy="452.9" r="1.2"/>
<circle cx="301.5" cy="451.5" r="1.2"/>
<circle cx="295.8" cy="454.2" r="1.2"/>
<circle cx="304.6" cy="445.8" r="1.2"/>
<circle cx="300.9" cy="452.8" r="1.2"/>
<circle cx="288.2" cy="460.0" r="1.2"/>
<circle cx="302.9" cy="455.2" r="1.2"/>
<circle cx="303.9" cy="454.6" r="1.2"/>
<circle cx="286.4" cy="464.8" r="1.2"/>
<circle cx="301.8" cy="451.1" r="1.2"/>
<circle cx="302.5" cy="446.0" r="1.2"/>
<circle cx="309.0" cy="457.5" r="1.2"/>
<circle cx="303.9" cy="449.1" r="1.2"/>
<circle cx="289.4" cy="458.2" r="1.2"/>
<circle cx="298.4" cy="460.0" r="1.2"/>
<circle cx="312.3" cy="442.0" r="1.2"/>
<circle cx="305.6" cy="451.8" r="1.2"/>
<circle cx="295.8" cy="456.1" r="1.2"/>
<circle cx="310.2" cy="442.5" r="1.2"/>
<circle cx="286.4" cy="462.2" r="1.2"/>
<circle cx="311.3" cy="448.6" r="1.2"/>
<circle cx="310.1" cy="447.0" r="1.2"/>
<circle cx="291.2" cy="455.3" r="1.2"/>
<circle cx="299.8" cy="452.0" r="1.2"/>
<circle cx="285.0" cy="467.7" r="1.2"/>
<circle cx="304.7" cy="456.4" r="1.2"/>
<circle cx="303.7" cy="455.1" r="1.2"/>
<circle cx="311.4" cy="456.1" r="1.2"/>
<circle cx="307.8" cy="444.7" r="1.2"/>
<circle cx="295.6" cy="457.0" r="1.2"/>
<circle cx="292.8" cy="454.3" r="1.2"/>
<circle cx="294.7" cy="453.6" r="1.2"/>
<circle cx="293.3" cy="454.0" r="1.2"/>
<circle cx="303.2" cy="451.9" r="1.2"/>
<circle cx="304.3" cy="450.1" r="1.2"/>
<circle cx="308.8" cy="446.2" r="1.2"/>
<circle cx="288.7" cy="463.4" r="1.2"/>
<circle cx="307.7" cy="450.3" r="1.2"/>
<circle cx="292.5" cy="455.4" r="1.2"/>
<circle cx="304.6" cy="459.5" r="1.2"/>
<circle cx="293.8" cy="465.7" r="1.2"/>
<circle cx="307.3" cy="448.2" r="1.2"/>
<circle cx="304.4" cy="455.4" r="1.2"/>
<circle cx="310.3" cy="454.5" r="1.2"/>
<circle cx="296.7" cy="462.3" r="1.2"/>
<circle cx="307.6" cy="447.3" r="1.2"/>
<circle cx="308.9" cy="455.2" r="1.2"/>
<circle cx="290.6" cy="456.6" r="1.2"/>
<circle cx="305.1" cy="460.0" r="1.2"/>
<circle cx="302.0" cy="457.1" r="1.2"/>
<circle cx="299.0" cy="450.5" r="1.2"/>
<circle cx="311.3" cy="451.5" r="1.2"/>
<circle cx="297.6" cy="460.3" r="1.2"/>
<circle cx="292.6" cy="463.9" r="1.2"/>
<circle cx="292.6" cy="453.8" r="1.2"/>
<circle cx="296.4" cy="457.3" r="1.2"/>
<circle cx="312.4" cy="443.2" r="1.2"/>
<circle cx="291.3" cy="465.9" r="1.2"/>
<circle cx="303.4" cy="461.5" r="1.2"/>
<circle cx="293.9" cy="463.0" r="1.2"/>
<circle cx="286.3" cy="462.0" r="1.2"/>
<circle cx="306.8" cy="449.2" r="1.2"/>
<circle cx="310.2" cy="448.0" r="1.2"/>
<circle cx="308.4" cy="457.8" r="1.2"/>
<circle cx="318.1" cy="447.8" r="1.2"/>
<circle cx="307.9" cy="456.3" r="1.2"/>
<circle cx="303.9" cy="451.3" r="1.2"/>
<circle cx="306.8" cy="453.8" r="1.2"/>
<circle cx="317.3" cy="438.5" r="1.2"/>
<circle cx="318.6" cy="443.3" r="1.2"/>
<circle cx="321.4" cy="444.3" r="1.2"/>
<circle cx="306.9" cy="448.7" r="1.2"/>
<circle cx="309.5" cy="445.8" r="1.2"/>
<circle cx="306.4" cy="455.7" r="1.2"/>
<circle cx="309.5" cy="446.8" r="1.2"/>
<circle cx="312.4" cy="445.0" r="1.2"/>
<circle cx="325.0" cy="440.9" r="1.2"/>
<circle cx="301.6" cy="449.4" r="1.2"/>
<circle cx="300.7" cy="450.0" r="1.2"/>
<circle cx="308.7" cy="454.4" r="1.2"/>
<circle cx="324.5" cy="433.6" r="1.2"/>
<circle cx="318.6" cy="444.5" r="1.2"/>
<circle cx="305.2" cy="457.5" r="1.2"/>
<circle cx="314.2" cy="444.6" r="1.2"/>
<circle cx="300.3" cy="450.4" r="1.2"/>
<circle cx="322.4" cy="434.5" r="1.2"/>
<circle cx="317.0" cy="442.2" r="1.2"/>
<circle cx="316.4" cy="443.8" r="1.2"/>
<circle cx="303.2" cy="455.2" r="1.2"/>
<circle cx="304.1" cy="456.7" r="1.2"/>
<circle cx="303.6" cy="453.9" r="1.2"/>
<circle cx="310.6" cy="457.4" r="1.2"/>
<circle cx="313.0" cy="442.4" r="1.2"/>
<circle cx="322.0" cy="440.5" r="1.2"/>
<circle cx="311.3" cy="445.6" r="1.2"/>
<circle cx="303.7" cy="445.6" r="1.2"/>
<circle cx="323.6" cy="444.4" r="1.2"/>
<circle cx="321.3" cy="437.1" r="1.2"/>
<circle cx="315.2" cy="443.1" r="1.2"/>
<circle cx="298.6" cy="452.7" r="1.2"/>
<circle cx="302.0" cy="448.8" r="1.2"/>
<circle cx="313.2" cy="449.0" r="1.2"/>
<circle cx="320.6" cy="442.1" r="1.2"/>
<circle cx="299.8" cy="452.8" r="1.2"/>
<circle cx="301.0" cy="450.6" r="1.2"/>
<circle cx="314.9" cy="444.3" r="1.2"/>
<circle cx="324.4" cy="443.0" r="1.2"/>
<circle cx="316.0" cy="444.1" r="1.2"/>
<circle cx="317.3" cy="436.8" r="1.2"/>
<circle cx="302.1" cy="456.4" r="1.2"/>
<circle cx="312.3" cy="455.1" r="1.2"/>
<circle cx="320.8" cy="439.4" r="1.2"/>
<circle cx="299.5" cy="454.4" r="1.2"/>
<circle cx="302.8" cy="458.1" r="1.2"/>
<circle cx="308.8" cy="457.9" r="1.2"/>
<circle cx="308.7" cy="447.2" r="1.2"/>
<circle cx="314.1" cy="441.5" r="1.2"/>
<circle cx="315.9" cy="441.7" r="1.2"/>
<circle cx="318.7" cy="436.9" r="1.2"/>
<circle cx="306.7" cy="450.9" r="1.2"/>
<circle cx="300.5" cy="451.6" r="1.2"/>
<circle cx="304.1" cy="457.7" r="1.2"/>
<circle cx="308.3" cy="456.3" r="1.2"/>
<circle cx="325.3" cy="435.4" r="1.2"/>
<circle cx="313.0" cy="443.0" r="1.2"/>
<circle cx="300.3" cy="451.8" r="1.2"/>
<circle cx="310.0" cy="452.3" r="1.2"/>
<circle cx="324.4" cy="432.9" r="1.2"/>
<circle cx="319.3" cy="440.3" r="1.2"/>
<circle cx="319.8" cy="437.9" r="1.2"/>
<circle cx="314.5" cy="439.2" r="1.2"/>
<circle cx="302.4" cy="446.4" r="1.2"/>
<circle cx="318.4" cy="446.7" r="1.2"/>
<circle cx="312.9" cy="447.4" r="1.2"/>
<circle cx="309.4" cy="445.9" r="1.2"/>
<circle cx="308.5" cy="458.2" r="1.2"/>
<circle cx="307.3" cy="449.8" r="1.2"/>
<circle cx="322.6" cy="435.7" r="1.2"/>
<circle cx="309.2" cy="451.4" r="1.2"/>
<circle cx="315.0" cy="444.8" r="1.2"/>
<circle cx="312.7" cy="451.1" r="1.2"/>
<circle cx="319.0" cy="445.8" r="1.2"/>
<circle cx="326.3" cy="441.9" r="1.2"/>
<circle cx="322.1" cy="438.5" r="1.2"/>
<circle cx="323.1" cy="441.7" r="1.2"/>
<circle cx="311.6" cy="448.9" r="1.2"/>
<circle cx="310.2" cy="446.5" r="1.2"/>
<circle cx="306.4" cy="457.2" r="1.2"/>
<circle cx="313.7" cy="442.1" r="1.2"/>
<circle cx="320.1" cy="439.2" r="1.2"/>
<circle cx="299.7" cy="452.0" r="1.2"/>
<circle cx="305.3" cy="447.2" r="1.2"/>
<circle cx="313.5" cy="445.9" r="1.2"/>
<circle cx="324.4" cy="432.6" r="1.2"/>
<circle cx="314.3" cy="447.3" r="1.2"/>
<circle cx="305.6" cy="447.1" r="1.2"/>
<circle cx="323.1" cy="434.9" r="1.2"/>
<circle cx="303.3" cy="453.1" r="1.2"/>
<circle cx="319.1" cy="442.5" r="1.2"/>
<circle cx="314.7" cy="442.9" r="1.2"/>
<circle cx="319.9" cy="440.1" r="1.2"/>
<circle cx="302.7" cy="458.2" r="1.2"/>
<circle cx="302.8" cy="454.2" r="1.2"/>
<circle cx="316.7" cy="447.2" r="1.2"/>
<circle cx="301.6" cy="447.4" r="1.2"/>
<circle cx="310.4" cy="447.3" r="1.2"/>
<circle cx="308.2" cy="447.1" r="1.2"/>
<circle cx="307.0" cy="459.9" r="1.2"/>
<circle cx="303.6" cy="453.0" r="1.2"/>
<circle cx="308.4" cy="456.2" r="1.2"/>
<circle cx="300.1" cy="450.0" r="1.2"/>
<circle cx="312.0" cy="444.4" r="1.2"/>
<circle cx="326.6" cy="437.2" r="1.2"/>
<circle cx="302.8" cy="456.7" r="1.2"/>
<circle cx="322.3" cy="441.8" r="1.2"/>
<circle cx="323.7" cy="443.4" r="1.2"/>
<circle cx="314.6" cy="446.4" r="1.2"/>
<circle cx="317.7" cy="446.1" r="1.2"/>
<circle cx="310.3" cy="448.2" r="1.2"/>
<circle cx="305.9" cy="452.3" r="1.2"/>
<circle cx="311.6" cy="451.5" r="1.2"/>
<circle cx="300.8" cy="451.4" r="1.2"/>
<circle cx="326.9" cy="440.9" r="1.2"/>
<circle cx="298.7" cy="457.4" r="1.2"/>
<circle cx="326.4" cy="436.4" r="1.2"/>
<circle cx="323.3" cy="432.1" r="1.2"/>
<circle cx="325.5" cy="438.1" r="1.2"/>
<circle cx="319.4" cy="437.3" r="1.2"/>
<circle cx="326.9" cy="435.0" r="1.2"/>
<circle cx="322.3" cy="432.5" r="1.2"/>
<circle cx="319.2" cy="441.9" r="1.2"/>
<circle cx="324.7" cy="437.9" r="1.2"/>
<circle cx="318.6" cy="436.5" r="1.2"/>
<circle cx="320.6" cy="438.2" r="1.2"/>
<circle cx="327.5" cy="436.1" r="1.2"/>
<circle cx="325.7" cy="432.9" r="1.2"/>
<circle cx="326.9" cy="432.6" r="1.2"/>
<circle cx="328.9" cy="435.8" r="1.2"/>
<circle cx="319.9" cy="437.6" r="1.2"/>
<circle cx="323.0" cy="433.7" r="1.2"/>
<circle cx="325.3" cy="439.9" r="1.2"/>
<circle cx="324.9" cy="435.0" r="1.2"/>
<circle cx="324.1" cy="436.1" r="1.2"/>
<circle cx="321.0" cy="441.4" r="1.2"/>
<circle cx="324.5" cy="441.7" r="1.2"/>
<circle cx="321.0" cy="441.9" r="1.2"/>
<circle cx="323.9" cy="438.7" r="1.2"/>
<circle cx="326.8" cy="434.3" r="1.2"/>
<circle cx="321.6" cy="441.4" r="1.2"/>
<circle cx="318.7" cy="441.2" r="1.2"/>
<circle cx="326.5" cy="433.8" r="1.2"/>
<circle cx="321.9" cy="433.3" r="1.2"/>
<circle cx="319.4" cy="436.9" r="1.2"/>
<circle cx="329.4" cy="430.6" r="1.2"/>
<circle cx="327.6" cy="437.9" r="1.2"/>
<circle cx="328.5" cy="435.1" r="1.2"/>
<circle cx="324.7" cy="437.3" r="1.2"/>
<circle cx="319.4" cy="437.9" r="1.2"/>
<circle cx="322.7" cy="433.9" r="1.2"/>
<circle cx="322.9" cy="438.3" r="1.2"/>
<circle cx="326.9" cy="430.9" r="1.2"/>
<circle cx="288.1" cy="473.4" r="1.2"/>
<circle cx="284.6" cy="476.1" r="1.2"/>
<circle cx="287.5" cy="478.7" r="1.2"/>
<circle cx="283.2" cy="470.4" r="1.2"/>
<circle cx="283.9" cy="467.5" r="1.2"/>
<circle cx="287.2" cy="480.2" r="1.2"/>
<circle cx="283.9" cy="467.1" r="1.2"/>
<circle cx="286.3" cy="475.6" r="1.2"/>
<circle cx="287.1" cy="480.2" r="1.2"/>
<circle cx="287.9" cy="473.6" r="1.2"/>
<circle cx="286.8" cy="477.6" r="1.2"/>
<circle cx="285.0" cy="477.1" r="1.2"/>
<circle cx="284.3" cy="462.4" r="1.2"/>
<circle cx="284.4" cy="475.0" r="1.2"/>
<circle cx="286.9" cy="478.6" r="1.2"/>
<circle cx="282.8" cy="472.4" r="1.2"/>
<circle cx="285.9" cy="477.5" r="1.2"/>
<circle cx="284.7" cy="465.6" r="1.2"/>
<circle cx="283.3" cy="471.5" r="1.2"/>
<circle cx="288.7" cy="469.4" r="1.2"/>
<circle cx="281.2" cy="468.5" r="1.2"/>
<circle cx="282.1" cy="467.0" r="1.2"/>
<circle cx="282.5" cy="471.9" r="1.2"/>
<circle cx="283.8" cy="475.1" r="1.2"/>
<circle cx="286.4" cy="472.2" r="1.2"/>
<circle cx="287.8" cy="475.6" r="1.2"/>
<circle cx="285.7" cy="474.8" r="1.2"/>
<circle cx="284.3" cy="473.1" r="1.2"/>
<circle cx="285.2" cy="476.0" r="1.2"/>
<circle cx="285.6" cy="471.5" r="1.2"/>
<circle cx="285.5" cy="470.9" r="1.2"/>
<circle cx="282.5" cy="462.5" r="1.2"/>
<circle cx="282.5" cy="468.7" r="1.2"/>
<circle cx="285.9" cy="477.2" r="1.2"/>
<circle cx="284.1" cy="468.4" r="1.2"/>
<circle cx="282.8" cy="469.7" r="1.2"/>
<circle cx="303.4" cy="450.6" r="1.2"/>
<circle cx="294.3" cy="453.8" r="1.2"/>
<circle cx="306.7" cy="448.5" r="1.2"/>
<circle cx="296.3" cy="453.7" r="1.2"/>
<circle cx="316.2" cy="438.2" r="1.2"/>
<circle cx="316.6" cy="437.5" r="1.2"/>
<circle cx="322.5" cy="436.7" r="1.2"/>
<circle cx="325.0" cy="436.3" r="1.2"/>
<circle cx="309.9" cy="446.3" r="1.2"/>
<circle cx="326.2" cy="432.4" r="1.2"/>
<circle cx="330.7" cy="429.2" r="1.2"/>
<circle cx="333.5" cy="429.0" r="1.2"/>
<rect x="329.20" y="500.70" width="3.00" height="0.90" fill="#cfcdec" stroke="#9c96d4" stroke-width="0.5"/>
<rect x="332.20" y="490.40" width="3.00" height="11.20" fill="#cfcdec" stroke="#9c96d4" stroke-width="0.5"/>
<rect x="335.20" y="491.20" width="3.10" height="10.40" fill="#cfcdec" stroke="#9c96d4" stroke-width="0.5"/>
<rect x="338.30" y="483.60" width="3.00" height="18.00" fill="#cfcdec" stroke="#9c96d4" stroke-width="0.5"/>
<rect x="341.30" y="471.80" width="3.10" height="29.80" fill="#cfcdec" stroke="#9c96d4" stroke-width="0.5"/>
<rect x="344.40" y="471.80" width="3.00" height="29.80" fill="#cfcdec" stroke="#9c96d4" stroke-width="0.5"/>
<rect x="347.40" y="482.60" width="3.00" height="19.00" fill="#cfcdec" stroke="#9c96d4" stroke-width="0.5"/>
<rect x="350.40" y="486.00" width="3.00" height="15.60" fill="#cfcdec" stroke="#9c96d4" stroke-width="0.5"/>
<rect x="353.40" y="494.50" width="3.10" height="7.10" fill="#cfcdec" stroke="#9c96d4" stroke-width="0.5"/>
<rect x="356.50" y="501.30" width="3.00" height="0.30" fill="#cfcdec" stroke="#9c96d4" stroke-width="0.5"/>
<rect x="328.00" y="470.70" width="32.00" height="30.90" fill="none" stroke="#333" stroke-width="0.75"/>
<line x1="332.20" y1="501.60" x2="332.20" y2="504.40" stroke="#222" stroke-width="0.8"/>
<text x="332.20" y="512.00" font-size="3.7" text-anchor="middle" fill="#333" stroke="none">-0.02</text>
<line x1="338.30" y1="501.60" x2="338.30" y2="504.40" stroke="#222" stroke-width="0.8"/>
<line x1="344.40" y1="501.60" x2="344.40" y2="504.40" stroke="#222" stroke-width="0.8"/>
<text x="344.40" y="512.00" font-size="3.7" text-anchor="middle" fill="#333" stroke="none">0.00</text>
<line x1="350.50" y1="501.60" x2="350.50" y2="504.40" stroke="#222" stroke-width="0.8"/>
<line x1="356.50" y1="501.60" x2="356.50" y2="504.40" stroke="#222" stroke-width="0.8"/>
<text x="356.50" y="512.00" font-size="3.7" text-anchor="middle" fill="#333" stroke="none">0.02</text>
<line x1="325.10" y1="501.60" x2="328.00" y2="501.60" stroke="#222" stroke-width="0.8"/>
<text transform="translate(322.10,501.60) rotate(-90)" font-size="3.7" text-anchor="middle" fill="#333" stroke="none">0</text>
<line x1="325.10" y1="495.30" x2="328.00" y2="495.30" stroke="#222" stroke-width="0.8"/>
<text transform="translate(322.10,495.30) rotate(-90)" font-size="3.7" text-anchor="middle" fill="#333" stroke="none">20</text>
<line x1="325.10" y1="489.00" x2="328.00" y2="489.00" stroke="#222" stroke-width="0.8"/>
<line x1="325.10" y1="482.70" x2="328.00" y2="482.70" stroke="#222" stroke-width="0.8"/>
<text transform="translate(322.10,482.70) rotate(-90)" font-size="3.7" text-anchor="middle" fill="#333" stroke="none">60</text>
<line x1="325.10" y1="476.40" x2="328.00" y2="476.40" stroke="#222" stroke-width="0.8"/>
<text x="344.00" y="518.00" font-size="3.8" text-anchor="middle" fill="#333" stroke="none">Residuals</text>
<text transform="translate(317.00,486.65) rotate(-90)" font-size="3.4" text-anchor="middle" fill="#666" stroke="none">%</text>
<text x="342.00" y="467.10" font-size="4.35" text-anchor="middle" fill="#5b52b8" stroke="none"><tspan font-weight="bold">R</tspan><tspan font-size="3.0" dy="-2">2</tspan><tspan dy="2"> = 0.9469</tspan></text>
<rect x="224.3" y="387.2" width="151.40" height="140.10" fill="none" stroke="#2a2a2a" stroke-width="1.2"/>
<text stroke="#6f6bb8" stroke-width="0.22" x="358.70" y="406.30" font-size="4.1" fill="#6f6bb8">1:1</text>
<text stroke="#4b41a9" stroke-width="0.22" transform="translate(234.90,401.20) scale(0.9,1.13)" font-size="8.6" font-weight="normal" text-anchor="middle" fill="#4b41a9">θ</text>
<text stroke="#4b41a9" stroke-width="0.22" transform="translate(239.70,403.30) scale(1.0,1.13)" font-size="6.2" font-weight="normal" text-anchor="middle" fill="#4b41a9">S</text>
<text stroke="#4b41a9" stroke-width="0.22" transform="translate(246.50,401.20) scale(1.0,1.13)" font-size="7.7" font-weight="normal" text-anchor="middle" fill="#4b41a9">=</text>
<text stroke="#4b41a9" stroke-width="0.22" transform="translate(253.75,401.20) scale(1.0,1.13)" font-size="7.7" font-weight="bold" text-anchor="middle" fill="#4b41a9">a</text>
<text stroke="#4b41a9" stroke-width="0.22" transform="translate(260.10,401.20) scale(1.0,1.13)" font-size="7.7" font-weight="normal" text-anchor="middle" fill="#4b41a9">+</text>
<text stroke="#4b41a9" stroke-width="0.22" transform="translate(267.10,401.20) scale(1.0,1.13)" font-size="7.7" font-weight="bold" text-anchor="middle" fill="#4b41a9">b</text>
<circle cx="274.90" cy="398.30" r="0.6" fill="#4b41a9" opacity="0.8"/>
<text stroke="#4b41a9" stroke-width="0.22" transform="translate(282.95,401.20) scale(1.0,1.13)" font-size="7.7" font-weight="bold" text-anchor="middle" fill="#4b41a9">ln</text>
<text stroke="#4b41a9" stroke-width="0.22" transform="translate(287.90,401.20) scale(1.0,1.13)" font-size="7.7" font-weight="normal" text-anchor="middle" fill="#4b41a9">(</text>
<text stroke="#4b41a9" stroke-width="0.22" transform="translate(294.35,401.20) scale(1.0,1.13)" font-size="7.7" font-weight="bold" text-anchor="middle" fill="#4b41a9">Cl</text>
<text stroke="#4b41a9" stroke-width="0.22" transform="translate(300.80,401.20) scale(1.0,1.13)" font-size="7.7" font-weight="normal" text-anchor="middle" fill="#4b41a9">)</text>
<text stroke="#4b41a9" stroke-width="0.22" transform="translate(306.60,401.20) scale(1.0,1.13)" font-size="7.7" font-weight="normal" text-anchor="middle" fill="#4b41a9">+</text>
<text stroke="#4b41a9" stroke-width="0.22" transform="translate(313.10,401.20) scale(1.0,1.13)" font-size="7.7" font-weight="bold" text-anchor="middle" fill="#4b41a9">c</text>
<circle cx="320.70" cy="398.30" r="0.6" fill="#4b41a9" opacity="0.8"/>
<text stroke="#4b41a9" stroke-width="0.22" transform="translate(331.30,401.20) scale(1.0,1.13)" font-size="7.7" font-weight="bold" text-anchor="middle" fill="#4b41a9">BD</text>
<text stroke="#161616" stroke-width="0.22" x="233.10" y="415.10" font-size="4.5" fill="#161616"><tspan font-weight="bold">a</tspan> = 0.6945 ± 0.0143</text>
<text stroke="#161616" stroke-width="0.22" x="233.10" y="422.80" font-size="4.5" fill="#161616"><tspan font-weight="bold">b</tspan> = 0.0209 ± 0.0013</text>
<text stroke="#161616" stroke-width="0.22" x="233.10" y="430.50" font-size="4.5" fill="#161616"><tspan font-weight="bold">c</tspan> = −0.2224 ± 0.0085</text>
</svg>
</body></html>
